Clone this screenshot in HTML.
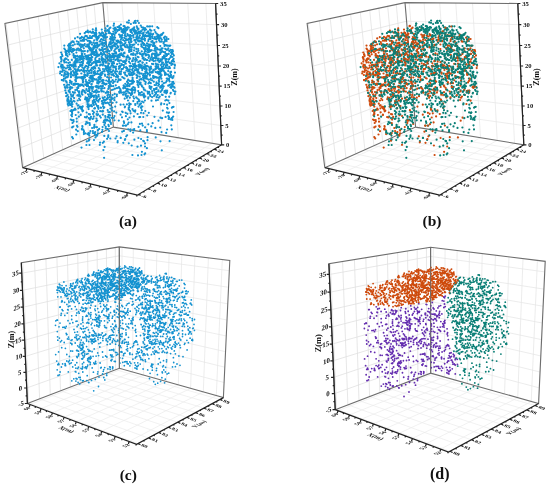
<!DOCTYPE html>
<html><head><meta charset="utf-8"><title>figure</title><style>html,body{margin:0;padding:0;background:#fff}svg{display:block}</style></head><body>
<svg width="550" height="486" viewBox="0 0 550 486" font-family="'Liberation Serif', serif" font-weight="bold">
<rect width="550" height="486" fill="#fff"/>
<g transform="translate(0 0)">
<path d="M23.7 167.2L6.1 23.2M33.9 162.6L17.2 20.8M43.8 158.2L28 18.5M53.4 153.9L38.3 16.3M62.7 149.8L48.4 14.2M71.7 145.7L58.1 12.1M80.5 141.8L67.5 10.1M89 138L76.7 8.2M97.2 134.4L85.5 6.3M105.2 130.8L94.1 4.5M20.2 148L111.9 110.1M17.8 128.1L110.5 92.8M15.3 107.8L109 75.3M12.8 87.3L107.5 57.5M10.2 66.3L105.9 39.5M7.6 45.1L104.4 21.2" stroke="#dedede" stroke-width="0.7" fill="none"/>
<path d="M117.4 127.8L107 2.7M131.8 130.1L121.9 2.8M146.7 132.6L137.5 2.9M162.2 135.1L153.6 3M178.3 137.7L170.3 3.2M195 140.4L187.8 3.3M212.3 143.3L205.9 3.5M111.9 110.1L220.8 125.5M110.5 92.8L219.9 106M109 75.3L219.1 86.1M107.5 57.5L218.3 66M105.9 39.5L217.4 45.5M104.4 21.2L216.5 24.7" stroke="#e5e5e5" stroke-width="0.7" fill="none"/>
<path d="M23.7 167.2L138.3 194.6M33.9 162.6L148 188.8M43.8 158.2L157.3 183.2M53.4 153.9L166.3 177.8M62.7 149.8L175 172.6M71.7 145.7L183.4 167.6M80.5 141.8L191.5 162.8M89 138L199.3 158.1M97.2 134.4L206.8 153.6M105.2 130.8L214.1 149.2M26.8 168.7L117.4 127.8M41.8 172.3L131.8 130.1M57.5 176L146.7 132.6M73.8 180L162.2 135.1M90.8 184.1L178.3 137.7M108.7 188.3L195 140.4M127.3 192.8L212.3 143.3" stroke="#ebebeb" stroke-width="0.7" fill="none"/>
<path d="M22.6 167.7L4.9 23.4L102.8 2.6L215.6 3.5L221.6 144.8L113.4 127.1L22.6 167.7M102.8 2.6L113.4 127.1" stroke="#6e6e6e" stroke-width="1.1" fill="none"/>
<path d="M113.3 67.4h0M139.9 83.4h0M70.9 101.3h0M128.8 27.7h0M68.1 45.6h0M144.3 60h0M146.6 63h0M105.5 28.4h0M168.3 115.9h0M171.3 125.3h0M130.3 30h0M133.4 96.7h0M88.6 109.1h0M166.5 74.3h0M124.4 31.1h0M73.5 53.9h0M91.3 88.7h0M152.9 59.7h0M96 32.4h0M162.1 34.2h0M131.3 31.7h0M159.2 79h0M78.4 105.4h0M134.4 139.7h0M173.9 83.4h0M81.9 77.6h0M91.6 94.8h0M100.5 41.3h0M103.3 49.7h0M146.5 75.9h0M126 40.5h0M92 44.6h0M140 64.5h0M173.1 81.9h0M96.8 87.4h0M104.9 74.6h0M70.8 119.5h0M89 140.2h0M128.8 22.8h0M97.5 71.5h0M128.8 143.3h0M95.1 72.9h0M123.5 26.1h0M82.8 80.9h0M106.5 46.8h0M118.6 80.4h0M138.4 28.9h0M143.7 53.8h0M92.3 75.7h0M60.7 57.5h0M93.7 48.8h0M102.5 62.1h0M60 73.5h0M163.9 37.7h0M138.8 99.7h0M126.1 67.1h0M168.2 71.1h0M96 104.1h0M163.9 71.1h0M88 85.5h0M76.8 41.3h0M70.8 69.6h0M132.1 69.6h0M91.3 32.6h0M95.9 62.2h0M96.2 65.6h0M171.9 107.7h0M114.2 53.7h0M165.3 100.5h0M137.5 102.1h0M154.2 90.6h0M69.9 62.4h0M113.2 86.2h0M162.6 57.2h0M90.3 41.3h0M158.2 67.7h0M120.8 137.9h0M65.9 81h0M98.5 61.9h0M110.2 42.4h0M83.8 48.3h0M88.6 32.3h0M161.5 86.3h0M109.3 28.5h0M165.2 91.3h0M124.9 46.4h0M87 116.6h0M75.8 69.3h0M78.1 77.4h0M98.6 94.9h0M158.6 58.5h0M161.5 71.2h0M89.9 49.5h0M171.6 61.8h0M70.2 65h0M133 82.3h0M110.7 41.3h0M159.2 74.3h0M166.4 55.9h0M137.8 29.7h0M71.2 73.8h0M133.2 53.4h0M68.4 101.7h0M107.3 30.1h0M148.6 73.6h0M124.1 122.9h0M127 81.8h0M136.5 51.5h0M132.3 90.9h0M134 66.2h0M111.3 86.1h0M137.4 98.5h0M64.4 60.6h0M111.2 81.7h0M95.2 68.4h0M139.6 101.1h0M87.4 31.8h0M164.2 104h0M102.6 102.5h0M99.7 41.4h0M138.5 31.7h0M107.8 129.2h0M81.9 109.7h0M89.3 61.9h0M104.2 53.7h0M87.4 85.9h0M108.4 124.9h0M62.4 65h0M77.4 95.4h0M81.8 36.9h0M98.1 114.4h0M124.9 139.9h0M69 69.5h0M118.1 76.4h0M154.5 116.8h0M98.3 87.3h0M144.6 30.7h0M122.9 68.8h0M166.1 49.3h0M96.8 100.5h0M138.5 87h0M96.6 92.4h0M139.8 53.2h0M138.4 138h0M85.7 124.2h0M156 100.4h0M105.5 61.4h0M87.8 75.1h0M104.1 99.5h0M103.2 40.2h0M159.1 68.7h0M100.3 79h0M126.2 68.1h0M79.5 57.5h0M143.7 67.8h0M144.2 97.4h0M105.8 128.5h0M103.2 80.1h0M161.8 150.3h0M129.4 59.2h0M130.7 104.2h0M83.1 110.7h0M161.2 52.3h0M152.6 41.8h0M149.2 56.2h0M170.3 45.6h0M167 90.5h0M148.7 39.3h0M139.4 64.3h0M75.7 77.5h0M104.2 70.8h0M135.3 110.3h0M93.6 52.3h0M167.1 107.8h0M142.4 106.5h0M92 106.3h0M163.1 66.4h0M104.2 36.1h0M86.4 89h0M64.5 62.4h0M139.5 40.7h0M128.6 38.9h0M157.1 49.5h0M148.6 66.7h0M107.2 91.3h0M171.9 54h0M66.6 85.7h0M71.6 83.8h0M126.9 89.8h0M98.1 36.8h0M123.3 88.3h0M102.6 55.1h0M86.6 70.9h0M139.5 80h0M132.8 28.7h0M151.8 36.6h0M105.3 55h0M63.1 67.1h0M85.8 85h0M81 50.3h0M71 76.1h0M137.8 82.7h0M90.6 54.7h0M169.3 51h0M165.2 72.5h0M146.1 29.5h0M75.1 74.4h0M96.5 118.6h0M127.5 46.7h0M106.3 120.6h0M109.3 86.7h0M124.8 35.5h0M167.5 62.1h0M121.6 29.6h0M77.9 83.8h0M164.5 58.3h0M131.7 88.5h0M111.1 39.7h0M140.5 31.4h0M102.4 81.5h0M157.7 73.2h0M142 41.8h0M130.9 74.6h0M87.2 97.9h0M102.2 111.6h0M77.6 84.1h0M110.2 33.2h0M90.2 50.3h0M93.1 35.9h0M155.1 76.8h0M132.4 155h0M104.3 107.3h0M155 77.1h0M105.1 75.8h0M121.2 92.7h0M85.5 66.6h0M91.7 53.2h0M108.9 70.9h0M139.6 79.7h0M125.1 43.5h0M143 43.1h0M155.2 57.2h0M155.8 63.7h0M87.8 58.2h0M158.4 28.2h0M143.5 59h0M96.6 90h0M111.8 63.4h0M110.6 67.1h0M68.5 49.2h0M94 133.2h0M113 40.8h0M82.9 82.4h0M120.5 79.9h0M92.5 76.9h0M111.4 57.4h0M153.8 81.7h0M71 98.3h0M80 56.1h0M145.5 35.7h0M77.6 60.8h0M148.1 31.4h0M171.8 129.4h0M113.2 70.5h0M124.5 78.5h0M82.3 53.8h0M125.4 46.9h0M126 39.1h0M159.4 71.8h0M139.4 73.7h0M128 40h0M125.8 63.6h0M83.3 60.5h0M147.2 115.5h0M169.4 103.1h0M125.3 32.2h0M94.4 126.1h0M127.8 124.2h0M164.4 64.4h0M150.2 69h0M99.3 32.8h0M134 81.7h0M143.3 117h0M125.7 91.3h0M166.8 59.2h0M70.4 81.3h0M84.9 117.1h0M151.8 57.1h0M129.3 36.3h0M97.1 47.7h0M138.9 23h0M120.6 104.7h0M145.1 127.3h0M164.8 56.2h0M116.8 76.2h0M134.9 63.9h0M71.9 114.4h0M149.3 45.1h0M66.3 62.3h0M76.5 61.2h0M79.3 84.6h0M118.8 68.7h0M145.4 35.1h0M143.7 79.9h0M73 75h0M62.1 80.2h0M120.8 74.3h0M96.9 105.7h0M148.6 39.5h0M99.5 54.6h0M141.1 38.6h0M142.8 42.9h0M154 96h0M94.2 40.4h0M102.3 44.9h0M169.5 46h0M150.6 79.7h0M68.2 60h0M106.7 83.8h0M113 83.1h0M120.9 65.6h0M102.7 97.6h0M132.2 91h0M150 74.8h0M79.8 95.7h0M74.2 65.1h0M98.7 82.1h0M109.5 51.2h0M114.3 57.7h0M105.8 55.4h0M130.1 58.5h0M151.4 30.6h0M153.8 70.4h0M172.9 84.1h0M93.2 78.5h0M150.2 30.6h0M150.8 33.4h0M92.1 36.5h0M165.2 52.1h0M69.9 82.5h0M120.8 35.3h0M139 94.7h0M67.4 87.7h0M125.8 61.2h0M71.7 66h0M94.2 127h0M151.8 50.3h0M171.3 84.2h0M66.2 53.1h0M101.8 101.2h0M148.6 79.7h0M165.1 56.7h0M137.5 103.4h0M88.8 100.6h0M123.7 78.1h0M146.9 131.4h0M125.5 42.8h0M107.6 25.9h0M107.3 71h0M156.6 87.9h0M121.3 53.4h0M133.3 58.2h0M73.4 85h0M138.9 92.9h0M81.9 128.9h0M123.8 65.2h0M141.4 46.2h0M79.2 70.8h0M145.1 73.7h0M80.6 108h0M113.4 56.3h0M62 54.7h0M88.8 55.3h0M149.9 69.8h0M144.4 36.8h0M126.4 70.5h0M97.9 130.1h0M128.9 70h0M82.4 40.7h0M92.6 119h0M157.7 34.7h0M102.9 98.1h0M78.3 87.9h0M82.9 90h0M158 72.9h0M173.6 112h0M111.7 56h0M64 78.6h0M103.2 111.1h0M75.8 66.5h0M61.2 59h0M161.7 64h0M96.3 36.9h0M97.2 135.6h0M74.5 72.8h0M112.7 98.6h0M139.8 76.7h0M154.6 85h0M93.3 42.7h0M86.4 98.9h0M118.9 66.6h0M127.7 69.2h0M84.8 44.1h0M77.2 87.9h0M94.4 75h0M70.5 73.5h0M169.1 117.4h0M131.8 80.7h0M166.6 99.9h0M123.8 85.7h0M78.1 48.5h0M98.3 101h0M130.6 113.3h0M65.8 74.7h0M172.9 51.2h0M135.1 33.8h0M96.3 135.7h0M133.9 116.4h0M123 55.3h0M163.6 52h0M91.6 51.9h0M108.1 81.4h0M143.4 87.8h0M123.1 88h0M87.9 46.7h0M155.2 92.5h0M78.6 85.9h0M79.2 62.3h0M95.4 61.3h0M99.2 128.9h0M127.8 119.3h0M99 36h0M103.1 59.4h0M124 87.4h0M152.6 34.5h0M80.7 62.5h0M109.9 54.8h0M72.6 96.5h0M165.9 62.5h0M155.6 69.3h0M172.5 50.1h0M156.9 38.6h0M105.8 126.9h0M105.8 42.1h0M110.3 138.5h0M170.3 57.6h0M150.8 78.5h0M124.1 72.7h0M125.3 63.5h0M151.4 72.1h0M89.2 90h0M158.8 80.6h0M160.3 46h0M150.3 51.1h0M118.4 40.9h0M170.5 49.8h0M113.3 59.5h0M72.8 65.3h0M95.2 36.4h0M141.6 85.3h0M95.9 50.6h0M96.8 52.8h0M168.6 53.9h0M125.3 94.6h0M122.2 131.7h0M92.6 95.9h0M156.1 77.1h0M168.4 100.7h0M164.4 92.5h0M101 52.9h0M137.5 146.7h0M102.4 129.8h0M154.9 37.2h0M154.3 42.9h0M106.2 66.4h0M161.1 35.3h0M112.3 74.8h0M148.9 26.5h0M93.2 95.9h0M156.5 82.3h0M77.4 44.1h0M76.1 129.7h0M129.8 66.6h0M86.4 59.2h0M62.6 69.9h0M74.9 65.8h0M110.1 38.8h0M127.7 35h0M96.2 92.7h0M104.3 83.9h0M108.1 120.6h0M168.7 53.9h0M143.1 33.5h0M136.9 70.4h0M168.6 75.6h0M156.5 52.4h0M77.3 55.8h0M86.3 122.1h0M164.3 58h0M114.5 44.3h0M156.6 58.3h0M134.9 70.1h0M87.8 61h0M143.5 113.2h0M80.8 40.7h0M103.4 64.1h0M150.9 66.6h0M111.7 97.4h0M92.8 88.8h0M165.8 82.4h0M122.6 61.3h0M119 42.1h0M146.5 60.1h0M143.5 74.1h0M131.8 72.8h0M167.2 90.9h0M142.1 101.5h0M130.2 63.3h0M91 97.2h0M85.4 133.3h0M133.2 87.2h0M87 86.2h0M77.6 37.2h0M141.9 38h0M113.6 81.6h0M97.2 115.2h0M104.1 120.7h0M127.7 86.1h0M72 102.2h0M63.9 79h0M155.1 57.1h0M125.5 125.7h0M71.4 110.1h0M123 44.8h0M65.7 77.3h0M136.9 32.7h0M156.7 39h0M125.3 83.8h0M143.7 66.7h0M72.8 92.1h0M90.6 78.6h0M92.2 91h0M82.4 65.2h0M90.1 31.6h0M103.7 35.8h0M145.2 153.3h0M75.4 69.3h0M169.1 45.7h0M153.2 64.2h0M130.1 75.2h0M89.2 59.7h0M118.4 59.3h0M104.9 100.7h0M161.4 48.4h0M107.2 92.5h0M158.2 85.7h0M93.7 46h0M129.8 71.3h0M90.6 77.2h0M150.8 68.9h0M152.1 80.3h0M133.3 129.5h0M133.3 74.4h0M168.7 119h0M161.5 68.6h0M132.1 75.3h0M105.6 92.8h0M105.1 122.9h0M86.2 117.5h0M109.3 56h0M102.8 142.8h0M88.8 45.6h0M161.1 104.5h0M120.2 92.1h0M131.7 92.5h0M162.1 81.5h0M119.5 56.5h0M111.7 34.1h0M93.1 113.9h0M81.6 62.2h0M91.3 72.9h0M97.9 91.7h0M113.3 62.5h0M168.4 68.4h0M96.5 56.8h0M173.5 106.8h0M66.4 93.2h0M141.3 67.9h0M90.8 69.7h0M71.8 59.9h0M171 75.3h0M162.3 51.2h0M97.2 42.8h0M87.9 46.6h0M120.7 90.7h0M99.1 78.9h0M156.6 96.6h0M166.4 49.8h0M137.5 36.4h0M173.2 116.6h0M161.1 75.6h0M96.3 37.8h0M89.7 70.8h0M91 42.4h0M87.8 59h0M115 88.7h0M129.1 52h0M93.8 62.5h0M131.2 42.1h0M109.1 114.9h0M150.2 38.2h0M166.8 54.2h0M69.5 54.3h0M166.7 78.5h0M128.9 42.2h0M109.4 117.9h0M67.4 65.6h0M90.4 131.2h0M81.9 55.1h0M76 59h0M117.1 64.2h0M131.4 122.4h0M137.1 53.6h0M114.4 100.2h0M160.6 92h0M87.5 91h0M102 91.2h0M92.4 80.5h0M107.5 67.2h0M169.1 80.2h0M93.8 104.9h0M172.5 85.4h0M66.2 92.8h0M132.7 83.4h0M68.4 99.3h0M93.9 92h0M90.1 61.3h0M158.4 90.3h0M71.3 105h0M143.2 27.8h0M127 27.8h0M136.5 70.4h0M85.6 97.3h0M118.3 46.9h0M70.4 111h0M120.7 137.9h0M124.9 62.4h0M107.9 116.9h0M87.5 134.1h0M93.4 104.6h0M115.3 46.5h0M91.2 55.1h0M73.7 42.2h0M112.3 107.5h0M152.2 26.3h0M116.6 136.3h0M110.3 60h0M136.3 48.9h0M127.6 85.5h0M149.8 33.4h0M153 106.5h0M119.4 92.8h0M108.3 68h0M169.6 141.1h0M116.5 29.6h0M157.8 77.6h0M64.8 59.2h0M65.3 87.9h0M137.2 34.1h0M88.4 67.3h0M168.5 113h0M70.3 104.8h0M79.3 91.3h0M158.4 54.5h0M155.4 88.9h0M88 37.9h0M172.9 89.8h0M121.5 69.5h0M91.1 95.5h0M133.3 35.2h0M80.6 64.9h0M76.9 50.1h0M90.7 96h0M93.6 72.1h0M93.6 102.7h0M149.6 86h0M119.8 57h0M79.8 38.3h0M80.2 57h0M127.3 47.4h0M109.7 42.4h0M96.1 99.3h0M171 74.9h0M162.2 34.6h0M124.5 37.9h0M144.5 48.6h0M86.6 89.5h0M116.9 75.2h0M94.1 54.9h0M83.6 51.4h0M66.3 77.3h0M78.8 67.2h0M70.9 74.2h0M125.7 112.8h0M132.3 88.8h0M145.3 111h0M85.2 75.4h0M88.2 62.3h0M103 86.1h0M142.8 55.1h0M153.8 89h0M67.4 55.6h0M114.9 72.1h0M145.6 45.7h0M162.5 58.5h0M130.3 51.1h0M172.2 82h0M120.8 54.9h0M160.6 71.2h0M99.5 61.2h0M115.9 66.5h0M87.9 105.9h0M150.3 87.2h0M171.1 71.9h0M101.9 60.3h0M110.7 69.3h0M77.8 105.6h0M118.4 80.1h0M156 85h0M111.9 110.4h0M119.7 71.7h0M147.4 49.2h0M83.8 68.5h0M162.7 95h0M116.8 56.2h0M84.5 72.3h0M109.2 31.9h0M139.9 123.9h0M140.8 25.5h0M160.3 50.1h0M83.1 61.7h0M153.2 33.9h0M135 59.8h0M135.2 30.3h0M142.3 37.1h0M145.1 68.6h0M118.1 30.2h0M129.3 51h0M158.5 120.7h0M70 87.6h0M97.6 106.4h0M123.7 31.6h0M146.7 54.9h0M135.9 66.2h0M102.8 54.7h0M102.3 42.3h0M120.6 114.7h0M103.7 52.1h0M163.3 70.3h0M75.8 56.7h0M67.6 56.5h0M136.6 68.8h0M135.6 42h0M138.9 40.5h0M127.5 27.4h0M145.7 65.8h0M82.7 39.8h0M114.7 67.2h0M115.6 43.4h0M75.7 58.5h0M89 63.5h0M170.4 87.2h0M73.1 75.4h0M172.1 117.9h0M64.3 45.6h0M108.5 60.3h0M102.6 42.8h0M125.2 72.6h0M68.4 74.3h0M94.9 108h0M100.7 35.5h0M136.3 59.2h0M145.6 73.1h0M65.9 92.9h0M106.8 70.5h0M102.9 79.8h0M83.7 70.2h0M156.7 77.7h0M120.8 73.6h0M145.3 59.1h0M74.6 72.5h0M117.6 142.3h0M123.6 29.1h0M88.7 104.4h0M149 52h0M148.3 41.1h0M89.6 133.1h0M99.2 86.7h0M141.8 65.3h0M164 83.1h0M138.9 100.9h0M132.7 61.2h0M71.4 103.7h0M122 117.3h0M126.2 136.3h0M101.1 88.5h0M127.8 91.6h0M166.1 61.8h0M84.8 54h0M142.8 68.1h0M92.7 53.1h0M69.8 104.1h0M131.3 30.5h0M70.2 89.4h0M159.2 61.5h0M105 30.8h0M102.4 110.9h0M100.1 142.6h0M72.1 127.4h0M159 73.3h0M93 52.6h0M98.1 70.9h0M101.3 43.6h0M167 68h0M142.5 29.5h0M66 55h0M93.8 116.3h0M152.5 36.5h0M96 34.9h0M144.9 100.5h0M101.8 29.6h0M81 108.6h0M137.5 75.5h0M155 50.1h0M93.5 102.7h0M65.9 68.5h0M130 51.4h0M105.4 37.7h0M70.4 101h0M131.5 49.5h0M139 32.8h0M149.6 68.4h0M127.9 96.1h0M105.6 34.9h0M73.8 72.8h0M113.1 74.1h0M96.1 50.2h0M150.8 68.3h0M172.3 119.9h0M102.6 48.3h0M160.2 86.9h0M132.8 60.1h0M110.1 57h0M162.6 48.3h0M62 71.8h0M108.2 136.9h0M157.7 64.3h0M117.1 71.5h0M108.2 89h0M82.4 64.5h0M80.4 85.7h0M98.8 88.3h0M79.1 98.6h0M137.2 27.9h0M119.6 54.2h0M89.1 80.4h0M110.5 42.9h0M87.1 55.7h0M128.2 71.4h0M125.2 36h0M114.5 116.1h0M152.3 93.1h0M141.2 78.8h0M132.6 77.8h0M154.7 95.1h0M135.2 54.3h0M67.7 104.1h0M86.8 36.1h0M149.2 34.8h0M98.7 100.1h0M147.5 52.4h0M103.7 108.1h0M73 71.1h0M94.1 127.8h0M94.8 71.2h0M99.9 76.5h0M160.2 52.3h0M69.7 45.6h0M132.8 66.5h0M116.5 40.8h0M88.3 99.5h0M119.4 60.8h0M72.3 111.3h0M100.8 86.2h0M122 45.4h0M122.6 54.8h0M145 146.5h0M165.7 90.5h0M69.2 84.8h0M130.2 44.9h0M109.1 53.7h0M127.2 84.8h0M118.9 68.8h0M66.1 50.8h0M72.4 65.6h0M121.6 69.1h0M136.4 65.9h0M120.9 60.3h0M88.8 114.1h0M98.4 108.8h0M130.1 37.5h0M71 64.8h0M81.9 53.7h0M160.6 59.3h0M108.6 116h0M87.1 63.1h0M64.3 74.9h0M74.9 92.6h0M86.8 83.8h0M125.4 88.2h0M64.8 87.1h0M152.7 72.4h0M127.7 55.6h0M96 63.9h0M113.8 56.7h0M161.5 70.6h0M140.3 66.1h0M122.3 77.1h0M158.3 83.6h0M94.3 45.3h0M153 76.1h0M116.6 44.2h0M77 89.8h0M128.1 83.1h0M107.3 98.9h0M149.9 68.2h0M125.8 86.3h0M131.3 83.8h0M104.4 83.4h0M149.5 86.9h0M87.6 51.6h0M141.8 51.4h0M111.7 117.8h0M69.4 101.4h0M123.3 142.8h0M128 27.3h0M94.2 92h0M96.5 79.4h0M114.8 81.6h0M171.2 86.6h0M91.8 84h0M133.6 37.4h0M130.8 89.8h0M142.7 58.3h0M125.2 74.7h0M120.5 53.6h0M105.4 119.4h0M69.2 50.8h0M109 86.8h0M87.3 73.1h0M67.7 77.1h0M116.1 52.3h0M95.3 90.8h0M127.7 80.6h0M97.3 65.4h0M140.2 117h0M114 63.5h0M80.7 114.5h0M135.2 65.7h0M169.6 63.1h0M111.4 72.2h0M151.8 56.5h0M121.6 64.2h0M104.2 53.3h0M81.9 65.4h0M84.7 67.3h0M156.5 33.5h0M170.3 72.1h0M102.3 83.5h0M141.9 54.6h0M150.2 95.6h0M133 80.6h0M105.6 59.7h0M140.2 67.3h0M105.1 65.8h0M128.2 79.6h0M143.4 102.3h0M171.2 88h0M150.9 44.7h0M129.5 117.5h0M95.2 54.9h0M145.4 84.1h0M92.8 77.5h0M143.3 27.6h0M87.5 82.9h0M104.3 43.1h0M171.9 50h0M101.1 49.8h0M165.7 60.6h0M156 93.7h0M143.8 28.9h0M165.9 65.9h0M127.4 113.8h0M139.4 37.3h0M131.3 38.7h0M140.9 95h0M125.9 116.2h0M103.1 100.5h0M89.3 135.6h0M130.2 35.1h0M130.4 129.4h0M143 57.9h0M146.5 71.8h0M93.3 69.1h0M124.2 61h0M63.6 80.7h0M87.8 84.7h0M102.5 32.8h0M141.3 44.4h0M69.4 65.2h0M149.4 44.9h0M130.2 111h0M78.3 95.8h0M142.2 70h0M110.9 39.2h0M84.7 33.2h0M105 40.3h0M80.2 107h0M103.6 83h0M108.7 59.8h0M147.3 60h0M127.3 29.5h0M117.3 55.8h0M84.9 51h0M80.1 100.1h0M87.7 30.6h0M114 23.7h0M81.9 109h0M110.4 84.4h0M73.9 83.8h0M129.2 92.9h0M156.7 68.2h0M73 48.8h0M96.5 51.7h0M152.6 123.2h0M102.2 103.7h0M70.2 67.9h0M74.1 109.8h0M93 87h0M171.4 52.1h0M155.7 72.1h0M74 57.4h0M87.3 101.9h0M119.2 27.6h0M93.9 112.4h0M69.5 92.5h0M97.2 47.7h0M111.5 46.5h0M156.2 77.4h0M146.9 78.7h0M98 74h0M105.8 43.3h0M121.6 31.7h0M135.2 104.1h0M144.6 89.5h0M151.5 86.9h0M117.4 27h0M81.4 70h0M72.3 49.6h0M84 131.2h0M174.8 94.1h0M164.7 68.1h0M76.6 103.7h0M129.6 49.2h0M147.5 91.7h0M68.9 52.3h0M86.2 57.4h0M117.5 45.8h0M134.7 67.5h0M101.7 72.3h0M144.9 50h0M79.9 106.9h0M124.7 40.9h0M85.6 56h0M108.7 86h0M102.6 127h0M103.2 33.1h0M110.7 47.5h0M156.9 66.7h0M129.5 39.3h0M134.3 47.7h0M122.1 64.7h0M146.9 76.1h0M92.7 103h0M98.7 68h0M79.1 50.4h0M109.9 121.6h0M97.1 61.3h0M84.4 74.8h0M126.9 45h0M139.1 33.1h0M112.4 47.8h0M123.4 29h0M88.8 140.7h0M163.6 43.4h0M106.8 68.2h0M115 27.9h0M131.3 74.1h0M105.9 68.1h0M140.3 32.9h0M75.6 71.2h0M95.7 47.5h0M93.2 47.6h0M159.3 62.1h0M72.5 123h0M105.1 48.9h0M136.9 60h0M119 87h0M86.3 39.5h0M174.8 64.7h0M170.8 92.8h0M109 131h0M76.9 62.5h0M120.9 39.3h0M103.5 122.3h0M163.3 32.8h0M89.1 40.8h0M96.2 79.7h0M149.6 37.2h0M97.2 111.7h0M119.4 28.2h0M73.5 120.1h0M129.6 47h0M64.1 84.8h0M111.1 59.7h0M144.5 154.3h0M157.9 100h0M159.3 77.7h0M168.1 74.5h0M115.2 106.6h0M83.5 86.1h0M73 75h0M87.5 74.8h0M136.9 77.9h0M91 65.2h0M172.2 52.9h0M93.7 75.3h0M136.8 26.3h0M71.3 115.2h0M165.2 56.5h0M150 26.4h0M110.8 44.3h0M80.8 44.4h0M122.8 49.7h0M163.6 57h0M169.6 81.5h0M87.9 70.4h0M88.4 133.2h0M156.5 89.1h0M165.5 67.4h0M98.4 101.7h0M170.6 63.1h0M81.5 51.4h0M127 75.9h0M113.2 70.4h0M90 92.9h0M65 49.5h0M116.5 40.9h0M76.8 78.3h0M102.8 114.7h0M150.4 39.2h0M75 72.3h0M146.4 55.2h0M138.2 49h0M160.1 41.7h0M104.6 146.9h0M172.2 64h0M124.7 98.7h0M80 65.2h0M68.5 97.1h0M96.6 85.8h0M141 103.6h0M105.3 120.6h0M79 92.6h0M109 63.8h0M87.5 82.4h0M123.2 32.9h0M97.8 56.1h0M66.8 53.4h0M96.9 97.3h0M134.1 98.5h0M129.8 97.7h0M76 81.2h0M101.6 56.9h0M109 67.7h0M93 49.5h0M73.6 67.2h0M143.7 32.8h0M129 109.7h0M115.8 28.9h0M103.1 36.7h0M79.6 45.5h0M85 99.1h0M102.6 73.5h0M128.7 122.5h0M116 76.8h0M148.5 36h0M134.1 50.4h0M114.6 34.9h0M129 73.9h0M133.4 29.9h0M87.4 106.5h0M74.1 98.1h0M115.5 52.1h0M173.8 55.4h0M161.6 75h0M75.3 60.9h0M133.5 110.8h0M159.9 76.8h0M145.6 78.3h0M148.9 82.9h0M89.5 77.6h0M143 75.5h0M73.3 94.6h0M130.4 66.6h0M154.3 45.8h0M139.6 104.8h0M158.5 38.2h0M103.2 62.9h0M144.2 38.9h0M162 59.8h0M167.5 45.7h0M84.5 92.1h0M103 69h0M113.7 42.3h0M164.5 46.1h0M66.7 82.5h0M148.2 51.8h0M119.5 30h0M100.5 107.6h0M120.8 41.3h0M76.3 134.5h0M129.2 105.6h0M139.9 35.3h0M152.2 72.4h0M159.6 36.1h0M140.9 107.7h0M160.1 69.2h0M142.8 62.5h0M154.9 45.9h0M98.9 77.1h0M144.6 76.2h0M73 95.8h0M123.4 55.5h0M78 69.2h0M111.6 74.7h0M112.7 45.7h0M164.9 39.4h0M97.2 82h0M129.7 80.9h0M86.4 145h0M77.5 74h0M77 125.9h0M82.1 78.7h0M138.4 82.6h0M80.1 59.8h0M102.6 71.7h0M115.2 27.8h0M135.9 30.9h0M82.9 51h0M110.2 61.4h0M62.4 55.9h0M82.7 106.4h0M103.3 63.9h0M102 131.8h0M91.3 58.8h0M163.7 86.3h0M146.7 69.8h0M80.7 115.1h0M131.7 145.5h0M144.2 28.9h0M140.3 61.2h0M112.1 35.4h0M95.5 33.9h0M76.7 77.3h0M96.2 73.9h0M91.7 93.3h0M94.4 66.7h0M139.8 41.3h0M95 108.3h0M90.8 81.4h0M102.5 86.2h0M155.6 60.6h0M85.9 80h0M70.6 86.8h0M111.9 90.1h0M99.6 69h0M142 86.4h0M169.2 96.8h0M87.7 40.8h0M140.2 40.8h0M110.6 100.1h0M114.6 97.7h0M173.5 76h0M164.8 72.8h0M131.2 54.2h0M99.9 98.7h0M123.1 40.1h0M94.4 124.8h0M108.6 45.5h0M61.1 57.9h0M111.4 49.8h0M83.3 81.5h0M100 70.5h0M102.1 47.6h0M88.4 62.6h0M148.3 124.3h0M115.1 33h0M158.6 36.3h0M111.9 98.9h0M94.8 79.3h0M160.5 61.1h0M120.4 89.4h0M67.3 100.2h0M138.1 40.9h0M114.3 50.9h0M104.1 157.8h0M96.9 127.2h0M97.5 44.4h0M74.9 84.7h0M79.2 94.4h0M127.9 56.9h0M66 53.7h0M92.8 80.8h0M141 145.7h0M70.9 49.7h0M78.5 112.3h0M98.1 80.4h0M92.9 131.1h0M123.8 121.4h0M145.7 75.6h0M113.4 66.2h0M108.5 114.8h0M119.2 51.2h0M70 80.6h0M149.8 75.5h0M144.6 69h0M132.3 93.2h0M106.3 33.7h0M134.8 87.9h0M151.8 55.1h0M154.1 38.7h0M147.6 74.1h0M75.7 83.5h0M87.6 100.2h0M96.3 45.6h0M121.9 43h0M155.4 68.6h0M156.8 55.8h0M147.1 36.1h0M71.8 120.2h0M147.6 32.5h0M113.3 31.6h0M160.1 73.9h0M108.1 72.3h0M173.5 90.8h0M80.1 33.8h0M84 45.4h0M138.2 62.1h0M157.8 95h0M171.7 87.2h0M118 46.8h0M155.3 58.2h0M136.6 36h0M107.2 77.2h0M93.5 48.4h0M135.9 58.9h0M132.4 70.7h0M97.2 83.1h0M158.2 66.5h0M164.7 45h0M79.4 59.7h0M156.4 41.7h0M148.9 44.4h0M172.7 53.7h0M96.2 97.6h0M145.9 35.9h0M119.8 55.2h0M141.6 79.5h0M120.3 35.6h0M165.4 53.8h0M157.4 37.4h0M101.8 72.7h0M73.6 121.6h0M98 54.8h0M110.5 56.1h0M83.1 71.1h0M126.6 39.7h0M91 116.8h0M81 47.2h0M83.3 51.5h0M161.4 78.7h0M152.4 38h0M97.1 62.4h0M100.2 111.2h0M127.1 135.3h0M136.7 39.5h0M124.4 92.6h0M63.8 76.1h0M128.4 35.2h0M116.5 102.3h0M137.5 82.6h0M156.9 36.5h0M71.1 72.2h0M129.2 103.4h0M100.1 50.5h0M113.9 66.4h0M131 35.9h0M71.9 52.1h0M174.9 65.7h0M162.4 84.5h0M132.5 109.1h0M67.7 95h0M109.7 115.1h0M82.7 44.9h0M139.2 61.6h0M137.6 84.8h0M90.8 37.9h0M108.7 33h0M75.8 59.7h0M103.4 82.7h0M165.6 73.3h0M69.7 87.4h0M86.8 83.2h0M141 112.8h0M142 123.6h0M142.4 62.8h0M69.2 67h0M82.4 94.7h0M112.6 95h0M72.2 113.8h0M170.8 52.5h0M133.1 55h0M80.6 57.8h0M119.4 73.9h0M129.5 45h0M150.9 58.1h0M85.7 66.1h0M136.3 39.6h0M166.5 37.3h0M115.6 71h0M140.1 54.1h0M117.9 76.1h0M123.6 85.7h0M149.5 60.9h0M142.7 125.6h0M108.8 126.2h0M138.3 32.8h0M122.1 111.6h0M133.1 132.6h0M107.9 97.9h0M137.7 56.8h0M143.8 93.5h0M68.9 44.4h0M162 86.2h0M148.4 46.5h0M148.2 32.9h0M91.3 84.3h0M116.2 53.7h0M74.6 69h0M95 101.7h0M92.7 52h0M61.3 64.5h0M72.1 137.1h0M92.6 110.9h0M152.7 53.7h0M99.9 116.1h0M169.2 45.8h0M82.5 111.3h0M167.7 79h0M115.1 37.6h0M172.6 107.1h0M88.2 57.3h0M107.3 52h0M155 55.2h0M86.8 141.4h0M155.6 51.2h0M77.9 70.1h0M63 67.9h0M81.3 77h0M152.1 91.1h0M124.6 26.5h0M101.6 59.3h0M94.9 43.3h0M157.5 49.1h0M169.1 78.8h0M95.8 60.5h0M161.2 86.2h0M153.9 43.2h0M73.3 64.4h0M118.9 79.3h0M150.3 95.9h0M146.5 77.4h0M72.1 106.6h0M90.8 94.7h0M132.9 68.5h0M87.4 104.1h0M132.9 64h0M141.1 67.7h0M128.9 20.5h0M144.6 52h0M95 134.2h0M161.8 39.5h0M90 36h0M147.9 93.7h0M127.1 22.4h0M95.7 63.6h0M89 91.2h0M143.9 141.2h0M107.8 56.2h0M149.5 34.1h0M110.8 122.7h0M116.3 112.6h0M80.9 56.2h0M111.5 65.6h0M126.1 125.6h0M141.2 108h0M95.6 30.2h0M105.7 51.6h0M149.7 46.4h0M109.1 83.3h0M85.5 35.8h0M117.7 57.3h0M100.9 39.5h0M67.5 67.6h0M109.8 55.2h0M97.3 54.1h0M126 96h0M165.1 36.5h0M75.1 62.3h0M163.7 64.3h0M107.4 95.4h0M68.8 46.9h0M75.3 90h0M123.8 53.2h0M98.7 96.4h0M140.3 130.3h0M90.3 60.6h0M132.2 44.8h0M74.5 101.4h0M137.6 114h0M96.3 33.8h0M89.3 48.7h0M141.5 155h0M79.2 70.3h0M106.8 57.9h0M99.1 55.4h0M114.5 120.3h0M147.9 48.6h0M153.7 46h0M117.7 141.1h0M120.2 43.1h0M70.9 94.4h0M97 135h0M107.2 47.2h0M148.2 98.6h0M121.2 71.6h0M75.3 80.1h0M161.5 132.1h0M159.1 69.4h0M128.7 85.6h0M149.5 70.6h0M120.1 49.3h0M65.8 51.9h0M64.2 70.5h0M113 62.1h0M89.3 46.9h0M134.2 27.4h0M133.4 89.8h0M100.8 33.9h0M94.5 79.3h0M107.5 129h0M161 34.6h0M137.9 38.6h0M161.3 103.4h0M75.5 65.1h0M133.2 73h0M89.3 106.4h0M88.4 59.2h0M88.2 66.6h0M157.6 71.8h0M147.7 35.6h0M69.8 67.5h0M91.8 51.1h0M115 30.3h0M82.6 46.6h0M61.1 61.6h0M97.6 73.7h0M155.4 53.8h0M138 155.4h0M129.6 66.1h0M123 56.2h0M81.7 92.7h0M94.9 127.1h0M143.2 35.6h0M101 86.4h0M122.9 64.8h0M80.8 84.7h0M126.5 93.5h0M131.7 47.4h0M102.9 58.7h0M171.9 118.1h0M104.6 71.3h0M120.3 91h0M110.2 102.1h0M109 44.5h0M95.7 95.4h0M148 52.2h0M84.2 37.4h0M175 91.8h0M160.5 141.3h0M91.7 56.9h0M71.5 83.5h0M98.4 80.6h0M134.4 44.5h0M148.5 57.5h0M114.7 93.9h0M125.2 139.1h0M123.5 29.4h0M126.4 30.2h0M113.6 25.7h0M83.1 82.5h0M159.2 81.7h0M141.1 139h0M80.8 106.9h0M85 77.5h0M86.4 66h0M101.5 80.7h0M82.3 126h0M107.9 50.7h0M71.7 81.9h0M132.6 45.5h0M152.4 40.8h0M110.2 115.4h0M76.5 73.1h0M149.1 48.1h0M157 48.1h0M145 38.8h0M96.2 30.2h0M141.4 73.7h0M75.5 77.2h0M135.1 111.7h0M108.2 92.1h0M122.9 125.7h0M137.6 20.9h0M159.8 96.6h0M105.2 116h0M145.5 67.8h0M151.3 41.8h0M93.7 62.1h0M161.8 94.7h0M112.6 80h0M72.4 41.3h0M108.8 31.1h0M162.8 88.1h0M145.4 90.5h0M95 35.6h0M172.1 60.8h0M120.5 45.4h0M102.7 50.9h0M144.2 43.9h0M149.2 92.6h0M156.9 54.1h0M80.4 96.6h0M107.4 26.2h0M67.2 77.1h0M142.2 54.2h0M168.4 39h0M104.1 61.4h0M160.3 87.7h0M94.9 51.9h0M67.7 98.6h0M92.9 31.8h0M115.2 49.3h0M167 92.5h0M129.6 43.9h0M149.8 49.9h0M124.4 52.5h0M77 49.2h0M138.6 64.8h0M69.6 51.2h0M173.2 59.6h0M106.9 68.8h0M89.1 48.6h0M166.2 91.3h0M65.3 87.5h0M134.2 129h0M105.6 56.7h0M127.4 88.9h0M71.3 42.4h0M129.8 45.6h0M150.4 69.3h0M148.7 47.1h0M91.5 86.7h0M103.6 59.2h0M154.2 50.5h0M90.4 75.9h0M89 88.7h0M167.7 108.6h0M146.5 70.2h0M170.4 73.1h0M78.2 91.3h0M100.6 64.5h0M112.3 64.6h0M82.4 56.2h0M138.2 44.5h0M60.3 71.7h0M89.6 98.6h0M103.7 91.6h0M101.3 64.7h0M160.8 65h0M152.4 93.4h0M173.8 86.8h0M86 46.4h0M94.1 32.9h0M74.9 55.9h0M131.1 73.9h0M115.6 32.3h0M69.9 92.1h0M102 35.6h0M75.6 109.7h0M69.5 43.8h0M151.5 50.3h0M150.8 88.9h0M73.4 41.5h0M78.9 116.7h0M124.4 43.8h0M92.3 57.2h0M96.8 98.3h0M118.1 61.1h0M133.7 71.8h0M104.8 97.1h0M167.1 129.5h0M147 72.5h0M94.5 47.3h0M75.7 115h0M141.6 67.1h0M102.5 35.5h0M139.3 67.7h0M165.7 45.2h0M150.5 34.6h0M87.5 68.4h0M77.5 95.4h0M142.2 56h0M82.1 59.2h0M153.6 45.6h0M85.2 84.5h0M121.8 64.4h0M84.3 39.3h0M139.4 72.7h0M166.2 49.5h0M138.4 50.8h0M160.7 38.1h0M79.3 84.9h0M90.4 87.1h0M128 100.5h0M144.6 64.5h0M115.3 60.1h0M98 38.6h0M73 138.4h0M129.2 57.5h0M135.7 39.8h0M122.2 35.2h0M94 46.5h0M152.9 45.9h0M104.1 83.9h0M134.7 32.7h0M96.3 42.9h0M129.5 86.1h0M66.2 96.2h0M131 93.7h0M151.5 100.7h0M134.7 92.6h0M142.4 47.2h0M110.2 120h0M61.5 59.7h0M103.6 80.3h0M112.7 39.2h0M61.8 80.1h0M133.8 31h0M77.8 100.5h0M113.1 57.1h0M79.6 77.4h0M97.7 82.2h0M100.8 117.6h0M117.3 40.6h0M95.3 60.1h0M129.6 84.9h0M107 37.1h0M162.3 51.5h0M82.4 67.5h0M172.7 64.1h0M67.4 87.1h0M93.4 118.4h0M77.8 131.2h0M164.3 58.5h0M138.3 69.7h0M87.5 46.7h0M98 46.2h0M154.7 53.7h0M78.7 86.1h0M121.6 48.3h0M130.7 31.9h0M143.8 96.6h0M123.3 92.4h0M124.5 26.2h0M107.5 97.9h0M174.5 68h0M164.8 39.4h0M88.8 65h0M87.2 44.5h0M148 50.4h0M127.4 34.1h0M108.6 63.5h0M139.4 37.8h0M58.4 67.1h0M152.2 71.6h0M88.5 101.6h0M86 31.9h0M96.9 55.3h0M128.6 108.1h0M65.3 90.3h0M108.3 112h0M171.3 65h0M150.6 59.5h0M106.1 51.5h0M115.9 79.6h0M113.8 45.3h0M152 54.2h0M95.3 58.9h0M117.1 47.9h0M98.4 77.7h0M139.5 93.2h0M83.2 90.4h0M110 95.1h0M168.4 61.4h0M139.9 84.2h0M89.1 57.9h0M135.2 90.7h0M153.8 77.9h0M61.1 52.5h0M153.1 58.6h0M133.6 64.9h0M90.7 48.2h0M146.6 49h0M67.5 77h0M84 40.8h0M166.8 80.9h0M169.6 84.9h0M81.9 129.4h0M140.3 103.5h0M109.4 81.4h0M174.5 87.7h0M65.2 78.5h0M122.5 50.1h0M96.6 114h0M83.9 37.9h0M133.8 44.7h0M147.1 45.6h0M115.9 68.4h0M65.7 71.5h0M114.6 44.4h0M173.6 58.8h0M122 50.3h0M94 99.8h0M92.8 29.4h0M86.4 89.7h0M120.6 42h0M78.3 108.3h0M129.2 107.2h0M92.4 78h0M156.7 97.2h0M78.2 56.7h0M123.9 130.9h0M172.8 61.2h0M158.4 64.6h0M166.9 112.4h0M98.4 87.6h0M136.2 97.4h0M73.6 49.1h0M164 55.6h0M116.8 96.2h0M83.6 78.4h0M106.4 37.4h0M166.2 132.9h0M166.7 41h0M92.9 87.5h0M160.6 73.7h0M132.6 79h0M136.5 75.2h0M91.9 37.9h0M149.1 49.5h0M162.8 110.6h0M142.5 94.8h0M104.3 135.9h0M84.2 58.5h0M128.2 129.3h0M138.5 57.2h0M85.9 75.4h0M140.4 83.7h0M90.8 57.9h0M156.5 57.5h0M64.4 67.5h0M117.4 30.9h0M144.3 95.2h0M145.4 45.4h0M144.9 40.4h0M88.8 134.5h0M102.1 32.3h0M108.6 103.4h0M124.4 29.6h0M87.6 122.6h0M141.6 31h0M83.5 37.9h0M110.9 57.6h0M159.9 72.5h0M144.5 81h0M155.4 32.1h0M98.8 78h0M64.9 59.6h0M160.2 53.9h0M100 65.4h0M145.7 55.5h0M157.4 36.1h0M101.5 75.1h0M125 27.3h0M134.3 73.7h0M83.2 79.4h0M61.9 54.4h0M68.3 105.5h0M120.9 24.6h0M99.7 44.5h0M113.3 89.5h0M155.3 127.9h0M130.4 47.3h0M86.8 36.5h0M68.9 49.7h0M73.6 100.8h0M101 107.8h0M125.7 95.7h0M111.6 37.8h0M163 66.6h0M90.7 118h0M112.8 37.2h0M120.8 47h0M64.5 73h0M133.4 28.3h0M128.7 109.5h0M69.6 89.7h0M145.2 67.1h0M114.4 37.2h0M136.8 75.5h0M160.9 71.3h0M137.5 34.5h0M130 71.8h0M134.1 28.8h0M84.3 76.2h0M145 143.4h0M69 103h0M150 94.7h0M99.5 45.4h0M164.7 92.4h0M108.3 135.3h0M76.8 121.7h0M89.7 43.6h0M162 70.5h0M105.6 44.3h0M115.4 73.4h0M129.4 75h0M122.1 38h0M130.4 131.1h0M107.4 102.6h0M117.4 57.3h0M103.9 141.7h0M143.9 48.1h0M123.5 104.5h0M70.3 101.3h0M82.2 55.1h0M121.9 55.1h0M108.7 77.8h0M71.2 87.8h0M145.4 53.9h0M155.7 137.4h0M114.9 29.2h0M74.3 92.7h0M62.3 71.6h0M133.7 22.9h0M75.2 64.4h0M92.9 81.5h0M162.9 62.5h0M108.8 30h0M111.1 77.5h0M171.8 86.5h0M103.4 150.1h0M61.4 67.7h0M131.5 51.1h0M167 55.2h0M91.1 105h0M97.9 130.6h0M119.2 91.9h0M168.3 48.4h0M164.5 91.2h0M145.5 72.9h0M68.4 97h0M109.7 99.6h0M109.3 57.9h0M137.2 81.1h0M153.5 76.1h0M66.5 81.7h0M126.5 36.5h0M89.6 123.2h0M116.7 76.7h0M104.5 88.1h0M67.4 51h0M92.9 133h0M91.8 60h0M131.5 81.4h0M120.6 79.6h0M146.5 68.5h0M89.4 90.3h0M99.5 49.4h0M167.2 64.7h0M105.1 34.6h0M145.7 82.2h0M112.1 43h0M78.2 95.6h0M67.5 101.7h0M103.3 104.2h0M165 73.9h0M137.3 70.6h0M110.8 48.3h0M72 112.5h0M124 67.2h0M92.7 53.8h0M77.5 126.8h0M82.9 63.2h0M149.7 88h0M162.1 118.2h0M128.9 50.4h0M150.1 36.2h0M98.2 106h0M89.2 37.9h0M135.7 22.9h0M123.3 32.2h0M98.8 37.5h0M106.2 80.5h0M132.6 45.4h0M165.7 96.8h0M96.1 121.3h0M148.4 83.5h0M107.6 97.8h0M142.9 36h0M93.9 52.2h0M115.7 33h0M99.4 58.9h0M154.2 44h0M92 49.7h0M103.6 61.6h0M71.4 105.3h0M73.5 109.8h0M101.6 39h0M83.5 76.9h0M159.7 36.7h0M159.8 69.3h0M115.2 55.9h0M83.9 134.1h0M156.4 83.3h0M86.7 100.6h0M112.4 53.8h0M145.1 76.9h0M160.2 127.5h0M74.8 44.3h0M82.1 91.6h0M79.5 49.5h0M158.4 91.3h0M108.5 67h0M129.9 69.3h0M170.9 119.2h0M76.2 75.9h0M92.1 128h0M145.1 66.9h0M76.7 118.6h0M118.5 29.8h0M77.1 73.7h0M111.2 61.1h0M75.6 76.1h0M125.1 34h0M158.3 59.5h0M156.6 92h0M138.5 106.6h0M159.5 61.2h0M119.8 27.6h0M117.7 42.5h0M118.8 120.6h0M154.9 48.7h0M112.5 46.1h0M147.6 137.2h0M126.9 104.3h0M140.1 92.9h0M138.2 91.1h0M125 106.5h0M151.3 126.4h0M133.9 65.8h0M158 36.8h0M158.8 35.1h0M102.5 48.4h0M76.8 71.4h0M170.7 119.4h0M161.8 41.6h0M95.2 54.2h0M102.3 86.3h0M68.1 73.3h0M132.5 29.7h0M71.3 96h0M135.1 89.6h0M70.9 77.2h0M131.5 41.5h0M172.6 78.2h0M72.5 41.6h0M89.4 73.1h0M156.6 58.3h0M106.2 57.5h0M88 94.3h0M156.1 68.6h0M150 29.5h0M104.4 102.6h0M105.1 100.3h0M149.2 91.8h0M160.9 91.3h0M166.7 39.1h0M149.4 82.1h0M165.1 91h0M160.4 117.7h0M82.4 77.2h0M165 74.9h0M91.8 68.2h0M101.2 90.2h0M116.9 94.6h0M96.7 61.3h0M96.6 38.6h0M152.1 97.1h0M84.8 74.7h0M155.9 47.3h0M63.7 60.7h0M88.4 44.5h0M94.2 108.5h0M158.8 97.7h0M150.8 83.2h0M126.4 60.6h0M72 116.3h0M103 106.3h0M97.2 120.5h0M114.1 111.4h0M114 75.8h0M110.4 27.7h0M101.9 58.1h0M147.5 49h0M103.9 37.9h0M114.5 39.4h0M159.6 41.3h0M129.1 47.1h0M107.2 66.5h0M95.4 86.6h0M72.1 110.7h0M119.2 57.1h0M89.8 42.4h0M110.4 108.6h0M60.7 57.2h0M149.5 69.6h0M109.6 46.7h0M71.4 51.5h0M146.9 130.1h0M98.1 86.4h0M96 28.3h0M147.2 26.4h0M98.6 100.5h0M111 124h0M113.5 28.6h0M119.3 26.2h0M134.2 130.2h0M106 62.8h0M68.5 105.5h0M164 42h0M89.4 139.3h0M126.7 75.8h0M168.2 85.7h0M135.6 58h0M165.6 40.1h0M167.3 65.7h0M75.6 79.7h0M85.4 56h0M81.5 84.9h0M83.5 56.9h0M131 46.9h0M122.5 30.8h0M169 59.2h0M91.7 70.8h0M123.2 61.9h0M128.4 39.8h0M175.4 91.6h0M89.9 114.4h0M140.4 104.1h0M169 112.6h0M147 43.4h0M110.3 105.5h0M114 23.5h0M146.9 148.2h0M112.5 71.6h0M169.5 77h0M94.6 95.8h0M81.6 84.7h0M74.3 83.9h0M134.8 21.2h0M88.1 107.3h0M142.2 33.4h0M89.5 145h0M142.2 33.6h0M102.5 88.4h0M109.5 97h0M79 44h0M113.2 55.2h0M82.7 85.2h0M110.7 85.5h0M132.1 61.2h0M144.2 49h0M67.5 72.3h0M143.5 35.2h0M103.2 43.8h0M148.7 58h0M138.4 66.3h0M137.6 76.4h0M91.7 64.1h0M84.8 67.5h0M79.8 95.7h0M146.8 36.3h0M118.8 49.7h0M121 28.2h0M174 61.6h0M71.2 99.7h0M97.5 45.2h0M126.3 59.4h0M148.6 54.9h0M169.3 66.8h0M94.6 54.2h0M140.6 82.7h0M87.6 123h0M161.6 90.6h0M134.7 87.8h0M119.5 63.3h0M157.3 27.2h0M112.6 38.1h0M65.3 90.4h0M107.9 49.3h0M141.8 110.2h0M116.1 74h0M93.8 97.3h0M150 72.2h0M124.8 107.3h0M74.8 92.3h0M122.3 37.7h0M159.3 39h0M110.7 37h0M134.4 40.2h0M84.6 91.1h0M74.2 62.3h0M65.6 74.6h0M87.2 76h0M132.1 94h0M153.7 61.2h0M165.9 59.3h0M127.3 57.5h0M93.1 67.3h0M75 108.7h0M159.2 49.7h0M143.5 45h0M160.7 76.9h0M61 66.2h0M110.7 71.7h0M154.4 30.1h0M102.6 47.3h0M83.9 132.6h0M99.5 35.4h0M72.2 87.7h0M157.3 72.8h0M149.6 82.7h0M96.5 39.4h0M65.4 52h0M170.4 75.5h0M77 60.5h0M142.4 39.4h0M108.2 94.7h0M66.5 58.8h0M105.4 84.1h0M129.7 84.3h0M152.2 60h0M145.3 96.3h0M128.8 47.8h0M155.3 47.4h0M130.9 24h0M127.1 85.7h0M81 37.9h0M98.5 83.6h0M96.7 38.7h0M128.4 27.5h0M99.7 81.9h0M105.6 60.1h0M106.3 61.5h0M73.5 55.4h0M114.7 45h0M109.2 69.3h0M59.4 63.3h0M161.4 49.4h0M145 28.1h0M101.3 91.5h0M123.1 94.7h0M84.7 70.6h0M145.5 83.5h0M150.1 35.9h0M143.6 57.5h0M119.6 66.1h0M154 53.8h0M126.3 57h0M161.7 66.9h0M93.6 72.9h0M96.2 35.9h0M133.3 110.5h0M83 58.8h0M153.1 44h0M99 91.8h0M103.9 34.9h0M108.7 88.2h0M129 71.5h0M171 71.9h0M81 49.9h0M109.4 82.7h0M89 86.8h0M69.5 48.2h0M95.2 102.3h0M116.9 88.2h0M76.4 52.6h0M100.9 77.7h0M103.9 107.3h0M97.2 38.8h0M92.8 50.7h0M126.9 97.8h0M153.4 69.9h0M147.5 140.2h0M125.3 28.5h0M74.5 49.9h0M135.3 104.9h0M166.5 64h0M87.7 74.3h0M121.6 36.7h0M106.8 92.6h0M108.6 92.3h0M97.9 133.4h0M166.9 45.7h0M68.3 75.7h0M82.5 126.8h0M143.2 140.8h0M109.6 73.7h0M108.9 79.9h0M69.7 50.5h0M138.6 81.9h0M95.7 57.5h0M141.6 27.1h0M165.2 48.8h0M124.4 45.5h0M172.2 57h0M102.9 65.5h0M89.8 124.9h0M154.2 57.8h0M92.3 79.8h0M107.1 119.5h0M74.5 65.5h0M68.4 62.9h0M89.8 106.2h0M137.5 72.7h0M110.9 41.1h0M95.2 132.1h0M80.4 49.2h0M105.9 103.2h0M92.8 101.2h0M131.4 29.5h0M88.3 63.3h0M132.1 33h0M100.7 75.1h0M73.3 126.6h0M155.4 38.9h0M85.6 92.8h0M143.7 78.3h0M154.7 54.6h0M72.4 104.2h0M162.1 62.3h0M138.2 85.3h0M105.5 84.6h0M93.1 52.6h0M70.9 47.7h0M77.5 58.8h0M147 65.9h0M145.7 47.5h0M115.8 85.3h0M148.3 97.3h0M148.8 112.8h0M74.8 49.9h0M89.4 82.9h0M145.8 51.1h0M129 61.7h0M89 96.6h0M166.3 93.3h0M99.5 74.4h0M93 52.1h0M141.9 151.8h0M108.1 65.9h0M68.3 74.9h0M70.7 45.5h0M173.2 77h0M112.7 102.8h0M81.5 147.6h0M77.1 74.1h0M81.6 57.9h0M138.2 41.2h0M113.8 117.8h0M81.3 73.5h0M139.3 117.2h0M143.1 77.5h0M140 65.4h0M145.3 71.6h0M167.1 104.7h0M167.7 49.7h0M64.3 48.6h0M159 84.4h0M67.5 84.7h0M95.1 67.8h0M96.5 96.1h0M107.1 138.8h0M127 67.9h0M70.6 43.3h0M94.4 35.3h0M88.7 94.8h0M170.5 93.4h0M170.8 55.8h0M134.7 31.4h0M170 68.1h0M146.4 32.8h0M98 107.5h0M98.2 60.9h0M137.6 53.2h0M113.8 62.1h0M132.5 35.6h0M68.6 90.9h0M90.7 62.1h0M132.5 89.3h0M75.2 63.4h0M73.2 51h0M107.7 110.2h0M94.8 52.1h0M106.2 99.7h0M116.2 32.5h0M65.6 58.3h0M157.9 60.3h0M91 78.6h0M140.9 65.3h0M161.9 87.5h0M124 56.6h0M107.8 74.5h0M175 72.6h0M121.9 50.2h0M104.3 45.9h0M92.5 32.7h0M133.3 101.1h0M116 69.3h0M145.8 54.1h0M165.6 116.9h0M138.6 126.9h0M99.8 144.8h0M136 32.1h0M81.7 93.8h0M107.4 71.1h0M136.1 42.8h0M118.2 55.1h0M113.1 33.9h0M81.6 45h0M105.5 117h0M95.6 45.6h0M82.1 107.8h0M162.9 68.8h0M158.6 55.3h0M80.7 70.5h0M73.6 55.7h0M131.1 54.6h0M78.6 42.2h0M171.4 77.2h0M141.5 106.3h0M142.5 62.6h0M164.6 58.3h0M151.3 72.7h0M135.4 20.8h0M104.8 83.8h0M94 140.1h0M134.5 73.7h0M123.4 125.6h0M97.6 62.2h0M109.5 43.7h0M89.9 119.6h0M75.1 75.1h0M81 77.8h0M164.8 41.3h0M169.2 96.6h0M118.5 87.6h0M106.9 31h0M129.9 36.7h0M72.9 45.4h0M83.3 129.7h0M112.6 38h0M167.3 78.5h0M151.2 68.4h0M162.2 89.7h0M169.1 112.5h0M114.6 50.6h0M75.9 56.5h0M88.8 118.1h0M116.6 48.3h0M153.1 77.8h0M135.5 55.5h0M87.8 50.8h0M89 71.2h0M136.2 37.6h0M155.6 66.3h0M92.1 49.5h0M135.5 67.6h0M75 38.4h0M130.8 42h0M86 81.8h0M104.4 124.9h0M122.7 112.1h0M117.5 81.9h0M117.8 77.4h0M101.9 53.7h0M120.1 37h0M162.5 94.9h0M67.1 74.2h0M89.3 65h0M156.5 64.7h0M95.5 137.4h0M130.8 40.2h0M120.8 91.7h0M61.7 75h0M113.4 45.8h0M80.6 66h0M126.3 30.5h0M141.8 92.2h0M94.9 101.8h0M86.6 112.5h0M81.2 70.1h0M109.6 104.8h0M119.1 34.6h0M97.1 39.9h0M107.6 70.5h0M109.8 112.2h0M137.3 82.3h0M101.1 54.3h0M119.3 73.2h0M78.2 86.8h0M163.1 86h0M106.7 98.9h0M100.5 73.4h0M152 63.8h0M115.5 138.5h0M131 65.9h0M130.9 95.2h0M82.5 90.4h0M92.9 63.1h0M141.7 39.7h0M143.9 89.6h0M130.3 30.8h0M100.1 62h0M119.7 88.3h0M76.2 83.9h0M135.5 61.7h0M124.5 53.2h0M128.9 89.5h0M119.9 67.5h0M138.1 71.4h0M105.1 69h0M159.1 40.2h0M62.6 65.4h0M116.7 59.4h0" stroke="#1492d0" stroke-width="2.2" stroke-linecap="round" fill="none"/>
<path d="M22.6 167.7L137.3 195.2L221.6 144.8M221.6 144.8L215.6 3.5M26.8 168.7L26.2 171.2M41.8 172.3L41.2 174.8M57.5 176L56.8 178.6M73.8 180L73.1 182.5M90.8 184.1L90.2 186.6M108.7 188.3L108 190.9M127.3 192.8L126.7 195.3M34.2 170.5L33.9 171.8M49.6 174.1L49.2 175.5M65.5 178L65.2 179.3M82.2 182L81.9 183.3M99.6 186.2L99.3 187.5M117.9 190.6L117.5 191.9M137 195.2L136.6 196.5M138.3 194.6L140.8 195.2M148 188.8L150.5 189.4M157.3 183.2L159.9 183.8M166.3 177.8L168.9 178.4M175 172.6L177.5 173.3M183.4 167.6L185.9 168.2M191.5 162.8L194 163.4M199.3 158.1L201.8 158.7M206.8 153.6L209.4 154.2M214.1 149.2L216.7 149.8M143.2 191.7L144.6 192M152.7 186L154.1 186.3M161.9 180.5L163.2 180.8M170.7 175.2L172.1 175.5M179.2 170.1L180.6 170.4M187.5 165.2L188.8 165.5M195.4 160.4L196.8 160.8M203.1 155.8L204.4 156.2M210.5 151.4L211.9 151.7M217.7 147.1L219.1 147.4M221.6 144.8L224.2 144.8M220.8 125.5L223.4 125.5M219.9 106L222.5 106M219.1 86.1L221.7 86.1M218.3 66L220.9 66M217.4 45.5L220 45.5M216.5 24.7L219.1 24.7M215.6 3.5L218.2 3.5M221.2 135.2L222.6 135.2M220.3 115.8L221.7 115.8M219.5 96.1L220.9 96.1M218.7 76.1L220.1 76.1M217.8 55.8L219.2 55.8M217 35.1L218.4 35.1M216.1 14.2L217.5 14.2" stroke="#222" stroke-width="1.2" fill="none"/>
<g fill="#111"><text font-size="5.6" text-anchor="middle" transform="matrix(0.858 -0.514 0.972 0.234 25.5 173.4)">-72</text><text font-size="5.6" text-anchor="middle" transform="matrix(0.858 -0.514 0.972 0.234 40.5 177)">-70</text><text font-size="5.6" text-anchor="middle" transform="matrix(0.858 -0.514 0.972 0.234 56.2 180.7)">-68</text><text font-size="5.6" text-anchor="middle" transform="matrix(0.858 -0.514 0.972 0.234 72.5 184.7)">-66</text><text font-size="5.6" text-anchor="middle" transform="matrix(0.858 -0.514 0.972 0.234 89.5 188.8)">-64</text><text font-size="5.6" text-anchor="middle" transform="matrix(0.858 -0.514 0.972 0.234 107.4 193)">-62</text><text font-size="5.6" text-anchor="middle" transform="matrix(0.858 -0.514 0.972 0.234 126 197.5)">-60</text><text font-size="5.6" text-anchor="middle" transform="matrix(1.089 0.262 -0.373 0.616 143.2 197.7)">-6</text><text font-size="5.6" text-anchor="middle" transform="matrix(1.089 0.262 -0.373 0.616 152.9 191.9)">-8</text><text font-size="5.6" text-anchor="middle" transform="matrix(1.089 0.262 -0.373 0.616 162.2 186.3)">-10</text><text font-size="5.6" text-anchor="middle" transform="matrix(1.089 0.262 -0.373 0.616 171.2 180.9)">-12</text><text font-size="5.6" text-anchor="middle" transform="matrix(1.089 0.262 -0.373 0.616 179.9 175.7)">-14</text><text font-size="5.6" text-anchor="middle" transform="matrix(1.089 0.262 -0.373 0.616 188.3 170.7)">-16</text><text font-size="5.6" text-anchor="middle" transform="matrix(1.089 0.262 -0.373 0.616 196.4 165.9)">-18</text><text font-size="5.6" text-anchor="middle" transform="matrix(1.089 0.262 -0.373 0.616 204.2 161.2)">-20</text><text font-size="5.6" text-anchor="middle" transform="matrix(1.089 0.262 -0.373 0.616 211.7 156.7)">-22</text><text font-size="5.6" text-anchor="middle" transform="matrix(1.089 0.262 -0.373 0.616 219 152.3)">-24</text><text x="226.1" y="147" font-size="6.6" text-anchor="start">0</text><text x="225.3" y="127.7" font-size="6.6" text-anchor="start">5</text><text x="224.4" y="108.2" font-size="6.6" text-anchor="start">10</text><text x="223.6" y="88.3" font-size="6.6" text-anchor="start">15</text><text x="222.8" y="68.2" font-size="6.6" text-anchor="start">20</text><text x="221.9" y="47.7" font-size="6.6" text-anchor="start">25</text><text x="221" y="26.9" font-size="6.6" text-anchor="start">30</text><text x="220.1" y="5.7" font-size="6.6" text-anchor="start">35</text><text font-size="6.6" text-anchor="middle" transform="matrix(0.972 0.234 -0.858 0.514 60.5 189.7)">X(m)</text><text font-size="6.072" text-anchor="middle" transform="matrix(0.858 -0.514 0.972 0.234 204.1 172.1)">Y(m)</text><text x="236.5" y="77" font-size="8" text-anchor="middle" transform="rotate(-90 236.5 77)">Z(m)</text></g>
</g>
<g transform="translate(302.2 0)">
<path d="M23.7 167.2L6.1 23.2M33.9 162.6L17.2 20.8M43.8 158.2L28 18.5M53.4 153.9L38.3 16.3M62.7 149.8L48.4 14.2M71.7 145.7L58.1 12.1M80.5 141.8L67.5 10.1M89 138L76.7 8.2M97.2 134.4L85.5 6.3M105.2 130.8L94.1 4.5M20.2 148L111.9 110.1M17.8 128.1L110.5 92.8M15.3 107.8L109 75.3M12.8 87.3L107.5 57.5M10.2 66.3L105.9 39.5M7.6 45.1L104.4 21.2" stroke="#dedede" stroke-width="0.7" fill="none"/>
<path d="M117.4 127.8L107 2.7M131.8 130.1L121.9 2.8M146.7 132.6L137.5 2.9M162.2 135.1L153.6 3M178.3 137.7L170.3 3.2M195 140.4L187.8 3.3M212.3 143.3L205.9 3.5M111.9 110.1L220.8 125.5M110.5 92.8L219.9 106M109 75.3L219.1 86.1M107.5 57.5L218.3 66M105.9 39.5L217.4 45.5M104.4 21.2L216.5 24.7" stroke="#e5e5e5" stroke-width="0.7" fill="none"/>
<path d="M23.7 167.2L138.3 194.6M33.9 162.6L148 188.8M43.8 158.2L157.3 183.2M53.4 153.9L166.3 177.8M62.7 149.8L175 172.6M71.7 145.7L183.4 167.6M80.5 141.8L191.5 162.8M89 138L199.3 158.1M97.2 134.4L206.8 153.6M105.2 130.8L214.1 149.2M26.8 168.7L117.4 127.8M41.8 172.3L131.8 130.1M57.5 176L146.7 132.6M73.8 180L162.2 135.1M90.8 184.1L178.3 137.7M108.7 188.3L195 140.4M127.3 192.8L212.3 143.3" stroke="#ebebeb" stroke-width="0.7" fill="none"/>
<path d="M22.6 167.7L4.9 23.4L102.8 2.6L215.6 3.5L221.6 144.8L113.4 127.1L22.6 167.7M102.8 2.6L113.4 127.1" stroke="#6e6e6e" stroke-width="1.1" fill="none"/>
<path d="M113.3 67.4h0M73.5 53.9h0M81.9 77.6h0M126.1 67.1h0M83.8 48.3h0M71.2 73.8h0M111.3 86.1h0M87.4 85.9h0M138.5 87h0M144.2 97.4h0M104.2 70.8h0M139.5 40.7h0M171.9 54h0M151.8 36.6h0M109.3 86.7h0M132.4 155h0M85.5 66.6h0M77.6 60.8h0M99.3 32.8h0M79.3 84.6h0M62.1 80.2h0M94.2 127h0M113.4 56.3h0M157.7 34.7h0M61.2 59h0M80.7 62.5h0M172.5 50.1h0M89.2 90h0M95.9 50.6h0M92.6 95.9h0M156.6 58.3h0M133.2 87.2h0M97.2 115.2h0M90.6 78.6h0M158.2 85.7h0M152.1 80.3h0M91.3 72.9h0M99.1 78.9h0M115 88.7h0M87.5 91h0M116.6 136.3h0M157.8 77.6h0M88 37.9h0M109.7 42.4h0M66.3 77.3h0M115.9 66.5h0M83.1 61.7h0M97.6 106.4h0M67.6 56.5h0M89 63.5h0M108.5 60.3h0M100.7 35.5h0M102.9 79.8h0M74.6 72.5h0M148.3 41.1h0M101.1 88.5h0M66 55h0M101.8 29.6h0M65.9 68.5h0M135.2 54.3h0M122.6 54.8h0M109.1 53.7h0M121.6 69.1h0M87.1 63.1h0M64.8 87.1h0M149.9 68.2h0M91.8 84h0M67.7 77.1h0M111.4 72.2h0M84.7 67.3h0M128.2 79.6h0M104.3 43.1h0M140.9 95h0M149.4 44.9h0M87.7 30.6h0M155.7 72.1h0M69.5 92.5h0M68.9 52.3h0M144.9 50h0M102.6 127h0M119.4 28.2h0M83.5 86.1h0M87.5 82.4h0M93 49.5h0M116 76.8h0M120.8 41.3h0M98.9 77.1h0M91.3 58.8h0M140.2 40.8h0M61.1 57.9h0M88.4 62.6h0M70.9 49.7h0M145.7 75.6h0M71.8 120.2h0M171.7 87.2h0M93.5 48.4h0M96.2 97.6h0M110.5 56.1h0M83.3 51.5h0M100.1 50.5h0M72.2 113.8h0M142.7 125.6h0M95 101.7h0M118.9 79.3h0M109.1 83.3h0M137.6 114h0M106.8 57.9h0M75.5 65.1h0M102.9 58.7h0M109 44.5h0M71.7 81.9h0M149.1 48.1h0M159.8 96.6h0M67.2 77.1h0M94.9 51.9h0M69.6 51.2h0M65.3 87.5h0M138.2 44.5h0M74.9 55.9h0M75.6 109.7h0M75.7 115h0M153.6 45.6h0M131 93.7h0M61.5 59.7h0M77.8 100.5h0M117.3 40.6h0M128.6 108.1h0M168.4 61.4h0M61.1 52.5h0M67.5 77h0M65.7 71.5h0M84.2 58.5h0M160.2 53.9h0M111.6 37.8h0M64.5 73h0M162 70.5h0M130.4 131.1h0M71.2 87.8h0M62.3 71.6h0M168.3 48.4h0M89.6 123.2h0M99.5 49.4h0M78.2 95.6h0M98.2 106h0M107.6 97.8h0M154.2 44h0M101.6 39h0M83.9 134.1h0M75.6 76.1h0M159.5 61.2h0M102.5 48.4h0M101.9 58.1h0M89.8 42.4h0M71.4 51.5h0M98.6 100.5h0M169 59.2h0M89.9 114.4h0M81.6 84.7h0M67.5 72.3h0M112.6 38.1h0M65.6 74.6h0M96.5 39.4h0M108.2 94.7h0M105.6 60.1h0M59.4 63.3h0M84.7 70.6h0M133.3 110.5h0M89 86.8h0M100.9 77.7h0M97.9 133.4h0M68.4 62.9h0M80.4 49.2h0M81.6 57.9h0M64.3 48.6h0M107.7 110.2h0M107.8 74.5h0M99.8 144.8h0M82.1 107.8h0M131.1 54.6h0M134.5 73.7h0M75.1 75.1h0M167.3 78.5h0M75.9 56.5h0M87.8 50.8h0M162.5 94.9h0" stroke="#ce4a0c" stroke-width="2.2" stroke-linecap="round" fill="none"/>
<path d="M144.3 60h0M130.3 30h0M131.3 31.7h0M126 40.5h0M104.9 74.6h0M128.8 143.3h0M118.6 80.4h0M93.7 48.8h0M76.8 41.3h0M96.2 65.6h0M154.2 90.6h0M158.2 67.7h0M124.9 46.4h0M158.6 58.5h0M133 82.3h0M124.1 122.9h0M139.6 101.1h0M138.5 31.7h0M98.1 114.4h0M98.3 87.3h0M156 100.4h0M159.1 68.7h0M130.7 104.2h0M170.3 45.6h0M92 106.3h0M123.3 88.3h0M71 76.1h0M146.1 29.5h0M164.5 58.3h0M157.7 73.2h0M77.6 84.1h0M143 43.1h0M143.5 59h0M94 133.2h0M111.4 57.4h0M82.3 53.8h0M128 40h0M125.3 32.2h0M70.4 81.3h0M138.9 23h0M134.9 63.9h0M141.1 38.6h0M169.5 46h0M120.9 65.6h0M74.2 65.1h0M130.1 58.5h0M150.2 30.6h0M120.8 35.3h0M148.6 79.7h0M146.9 131.4h0M121.3 53.4h0M123.8 65.2h0M126.4 70.5h0M173.6 112h0M112.7 98.6h0M118.9 66.6h0M70.5 73.5h0M78.1 48.5h0M135.1 33.8h0M91.6 51.9h0M155.2 92.5h0M127.8 119.3h0M170.3 57.6h0M170.5 49.8h0M137.5 146.7h0M161.1 35.3h0M77.4 44.1h0M74.9 65.8h0M108.1 120.6h0M156.5 52.4h0M103.4 64.1h0M122.6 61.3h0M167.2 90.9h0M155.1 57.1h0M136.9 32.7h0M145.2 153.3h0M89.2 59.7h0M132.1 75.3h0M102.8 142.8h0M162.1 81.5h0M173.5 106.8h0M171 75.3h0M161.1 75.6h0M150.2 38.2h0M109.4 117.9h0M117.1 64.2h0M93.8 104.9h0M93.9 92h0M127 27.8h0M120.7 137.9h0M115.3 46.5h0M153 106.5h0M168.5 113h0M80.6 64.9h0M149.6 86h0M144.5 48.6h0M145.3 111h0M153.8 89h0M130.3 51.1h0M110.7 69.3h0M119.7 71.7h0M84.5 72.3h0M145.1 68.6h0M102.3 42.3h0M145.7 65.8h0M138.9 100.9h0M92.7 53.1h0M105 30.8h0M93 52.6h0M139 32.8h0M113.1 74.1h0M160.2 86.9h0M108.2 136.9h0M80.4 85.7h0M89.1 80.4h0M114.5 116.1h0M147.5 52.4h0M99.9 76.5h0M88.3 99.5h0M130.1 37.5h0M161.5 70.6h0M153 76.1h0M87.6 51.6h0M128 27.3h0M120.5 53.6h0M140.2 117h0M150.2 95.6h0M95.2 54.9h0M143.8 28.9h0M130.4 129.4h0M63.6 80.7h0M84.7 33.2h0M147.3 60h0M129.2 92.9h0M102.2 103.7h0M98 74h0M151.5 86.9h0M174.8 94.1h0M134.3 47.7h0M79.1 50.4h0M139.1 33.1h0M106.8 68.2h0M75.6 71.2h0M105.1 48.9h0M170.8 92.8h0M163.3 32.8h0M144.5 154.3h0M172.2 52.9h0M150 26.4h0M169.6 81.5h0M98.4 101.7h0M90 92.9h0M150.4 39.2h0M104.6 146.9h0M96.6 85.8h0M134.1 98.5h0M103.1 36.7h0M133.4 29.9h0M161.6 75h0M148.9 82.9h0M154.3 45.8h0M162 59.8h0M164.5 46.1h0M159.6 36.1h0M111.6 74.7h0M86.4 145h0M80.1 59.8h0M110.2 61.4h0M144.2 28.9h0M96.2 73.9h0M90.8 81.4h0M111.9 90.1h0M131.2 54.2h0M94.8 79.3h0M114.3 50.9h0M79.2 94.4h0M149.8 75.5h0M151.8 55.1h0M96.3 45.6h0M173.5 90.8h0M164.7 45h0M165.4 53.8h0M127.1 135.3h0M116.5 102.3h0M162.4 84.5h0M139.2 61.6h0M103.4 82.7h0M142 123.6h0M129.5 45h0M115.6 71h0M107.9 97.9h0M148.4 46.5h0M152.7 53.7h0M115.1 37.6h0M86.8 141.4h0M152.1 91.1h0M169.1 78.8h0M132.9 68.5h0M144.6 52h0M127.1 22.4h0M149.5 34.1h0M126.1 125.6h0M109.8 55.2h0M163.7 64.3h0M98.7 96.4h0M117.7 141.1h0M148.2 98.6h0M128.7 85.6h0M113 62.1h0M94.5 79.3h0M157.6 71.8h0M82.6 46.6h0M129.6 66.1h0M101 86.4h0M160.5 141.3h0M148.5 57.5h0M113.6 25.7h0M85 77.5h0M75.5 77.2h0M161.8 94.7h0M145.4 90.5h0M144.2 43.9h0M129.6 43.9h0M129.8 45.6h0M154.2 50.5h0M170.4 73.1h0M160.8 65h0M78.9 116.7h0M133.7 71.8h0M150.5 34.6h0M166.2 49.5h0M128 100.5h0M129.2 57.5h0M104.1 83.9h0M82.4 67.5h0M164.3 58.5h0M78.7 86.1h0M124.5 26.2h0M87.2 44.5h0M58.4 67.1h0M106.1 51.5h0M117.1 47.9h0M140.3 103.5h0M96.6 114h0M92.8 29.4h0M92.4 78h0M158.4 64.6h0M164 55.6h0M166.7 41h0M91.9 37.9h0M90.8 57.9h0M145.4 45.4h0M124.4 29.6h0M159.9 72.5h0M125 27.3h0M120.9 24.6h0M86.8 36.5h0M114.4 37.2h0M134.1 28.8h0M99.5 45.4h0M123.5 104.5h0M108.8 30h0M131.5 51.1h0M109.3 57.9h0M91.8 60h0M110.8 48.3h0M82.9 63.2h0M106.2 80.5h0M160.2 127.5h0M108.5 67h0M145.1 66.9h0M112.5 46.1h0M125 106.5h0M102.3 86.3h0M70.9 77.2h0M156.6 58.3h0M104.4 102.6h0M149.4 82.1h0M91.8 68.2h0M152.1 97.1h0M94.2 108.5h0M103 106.3h0M129.1 47.1h0M106 62.8h0M168.2 85.7h0M85.4 56h0M114 23.5h0M89.5 145h0M113.2 55.2h0M137.6 76.4h0M118.8 49.7h0M126.3 59.4h0M87.6 123h0M93.8 97.3h0M159.3 39h0M127.3 57.5h0M160.7 76.9h0M83.9 132.6h0M145.3 96.3h0M81 37.9h0M154 53.8h0M108.7 88.2h0M153.4 69.9h0M166.5 64h0M109.6 73.7h0M141.6 27.1h0M89.8 124.9h0M132.1 33h0M143.7 78.3h0M105.5 84.6h0M145.7 47.5h0M89.4 82.9h0M99.5 74.4h0M70.7 45.5h0M143.1 77.5h0M107.1 138.8h0M170.5 93.4h0M98 107.5h0M68.6 90.9h0M157.9 60.3h0M133.3 101.1h0M118.2 55.1h0M164.6 58.3h0M106.9 31h0M135.5 67.6h0M122.7 112.1h0M130.8 40.2h0M126.3 30.5h0M109.6 104.8h0M137.3 82.3h0M106.7 98.9h0M130.9 95.2h0M130.3 30.8h0M124.5 53.2h0M159.1 40.2h0" stroke="#0a7f76" stroke-width="2.2" stroke-linecap="round" fill="none"/>
<path d="M91.3 88.7h0M70.8 119.5h0M95.1 72.9h0M102.5 62.1h0M161.5 71.2h0M110.7 41.3h0M133.2 53.4h0M96.6 92.4h0M100.3 79h0M83.1 110.7h0M167 90.5h0M135.3 110.3h0M66.6 85.7h0M137.8 82.7h0M75.1 74.4h0M131.7 88.5h0M155.2 57.2h0M113 40.8h0M134 81.7h0M84.9 117.1h0M120.6 104.7h0M71.9 114.4h0M118.8 68.7h0M102.7 97.6h0M139 94.7h0M62 54.7h0M97.9 130.1h0M108.1 81.4h0M78.6 85.9h0M99 36h0M109.9 54.8h0M156.9 38.6h0M158.8 80.6h0M113.3 59.5h0M110.1 38.8h0M125.5 125.7h0M92.2 91h0M93.7 46h0M97.9 91.7h0M66.4 93.2h0M162.3 51.2h0M67.4 65.6h0M131.4 122.4h0M102 91.2h0M90.1 61.3h0M124.9 62.4h0M64.8 59.2h0M70.3 104.8h0M86.6 89.5h0M85.2 75.4h0M67.4 55.6h0M87.9 105.9h0M77.8 105.6h0M109.2 31.9h0M120.6 114.7h0M136.6 68.8h0M82.7 39.8h0M170.4 87.2h0M117.6 142.3h0M89.6 133.1h0M127.8 91.6h0M69.8 104.1h0M81 108.6h0M98.8 88.3h0M67.7 104.1h0M145 146.5h0M71 64.8h0M64.3 74.9h0M133 80.6h0M171.9 50h0M143 57.9h0M105 40.3h0M70.2 67.9h0M86.2 57.4h0M79.9 106.9h0M103.2 33.1h0M112.4 47.8h0M73.5 120.1h0M157.9 100h0M73 75h0M110.8 44.3h0M87.9 70.4h0M65 49.5h0M75 72.3h0M141 103.6h0M73.6 67.2h0M75.3 60.9h0M76.3 134.5h0M144.6 76.2h0M102.6 71.7h0M62.4 55.9h0M99.6 69h0M99.9 98.7h0M78.5 112.3h0M144.6 69h0M121.9 43h0M118 46.8h0M83.1 71.1h0M136.7 39.5h0M113.9 66.4h0M170.8 52.5h0M92.7 52h0M99.9 116.1h0M141.2 108h0M85.5 35.8h0M97.3 54.1h0M99.1 55.4h0M121.2 71.6h0M133.2 73h0M147.7 35.6h0M61.1 61.6h0M122.9 64.8h0M83.1 82.5h0M86.4 66h0M67.7 98.6h0M90.4 75.9h0M60.3 71.7h0M87.5 68.4h0M135.7 39.8h0M113.1 57.1h0M121.6 48.3h0M65.3 90.3h0M153.1 58.6h0M84 40.8h0M109.4 81.4h0M83.9 37.9h0M86.4 89.7h0M116.8 96.2h0M92.9 87.5h0M99.7 44.5h0M68.9 49.7h0M84.3 76.2h0M111.1 77.5h0M116.7 76.7h0M167.2 64.7h0M67.5 101.7h0M72 112.5h0M92 49.7h0M74.8 44.3h0M129.9 69.3h0M76.7 118.6h0M147.6 137.2h0M68.1 73.3h0M165.1 91h0M101.2 90.2h0M158.8 97.7h0M147.5 49h0M107.2 66.5h0M111 124h0M68.5 105.5h0M81.5 84.9h0M91.7 70.8h0M74.3 83.9h0M91.7 64.1h0M148.6 54.9h0M65.3 90.4h0M110.7 37h0M61 66.2h0M65.4 52h0M66.5 58.8h0M145.5 83.5h0M126.3 57h0M69.5 48.2h0M87.7 74.3h0M93.1 52.6h0M93 52.1h0M138.2 41.2h0M140 65.4h0M127 67.9h0M98.2 60.9h0M90.7 62.1h0M91 78.6h0M116 69.3h0M78.6 42.2h0M151.3 72.7h0M81 77.8h0M75 38.4h0M120.8 91.7h0M141.8 92.2h0M119.1 34.6h0M62.6 65.4h0" stroke="#ce4a0c" stroke-width="2.2" stroke-linecap="round" fill="none"/>
<path d="M139.9 83.4h0M146.6 63h0M133.4 96.7h0M159.2 79h0M91.6 94.8h0M92 44.6h0M138.4 28.9h0M168.2 71.1h0M70.8 69.6h0M171.9 107.7h0M69.9 62.4h0M120.8 137.9h0M88.6 32.3h0M87 116.6h0M127 81.8h0M137.4 98.5h0M87.4 31.8h0M107.8 129.2h0M108.4 124.9h0M124.9 139.9h0M144.6 30.7h0M105.5 61.4h0M105.8 128.5h0M163.1 66.4h0M128.6 38.9h0M102.6 55.1h0M105.3 55h0M124.8 35.5h0M142 41.8h0M110.2 33.2h0M104.3 107.3h0M91.7 53.2h0M96.6 90h0M153.8 81.7h0M148.1 31.4h0M125.4 46.9h0M125.8 63.6h0M94.4 126.1h0M120.8 74.3h0M142.8 42.9h0M150.6 79.7h0M98.7 82.1h0M151.4 30.6h0M150.8 33.4h0M151.8 50.3h0M165.1 56.7h0M125.5 42.8h0M133.3 58.2h0M141.4 46.2h0M102.9 98.1h0M111.7 56h0M161.7 64h0M139.8 76.7h0M127.7 69.2h0M169.1 117.4h0M98.3 101h0M96.3 135.7h0M150.8 78.5h0M96.8 52.8h0M156.1 77.1h0M102.4 129.8h0M112.3 74.8h0M76.1 129.7h0M168.7 53.9h0M77.3 55.8h0M134.9 70.1h0M150.9 66.6h0M119 42.1h0M142.1 101.5h0M87 86.2h0M104.1 120.7h0M156.7 39h0M75.4 69.3h0M118.4 59.3h0M133.3 129.5h0M105.6 92.8h0M88.8 45.6h0M119.5 56.5h0M156.6 96.6h0M96.3 37.8h0M129.1 52h0M166.8 54.2h0M172.5 85.4h0M136.5 70.4h0M91.2 55.1h0M110.3 60h0M119.4 92.8h0M172.9 89.8h0M76.9 50.1h0M119.8 57h0M96.1 99.3h0M78.8 67.2h0M172.2 82h0M147.4 49.2h0M153.2 33.9h0M118.1 30.2h0M123.7 31.6h0M102.6 42.8h0M136.3 59.2h0M83.7 70.2h0M132.7 61.2h0M102.4 110.9h0M98.1 70.9h0M93.8 116.3h0M130 51.4h0M149.6 68.4h0M96.1 50.2h0M132.8 60.1h0M157.7 64.3h0M110.5 42.9h0M152.3 93.1h0M103.7 108.1h0M160.2 52.3h0M119.4 60.8h0M127.2 84.8h0M136.4 65.9h0M152.7 72.4h0M140.3 66.1h0M116.6 44.2h0M125.8 86.3h0M141.8 51.4h0M94.2 92h0M133.6 37.4h0M105.4 119.4h0M116.1 52.3h0M114 63.5h0M151.8 56.5h0M156.5 33.5h0M143.4 102.3h0M145.4 84.1h0M165.9 65.9h0M125.9 116.2h0M87.8 84.7h0M130.2 111h0M127.3 29.5h0M114 23.7h0M156.7 68.2h0M74 57.4h0M97.2 47.7h0M105.8 43.3h0M117.4 27h0M164.7 68.1h0M122.1 64.7h0M109.9 121.6h0M115 27.9h0M95.7 47.5h0M136.9 60h0M109 131h0M89.1 40.8h0M93.7 75.3h0M170.6 63.1h0M172.2 64h0M123.2 32.9h0M129.8 97.7h0M79.6 45.5h0M148.5 36h0M87.4 106.5h0M89.5 77.6h0M139.6 104.8h0M167.5 45.7h0M66.7 82.5h0M140.9 107.7h0M112.7 45.7h0M77.5 74h0M163.7 86.3h0M140.3 61.2h0M91.7 93.3h0M102.5 86.2h0M110.6 100.1h0M111.4 49.8h0M148.3 124.3h0M160.5 61.1h0M104.1 157.8h0M127.9 56.9h0M113.4 66.2h0M154.1 38.7h0M147.6 32.5h0M80.1 33.8h0M135.9 58.9h0M79.4 59.7h0M145.9 35.9h0M157.4 37.4h0M161.4 78.7h0M137.5 82.6h0M132.5 109.1h0M137.6 84.8h0M165.6 73.3h0M142.4 62.8h0M150.9 58.1h0M140.1 54.1h0M108.8 126.2h0M137.7 56.8h0M148.2 32.9h0M172.6 107.1h0M155.6 51.2h0M124.6 26.5h0M95.8 60.5h0M150.3 95.9h0M87.4 104.1h0M95 134.2h0M95.7 63.6h0M110.8 122.7h0M107.4 95.4h0M140.3 130.3h0M96.3 33.8h0M120.2 43.1h0M149.5 70.6h0M89.3 46.9h0M107.5 129h0M123 56.2h0M171.9 118.1h0M95.7 95.4h0M91.7 56.9h0M114.7 93.9h0M132.6 45.5h0M157 48.1h0M135.1 111.7h0M105.2 116h0M112.6 80h0M95 35.6h0M149.2 92.6h0M142.2 54.2h0M149.8 49.9h0M173.2 59.6h0M134.2 129h0M150.4 69.3h0M78.2 91.3h0M152.4 93.4h0M131.1 73.9h0M69.5 43.8h0M124.4 43.8h0M104.8 97.1h0M141.6 67.1h0M85.2 84.5h0M138.4 50.8h0M144.6 64.5h0M134.7 32.7h0M151.5 100.7h0M103.6 80.3h0M95.3 60.1h0M172.7 64.1h0M138.3 69.7h0M107.5 97.9h0M148 50.4h0M152.2 71.6h0M115.9 79.6h0M98.4 77.7h0M139.9 84.2h0M114.6 44.4h0M156.7 97.2h0M166.9 112.4h0M149.1 49.5h0M128.2 129.3h0M156.5 57.5h0M144.9 40.4h0M87.6 122.6h0M144.5 81h0M100 65.4h0M134.3 73.7h0M163 66.6h0M133.4 28.3h0M136.8 75.5h0M164.7 92.4h0M105.6 44.3h0M107.4 102.6h0M70.3 101.3h0M145.4 53.9h0M133.7 22.9h0M167 55.2h0M164.5 91.2h0M137.2 81.1h0M131.5 81.4h0M149.7 88h0M89.2 37.9h0M132.6 45.4h0M142.9 36h0M83.5 76.9h0M156.4 83.3h0M125.1 34h0M119.8 27.6h0M151.3 126.4h0M76.8 71.4h0M131.5 41.5h0M106.2 57.5h0M105.1 100.3h0M84.8 74.7h0M97.2 120.5h0M110.4 108.6h0M146.9 130.1h0M135.6 58h0M140.4 104.1h0M146.9 148.2h0M142.2 33.6h0M82.7 85.2h0M143.5 35.2h0M121 28.2h0M161.6 90.6h0M150 72.2h0M87.2 76h0M93.1 67.3h0M99.5 35.4h0M128.8 47.8h0M98.5 83.6h0M106.3 61.5h0M161.4 49.4h0M83 58.8h0M129 71.5h0M103.9 107.3h0M147.5 140.2h0M166.9 45.7h0M108.9 79.9h0M165.2 48.8h0M154.2 57.8h0M89.8 106.2h0M105.9 103.2h0M100.7 75.1h0M154.7 54.6h0M115.8 85.3h0M145.8 51.1h0M173.2 77h0M159 84.4h0M170.8 55.8h0M94.8 52.1h0M175 72.6h0M136 32.1h0M113.1 33.9h0M162.9 68.8h0M123.4 125.6h0M129.9 36.7h0M151.2 68.4h0M88.8 118.1h0M89 71.2h0M117.5 81.9h0M67.1 74.2h0M101.1 54.3h0M100.5 73.4h0M82.5 90.4h0M100.1 62h0M128.9 89.5h0" stroke="#0a7f76" stroke-width="2.2" stroke-linecap="round" fill="none"/>
<path d="M70.9 101.3h0M78.4 105.4h0M100.5 41.3h0M140 64.5h0M60 73.5h0M65.9 81h0M68.4 101.7h0M64.4 60.6h0M164.2 104h0M81.9 109.7h0M62.4 65h0M69 69.5h0M122.9 68.8h0M87.8 75.1h0M86.6 70.9h0M167.5 62.1h0M90.2 50.3h0M155.8 63.7h0M111.8 63.4h0M82.9 82.4h0M71 98.3h0M126 39.1h0M83.3 60.5h0M127.8 124.2h0M145.4 35.1h0M92.1 36.5h0M67.4 87.7h0M107.6 25.9h0M79.2 70.8h0M78.3 87.9h0M64 78.6h0M96.3 36.9h0M84.8 44.1h0M130.6 113.3h0M133.9 116.4h0M143.4 87.8h0M79.2 62.3h0M103.1 59.4h0M72.6 96.5h0M72.8 65.3h0M168.6 53.9h0M168.4 100.7h0M148.9 26.5h0M129.8 66.6h0M143.1 33.5h0M87.8 61h0M111.7 97.4h0M130.2 63.3h0M77.6 37.2h0M71.4 110.1h0M125.3 83.8h0M105.1 122.9h0M111.7 34.1h0M141.3 67.9h0M97.2 42.8h0M69.5 54.3h0M66.2 92.8h0M85.6 97.3h0M107.9 116.9h0M65.3 87.9h0M121.5 69.5h0M90.7 96h0M70.9 74.2h0M150.3 87.2h0M118.4 80.1h0M83.8 68.5h0M135.6 42h0M73.1 75.4h0M156.7 77.7h0M71.4 103.7h0M105.4 37.7h0M127.9 96.1h0M79.1 98.6h0M141.2 78.8h0M86.8 36.1h0M73 71.1h0M69.7 45.6h0M72.3 111.3h0M165.7 90.5h0M81.9 53.7h0M74.9 92.6h0M77 89.8h0M130.8 89.8h0M95.3 90.8h0M80.7 114.5h0M121.6 64.2h0M105.6 59.7h0M171.2 88h0M127.4 113.8h0M102.5 32.8h0M78.3 95.8h0M80.2 107h0M81.9 109h0M74.1 109.8h0M111.5 46.5h0M81.4 70h0M76.6 103.7h0M117.5 45.8h0M110.7 47.5h0M97.1 61.3h0M131.3 74.1h0M76.9 62.5h0M81.5 51.4h0M146.4 55.2h0M105.3 120.6h0M76 81.2h0M85 99.1h0M74.1 98.1h0M84.5 92.1h0M77 125.9h0M146.7 69.8h0M155.6 60.6h0M142 86.4h0M114.6 97.7h0M123.1 40.1h0M83.3 81.5h0M120.4 89.4h0M66 53.7h0M155.3 58.2h0M101.8 72.7h0M85.7 66.1h0M117.9 76.1h0M61.3 64.5h0M169.2 45.8h0M88.2 57.3h0M77.9 70.1h0M101.6 59.3h0M95.6 30.2h0M117.7 57.3h0M126 96h0M68.8 46.9h0M90.3 60.6h0M70.9 94.4h0M75.3 80.1h0M120.1 49.3h0M89.3 106.4h0M69.8 67.5h0M97.6 73.7h0M81.7 92.7h0M80.8 84.7h0M71.5 83.5h0M125.2 139.1h0M72.4 41.3h0M168.4 39h0M148.7 47.1h0M173.8 86.8h0M151.5 50.3h0M102.5 35.5h0M77.5 95.4h0M121.8 64.4h0M115.3 60.1h0M122.2 35.2h0M96.3 42.9h0M134.7 92.6h0M79.6 77.4h0M174.5 68h0M127.4 34.1h0M88.5 101.6h0M113.8 45.3h0M89.1 57.9h0M133.6 64.9h0M166.8 80.9h0M64.4 67.5h0M88.8 134.5h0M73.6 100.8h0M128.7 109.5h0M117.4 57.3h0M82.2 55.1h0M155.7 137.4h0M153.5 76.1h0M104.5 88.1h0M105.1 34.6h0M93.9 52.2h0M103.6 61.6h0M160.4 117.7h0M150.8 83.2h0M103.9 37.9h0M95.4 86.6h0M60.7 57.2h0M165.6 40.1h0M132.1 94h0M75 108.7h0M72.2 87.7h0M170.4 75.5h0M105.4 84.1h0M73.5 55.4h0M121.6 36.7h0M92.8 101.2h0M73.3 126.6h0M72.4 104.2h0M70.9 47.7h0M148.3 97.3h0M141.9 151.8h0M70.6 43.3h0M140.9 65.3h0M121.9 50.2h0M158.6 55.3h0M164.8 41.3h0M72.9 45.4h0M162.2 89.7h0M116.6 48.3h0M136.2 37.6h0M130.8 42h0M117.8 77.4h0M61.7 75h0M94.9 101.8h0M152 63.8h0M119.7 88.3h0" stroke="#ce4a0c" stroke-width="2.2" stroke-linecap="round" fill="none"/>
<path d="M105.5 28.4h0M88.6 109.1h0M152.9 59.7h0M89 140.2h0M123.5 26.1h0M143.7 53.8h0M96 104.1h0M132.1 69.6h0M114.2 53.7h0M113.2 86.2h0M161.5 86.3h0M75.8 69.3h0M89.9 49.5h0M159.2 74.3h0M136.5 51.5h0M139.8 53.2h0M126.2 68.1h0M103.2 80.1h0M161.2 52.3h0M148.7 39.3h0M93.6 52.3h0M104.2 36.1h0M157.1 49.5h0M71.6 83.8h0M63.1 67.1h0M90.6 54.7h0M96.5 118.6h0M111.1 39.7h0M130.9 74.6h0M155 77.1h0M108.9 70.9h0M171.8 129.4h0M143.3 117h0M151.8 57.1h0M145.1 127.3h0M149.3 45.1h0M96.9 105.7h0M154 96h0M68.2 60h0M132.2 91h0M109.5 51.2h0M153.8 70.4h0M171.3 84.2h0M137.5 103.4h0M73.4 85h0M88.8 55.3h0M128.9 70h0M154.6 85h0M131.8 80.7h0M105.8 126.9h0M124.1 72.7h0M160.3 46h0M154.9 37.2h0M127.7 35h0M86.3 122.1h0M146.5 60.1h0M127.7 86.1h0M82.4 65.2h0M169.1 45.7h0M104.9 100.7h0M129.8 71.3h0M133.3 74.4h0M161.1 104.5h0M113.3 62.5h0M166.4 49.8h0M89.7 70.8h0M93.8 62.5h0M90.4 131.2h0M137.1 53.6h0M92.4 80.5h0M158.4 90.3h0M73.7 42.2h0M136.3 48.9h0M108.3 68h0M79.3 91.3h0M79.8 38.3h0M171 74.9h0M116.9 75.2h0M88.2 62.3h0M114.9 72.1h0M120.8 54.9h0M139.9 123.9h0M135 59.8h0M129.3 51h0M146.7 54.9h0M103.7 52.1h0M114.7 67.2h0M125.2 72.6h0M145.6 73.1h0M123.6 29.1h0M99.2 86.7h0M166.1 61.8h0M131.3 30.5h0M100.1 142.6h0M101.3 43.6h0M152.5 36.5h0M137.5 75.5h0M150.8 68.3h0M110.1 57h0M117.1 71.5h0M87.1 55.7h0M118.9 68.8h0M120.9 60.3h0M127.7 55.6h0M122.3 77.1h0M131.3 83.8h0M111.7 117.8h0M96.5 79.4h0M69.2 50.8h0M170.3 72.1h0M92.8 77.5h0M101.1 49.8h0M103.1 100.5h0M146.5 71.8h0M117.3 55.8h0M73 48.8h0M87.3 101.9h0M121.6 31.7h0M124.7 40.9h0M146.9 76.1h0M123.4 29h0M93.2 47.6h0M119 87h0M96.2 79.7h0M129.6 47h0M159.3 77.7h0M87.5 74.8h0M136.8 26.3h0M80.8 44.4h0M88.4 133.2h0M116.5 40.9h0M124.7 98.7h0M97.8 56.1h0M143.7 32.8h0M134.1 50.4h0M133.5 110.8h0M143 75.5h0M158.5 38.2h0M148.2 51.8h0M129.2 105.6h0M160.1 69.2h0M73 95.8h0M164.9 39.4h0M115.2 27.8h0M82.7 106.4h0M112.1 35.4h0M94.4 66.7h0M115.1 33h0M96.9 127.2h0M98.1 80.4h0M108.5 114.8h0M132.3 93.2h0M147.6 74.1h0M155.4 68.6h0M113.3 31.6h0M84 45.4h0M132.4 70.7h0M156.4 41.7h0M119.8 55.2h0M126.6 39.7h0M152.4 38h0M124.4 92.6h0M156.9 36.5h0M131 35.9h0M67.7 95h0M90.8 37.9h0M69.7 87.4h0M69.2 67h0M133.1 55h0M138.3 32.8h0M143.8 93.5h0M91.3 84.3h0M161.2 86.2h0M146.5 77.4h0M132.9 64h0M161.8 39.5h0M89 91.2h0M116.3 112.6h0M89.3 48.7h0M114.5 120.3h0M134.2 27.4h0M161 34.6h0M104.6 71.3h0M148 52.2h0M159.2 81.7h0M101.5 80.7h0M152.4 40.8h0M145 38.8h0M108.2 92.1h0M145.5 67.8h0M172.1 60.8h0M156.9 54.1h0M92.9 31.8h0M124.4 52.5h0M106.9 68.8h0M105.6 56.7h0M89 88.7h0M100.6 64.5h0M89.6 98.6h0M115.6 32.3h0M92.3 57.2h0M167.1 129.5h0M160.7 38.1h0M112.7 39.2h0M129.6 84.9h0M67.4 87.1h0M87.5 46.7h0M130.7 31.9h0M108.3 112h0M139.5 93.2h0M174.5 87.7h0M133.8 44.7h0M173.6 58.8h0M120.6 42h0M78.2 56.7h0M98.4 87.6h0M83.6 78.4h0M160.6 73.7h0M162.8 110.6h0M138.5 57.2h0M141.6 31h0M155.4 32.1h0M145.7 55.5h0M83.2 79.4h0M113.3 89.5h0M90.7 118h0M160.9 71.3h0M145 143.4h0M108.3 135.3h0M115.4 73.4h0M75.2 64.4h0M171.8 86.5h0M91.1 105h0M145.5 72.9h0M120.6 79.6h0M103.3 104.2h0M124 67.2h0M162.1 118.2h0M135.7 22.9h0M165.7 96.8h0M159.7 36.7h0M86.7 100.6h0M82.1 91.6h0M170.9 119.2h0M118.5 29.8h0M158.3 59.5h0M117.7 42.5h0M126.9 104.3h0M133.9 65.8h0M170.7 119.4h0M132.5 29.7h0M172.6 78.2h0M88 94.3h0M149.2 91.8h0M116.9 94.6h0M155.9 47.3h0M114.1 111.4h0M98.1 86.4h0M113.5 28.6h0M164 42h0M83.5 56.9h0M123.2 61.9h0M169 112.6h0M112.5 71.6h0M134.8 21.2h0M102.5 88.4h0M110.7 85.5h0M103.2 43.8h0M84.8 67.5h0M174 61.6h0M169.3 66.8h0M134.7 87.8h0M107.9 49.3h0M124.8 107.3h0M134.4 40.2h0M110.7 71.7h0M155.3 47.4h0M96.7 38.7h0M145 28.1h0M150.1 35.9h0M161.7 66.9h0M153.1 44h0M171 71.9h0M95.2 102.3h0M97.2 38.8h0M125.3 28.5h0M68.3 75.7h0M69.7 50.5h0M124.4 45.5h0M92.3 79.8h0M137.5 72.7h0M129 61.7h0M112.7 102.8h0M113.8 117.8h0M145.3 71.6h0M67.5 84.7h0M134.7 31.4h0M137.6 53.2h0M132.5 89.3h0M106.2 99.7h0M145.8 54.1h0M81.7 93.8h0M81.6 45h0M171.4 77.2h0M135.4 20.8h0M97.6 62.2h0M89.3 65h0M97.1 39.9h0M119.3 73.2h0M92.9 63.1h0M119.9 67.5h0M116.7 59.4h0" stroke="#0a7f76" stroke-width="2.2" stroke-linecap="round" fill="none"/>
<path d="M96 32.4h0M103.3 49.7h0M163.9 37.7h0M91.3 32.6h0M162.6 57.2h0M109.3 28.5h0M132.3 90.9h0M118.1 76.4h0M166.1 49.3h0M138.4 138h0M104.1 99.5h0M79.5 57.5h0M152.6 41.8h0M86.4 89h0M126.9 89.8h0M85.8 85h0M169.3 51h0M140.5 31.4h0M87.2 97.9h0M164.4 64.4h0M66.3 62.3h0M148.6 39.5h0M94.2 40.4h0M125.8 61.2h0M66.2 53.1h0M145.1 73.7h0M82.4 40.7h0M82.9 90h0M97.2 135.6h0M77.2 87.9h0M65.8 74.7h0M105.8 42.1h0M125.3 63.5h0M95.2 36.4h0M125.3 94.6h0M96.2 92.7h0M92.8 88.8h0M143.5 74.1h0M141.9 38h0M143.7 66.7h0M86.2 117.5h0M87.9 46.6h0M127.6 85.5h0M80.2 57h0M94.1 54.9h0M125.7 112.8h0M103 86.1h0M145.6 45.7h0M158.5 120.7h0M163.3 70.3h0M115.6 43.4h0M141.8 65.3h0M84.8 54h0M70.2 89.4h0M72.1 127.4h0M167 68h0M96 34.9h0M105.6 34.9h0M162.6 48.3h0M108.2 89h0M66.1 50.8h0M88.8 114.1h0M160.6 59.3h0M86.8 83.8h0M128.1 83.1h0M104.4 83.4h0M69.4 101.4h0M109 86.8h0M135.2 65.7h0M104.2 53.3h0M140.2 67.3h0M93.3 69.1h0M142.2 70h0M110.4 84.4h0M96.5 51.7h0M85.6 56h0M84.4 74.8h0M88.8 140.7h0M120.9 39.3h0M149.6 37.2h0M64.1 84.8h0M71.3 115.2h0M156.5 89.1h0M138.2 49h0M80 65.2h0M79 92.6h0M129 109.7h0M115.5 52.1h0M73.3 94.6h0M103.2 62.9h0M142.8 62.5h0M103.3 63.9h0M80.7 115.1h0M139.8 41.3h0M67.3 100.2h0M97.5 44.4h0M92.9 131.1h0M106.3 33.7h0M75.7 83.5h0M138.2 62.1h0M136.6 36h0M97.2 83.1h0M73.6 121.6h0M91 116.8h0M71.1 72.2h0M71.9 52.1h0M86.8 83.2h0M136.3 39.6h0M116.2 53.7h0M72.1 137.1h0M82.5 111.3h0M63 67.9h0M94.9 43.3h0M72.1 106.6h0M80.9 56.2h0M105.7 51.6h0M75.3 90h0M132.2 44.8h0M97 135h0M65.8 51.9h0M88.4 59.2h0M155.4 53.8h0M126.5 93.5h0M84.2 37.4h0M82.3 126h0M122.9 125.7h0M120.5 45.4h0M115.2 49.3h0M77 49.2h0M103.7 91.6h0M69.9 92.1h0M147 72.5h0M79.3 84.9h0M94 46.5h0M61.8 80.1h0M107 37.1h0M98 46.2h0M171.3 65h0M135.2 90.7h0M90.7 48.2h0M65.2 78.5h0M147.1 45.6h0M78.3 108.3h0M85.9 75.4h0M102.1 32.3h0M83.5 37.9h0M157.4 36.1h0M61.9 54.4h0M69.6 89.7h0M137.5 34.5h0M69 103h0M76.8 121.7h0M97.9 130.6h0M67.4 51h0M145.7 82.2h0M165 73.9h0M71.4 105.3h0M79.5 49.5h0M77.1 73.7h0M82.4 77.2h0M63.7 60.7h0M96 28.3h0M131 46.9h0M88.1 107.3h0M109.5 97h0M132.1 61.2h0M71.2 99.7h0M94.6 54.2h0M119.5 63.3h0M74.8 92.3h0M93.6 72.9h0M81 49.9h0M74.5 49.9h0M106.8 92.6h0M82.5 126.8h0M172.2 57h0M110.9 41.1h0M89 96.6h0M81.5 147.6h0M81.3 73.5h0M75.2 63.4h0M104.8 83.8h0M83.3 129.7h0M155.6 66.3h0M86.6 112.5h0M107.6 70.5h0M78.2 86.8h0" stroke="#ce4a0c" stroke-width="2.2" stroke-linecap="round" fill="none"/>
<path d="M128.8 27.7h0M168.3 115.9h0M166.5 74.3h0M134.4 139.7h0M173.1 81.9h0M128.8 22.8h0M82.8 80.9h0M92.3 75.7h0M163.9 71.1h0M165.3 100.5h0M98.5 61.9h0M78.1 77.4h0M171.6 61.8h0M166.4 55.9h0M107.3 30.1h0M111.2 81.7h0M102.6 102.5h0M89.3 61.9h0M77.4 95.4h0M161.8 150.3h0M139.4 64.3h0M167.1 107.8h0M148.6 66.7h0M139.5 80h0M127.5 46.7h0M121.6 29.6h0M93.1 35.9h0M105.1 75.8h0M139.6 79.7h0M87.8 58.2h0M110.6 67.1h0M120.5 79.9h0M80 56.1h0M113.2 70.5h0M159.4 71.8h0M147.2 115.5h0M125.7 91.3h0M129.3 36.3h0M164.8 56.2h0M143.7 79.9h0M106.7 83.8h0M150 74.8h0M114.3 57.7h0M172.9 84.1h0M165.2 52.1h0M88.8 100.6h0M107.3 71h0M138.9 92.9h0M149.9 69.8h0M103.2 111.1h0M93.3 42.7h0M166.6 99.9h0M123 55.3h0M123.1 88h0M95.4 61.3h0M124 87.4h0M165.9 62.5h0M150.3 51.1h0M164.4 92.5h0M154.3 42.9h0M93.2 95.9h0M86.4 59.2h0M136.9 70.4h0M164.3 58h0M143.5 113.2h0M91 97.2h0M72 102.2h0M123 44.8h0M90.1 31.6h0M153.2 64.2h0M161.4 48.4h0M90.6 77.2h0M168.7 119h0M120.2 92.1h0M93.1 113.9h0M168.4 68.4h0M90.8 69.7h0M137.5 36.4h0M91 42.4h0M131.2 42.1h0M166.7 78.5h0M81.9 55.1h0M114.4 100.2h0M107.5 67.2h0M132.7 83.4h0M71.3 105h0M118.3 46.9h0M87.5 134.1h0M112.3 107.5h0M169.6 141.1h0M137.2 34.1h0M158.4 54.5h0M91.1 95.5h0M93.6 72.1h0M162.2 34.6h0M160.6 71.2h0M171.1 71.9h0M156 85h0M162.7 95h0M140.8 25.5h0M135.2 30.3h0M135.9 66.2h0M138.9 40.5h0M172.1 117.9h0M68.4 74.3h0M65.9 92.9h0M120.8 73.6h0M88.7 104.4h0M122 117.3h0M155 50.1h0M70.4 101h0M172.3 119.9h0M137.2 27.9h0M128.2 71.4h0M132.6 77.8h0M149.2 34.8h0M94.1 127.8h0M132.8 66.5h0M100.8 86.2h0M69.2 84.8h0M96 63.9h0M158.3 83.6h0M114.8 81.6h0M142.7 58.3h0M127.7 80.6h0M102.3 83.5h0M150.9 44.7h0M143.3 27.6h0M165.7 60.6h0M139.4 37.3h0M89.3 135.6h0M141.3 44.4h0M103.6 83h0M84.9 51h0M93 87h0M119.2 27.6h0M156.2 77.4h0M135.2 104.1h0M72.3 49.6h0M129.6 49.2h0M134.7 67.5h0M156.9 66.7h0M92.7 103h0M105.9 68.1h0M159.3 62.1h0M86.3 39.5h0M168.1 74.5h0M136.9 77.9h0M122.8 49.7h0M127 75.9h0M76.8 78.3h0M66.8 53.4h0M101.6 56.9h0M102.6 73.5h0M114.6 34.9h0M159.9 76.8h0M103 69h0M119.5 30h0M139.9 35.3h0M123.4 55.5h0M97.2 82h0M82.1 78.7h0M135.9 30.9h0M95.5 33.9h0M85.9 80h0M169.2 96.8h0M173.5 76h0M94.4 124.8h0M100 70.5h0M158.6 36.3h0M92.8 80.8h0M119.2 51.2h0M156.8 55.8h0M160.1 73.9h0M148.9 44.4h0M141.6 79.5h0M97.1 62.4h0M63.8 76.1h0M109.7 115.1h0M108.7 33h0M82.4 94.7h0M80.6 57.8h0M123.6 85.7h0M122.1 111.6h0M68.9 44.4h0M107.3 52h0M153.9 43.2h0M141.1 67.7h0M90 36h0M143.9 141.2h0M100.9 39.5h0M165.1 36.5h0M141.5 155h0M147.9 48.6h0M161.5 132.1h0M133.4 89.8h0M137.9 38.6h0M91.8 51.1h0M94.9 127.1h0M120.3 91h0M98.4 80.6h0M123.5 29.4h0M141.1 139h0M110.2 115.4h0M96.2 30.2h0M151.3 41.8h0M108.8 31.1h0M80.4 96.6h0M104.1 61.4h0M89.1 48.6h0M127.4 88.9h0M91.5 86.7h0M167.7 108.6h0M112.3 64.6h0M86 46.4h0M150.8 88.9h0M96.8 98.3h0M139.3 67.7h0M142.2 56h0M84.3 39.3h0M98 38.6h0M129.5 86.1h0M142.4 47.2h0M97.7 82.2h0M93.4 118.4h0M143.8 96.6h0M164.8 39.4h0M108.6 63.5h0M86 31.9h0M152 54.2h0M83.2 90.4h0M169.6 84.9h0M122 50.3h0M123.9 130.9h0M136.2 97.4h0M106.4 37.4h0M132.6 79h0M142.5 94.8h0M117.4 30.9h0M98.8 78h0M155.3 127.9h0M101 107.8h0M112.8 37.2h0M129.4 75h0M103.9 141.7h0M121.9 55.1h0M114.9 29.2h0M92.9 81.5h0M103.4 150.1h0M68.4 97h0M66.5 81.7h0M146.5 68.5h0M92.7 53.8h0M128.9 50.4h0M123.3 32.2h0M96.1 121.3h0M115.7 33h0M159.8 69.3h0M112.4 53.8h0M76.2 75.9h0M156.6 92h0M118.8 120.6h0M140.1 92.9h0M158 36.8h0M161.8 41.6h0M71.3 96h0M72.5 41.6h0M156.1 68.6h0M160.9 91.3h0M96.7 61.3h0M126.4 60.6h0M114 75.8h0M114.5 39.4h0M72.1 110.7h0M149.5 69.6h0M119.3 26.2h0M89.4 139.3h0M167.3 65.7h0M128.4 39.8h0M147 43.4h0M169.5 77h0M148.7 58h0M79.8 95.7h0M141.8 110.2h0M84.6 91.1h0M153.7 61.2h0M159.2 49.7h0M154.4 30.1h0M157.3 72.8h0M77 60.5h0M129.7 84.3h0M130.9 24h0M128.4 27.5h0M114.7 45h0M101.3 91.5h0M143.6 57.5h0M99 91.8h0M116.9 88.2h0M92.8 50.7h0M138.6 81.9h0M107.1 119.5h0M131.4 29.5h0M155.4 38.9h0M162.1 62.3h0M77.5 58.8h0M148.8 112.8h0M108.1 65.9h0M167.1 104.7h0M95.1 67.8h0M94.4 35.3h0M170 68.1h0M113.8 62.1h0M116.2 32.5h0M161.9 87.5h0M104.3 45.9h0M165.6 116.9h0M107.4 71.1h0M105.5 117h0M80.7 70.5h0M141.5 106.3h0M109.5 43.7h0M169.2 96.6h0M169.1 112.5h0M153.1 77.8h0M86 81.8h0M101.9 53.7h0M156.5 64.7h0M113.4 45.8h0M115.5 138.5h0M141.7 39.7h0M76.2 83.9h0M138.1 71.4h0" stroke="#0a7f76" stroke-width="2.2" stroke-linecap="round" fill="none"/>
<path d="M68.1 45.6h0M96.8 87.4h0M106.5 46.8h0M60.7 57.5h0M138.8 99.7h0M90.3 41.3h0M110.2 42.4h0M165.2 91.3h0M70.2 65h0M148.6 73.6h0M104.2 53.7h0M81.8 36.9h0M96.8 100.5h0M103.2 40.2h0M75.7 77.5h0M64.5 62.4h0M98.1 36.8h0M106.3 120.6h0M102.4 81.5h0M121.2 92.7h0M68.5 49.2h0M124.5 78.5h0M139.4 73.7h0M150.2 69h0M73 75h0M99.5 54.6h0M102.3 44.9h0M113 83.1h0M105.8 55.4h0M93.2 78.5h0M69.9 82.5h0M123.7 78.1h0M81.9 128.9h0M80.6 108h0M75.8 66.5h0M74.5 72.8h0M172.9 51.2h0M118.4 40.9h0M141.6 85.3h0M122.2 131.7h0M62.6 69.9h0M104.3 83.9h0M114.5 44.3h0M80.8 40.7h0M165.8 82.4h0M131.8 72.8h0M63.9 79h0M65.7 77.3h0M72.8 92.1h0M103.7 35.8h0M107.2 92.5h0M71.8 59.9h0M87.8 59h0M68.4 99.3h0M143.2 27.8h0M70.4 111h0M93.4 104.6h0M127.3 47.4h0M99.5 61.2h0M70 87.6h0M102.8 54.7h0M75.8 56.7h0M75.7 58.5h0M64.3 45.6h0M126.2 136.3h0M102.6 48.3h0M62 71.8h0M82.4 64.5h0M119.6 54.2h0M125.2 36h0M154.7 95.1h0M72.4 65.6h0M94.3 45.3h0M149.5 86.9h0M123.3 142.8h0M171.2 86.6h0M129.5 117.5h0M131.3 38.7h0M69.4 65.2h0M80.1 100.1h0M73.9 83.8h0M147.5 91.7h0M129.5 39.3h0M72.5 123h0M115.2 106.6h0M163.6 57h0M160.1 41.7h0M68.5 97.1h0M129 73.9h0M173.8 55.4h0M145.6 78.3h0M113.7 42.3h0M82.9 51h0M131.7 145.5h0M76.7 77.3h0M95 108.3h0M70.6 86.8h0M87.7 40.8h0M164.8 72.8h0M74.9 84.7h0M70 80.6h0M120.3 35.6h0M128.4 35.2h0M174.9 65.7h0M74.6 69h0M167.7 79h0M81.3 77h0M73.3 64.4h0M90.8 94.7h0M67.5 67.6h0M75.1 62.3h0M153.7 46h0M64.2 70.5h0M88.2 66.6h0M80.8 106.9h0M76.5 73.1h0M93.7 62.1h0M107.4 26.2h0M167 92.5h0M103.6 59.2h0M82.4 56.2h0M73.4 41.5h0M82.1 59.2h0M139.4 72.7h0M73 138.4h0M66.2 96.2h0M77.8 131.2h0M88.8 65h0M96.9 55.3h0M95.3 58.9h0M110 95.1h0M81.9 129.4h0M64.9 59.6h0M68.3 105.5h0M89.7 43.6h0M122.1 38h0M143.9 48.1h0M108.7 77.8h0M61.4 67.7h0M126.5 36.5h0M89.4 90.3h0M112.1 43h0M77.5 126.8h0M148.4 83.5h0M115.2 55.9h0M145.1 76.9h0M158.4 91.3h0M92.1 128h0M166.7 39.1h0M165 74.9h0M88.4 44.5h0M110.4 27.7h0M159.6 41.3h0M119.2 57.1h0M79 44h0M146.8 36.3h0M99.7 81.9h0M109.2 69.3h0M103.9 34.9h0M109.4 82.7h0M76.4 52.6h0M126.9 97.8h0M102.9 65.5h0M95.2 132.1h0M147 65.9h0M74.8 49.9h0M68.3 74.9h0M77.1 74.1h0M73.2 51h0M65.6 58.3h0M124 56.6h0M95.6 45.6h0M73.6 55.7h0M89.9 119.6h0M118.5 87.6h0M112.6 38h0M114.6 50.6h0M120.1 37h0M80.6 66h0M131 65.9h0M143.9 89.6h0M135.5 61.7h0" stroke="#ce4a0c" stroke-width="2.2" stroke-linecap="round" fill="none"/>
<path d="M171.3 125.3h0M124.4 31.1h0M162.1 34.2h0M173.9 83.4h0M146.5 75.9h0M97.5 71.5h0M88 85.5h0M95.9 62.2h0M137.5 102.1h0M98.6 94.9h0M137.8 29.7h0M134 66.2h0M95.2 68.4h0M99.7 41.4h0M154.5 116.8h0M85.7 124.2h0M143.7 67.8h0M129.4 59.2h0M149.2 56.2h0M142.4 106.5h0M107.2 91.3h0M132.8 28.7h0M81 50.3h0M165.2 72.5h0M77.9 83.8h0M102.2 111.6h0M155.1 76.8h0M125.1 43.5h0M158.4 28.2h0M92.5 76.9h0M145.5 35.7h0M169.4 103.1h0M166.8 59.2h0M97.1 47.7h0M116.8 76.2h0M76.5 61.2h0M79.8 95.7h0M71.7 66h0M101.8 101.2h0M156.6 87.9h0M144.4 36.8h0M92.6 119h0M158 72.9h0M86.4 98.9h0M94.4 75h0M123.8 85.7h0M163.6 52h0M87.9 46.7h0M99.2 128.9h0M152.6 34.5h0M155.6 69.3h0M110.3 138.5h0M151.4 72.1h0M101 52.9h0M106.2 66.4h0M156.5 82.3h0M168.6 75.6h0M85.4 133.3h0M113.6 81.6h0M130.1 75.2h0M150.8 68.9h0M161.5 68.6h0M109.3 56h0M131.7 92.5h0M81.6 62.2h0M96.5 56.8h0M120.7 90.7h0M173.2 116.6h0M109.1 114.9h0M128.9 42.2h0M76 59h0M160.6 92h0M169.1 80.2h0M152.2 26.3h0M149.8 33.4h0M116.5 29.6h0M88.4 67.3h0M155.4 88.9h0M133.3 35.2h0M93.6 102.7h0M124.5 37.9h0M83.6 51.4h0M132.3 88.8h0M142.8 55.1h0M162.5 58.5h0M101.9 60.3h0M111.9 110.4h0M116.8 56.2h0M160.3 50.1h0M142.3 37.1h0M127.5 27.4h0M94.9 108h0M106.8 70.5h0M145.3 59.1h0M149 52h0M164 83.1h0M142.8 68.1h0M159.2 61.5h0M159 73.3h0M142.5 29.5h0M144.9 100.5h0M93.5 102.7h0M131.5 49.5h0M73.8 72.8h0M98.7 100.1h0M94.8 71.2h0M116.5 40.8h0M122 45.4h0M130.2 44.9h0M98.4 108.8h0M108.6 116h0M125.4 88.2h0M113.8 56.7h0M107.3 98.9h0M125.2 74.7h0M87.3 73.1h0M97.3 65.4h0M169.6 63.1h0M81.9 65.4h0M141.9 54.6h0M105.1 65.8h0M87.5 82.9h0M156 93.7h0M130.2 35.1h0M124.2 61h0M110.9 39.2h0M108.7 59.8h0M152.6 123.2h0M171.4 52.1h0M93.9 112.4h0M146.9 78.7h0M144.6 89.5h0M84 131.2h0M101.7 72.3h0M108.7 86h0M98.7 68h0M126.9 45h0M163.6 43.4h0M140.3 32.9h0M174.8 64.7h0M103.5 122.3h0M97.2 111.7h0M111.1 59.7h0M91 65.2h0M165.2 56.5h0M165.5 67.4h0M113.2 70.4h0M102.8 114.7h0M109 63.8h0M96.9 97.3h0M109 67.7h0M115.8 28.9h0M128.7 122.5h0M130.4 66.6h0M144.2 38.9h0M100.5 107.6h0M152.2 72.4h0M154.9 45.9h0M78 69.2h0M129.7 80.9h0M138.4 82.6h0M102 131.8h0M108.6 45.5h0M102.1 47.6h0M111.9 98.9h0M138.1 40.9h0M141 145.7h0M123.8 121.4h0M134.8 87.9h0M87.6 100.2h0M147.1 36.1h0M108.1 72.3h0M157.8 95h0M107.2 77.2h0M158.2 66.5h0M172.7 53.7h0M98 54.8h0M81 47.2h0M100.2 111.2h0M129.2 103.4h0M82.7 44.9h0M75.8 59.7h0M141 112.8h0M112.6 95h0M119.4 73.9h0M166.5 37.3h0M149.5 60.9h0M133.1 132.6h0M162 86.2h0M92.6 110.9h0M155 55.2h0M157.5 49.1h0M128.9 20.5h0M147.9 93.7h0M107.8 56.2h0M111.5 65.6h0M149.7 46.4h0M123.8 53.2h0M74.5 101.4h0M79.2 70.3h0M107.2 47.2h0M159.1 69.4h0M100.8 33.9h0M161.3 103.4h0M115 30.3h0M138 155.4h0M143.2 35.6h0M131.7 47.4h0M110.2 102.1h0M175 91.8h0M134.4 44.5h0M126.4 30.2h0M107.9 50.7h0M141.4 73.7h0M137.6 20.9h0M162.8 88.1h0M102.7 50.9h0M160.3 87.7h0M138.6 64.8h0M166.2 91.3h0M71.3 42.4h0M146.5 70.2h0M101.3 64.7h0M94.1 32.9h0M102 35.6h0M118.1 61.1h0M94.5 47.3h0M165.7 45.2h0M90.4 87.1h0M152.9 45.9h0M110.2 120h0M133.8 31h0M100.8 117.6h0M162.3 51.5h0M154.7 53.7h0M123.3 92.4h0M139.4 37.8h0M150.6 59.5h0M153.8 77.9h0M146.6 49h0M122.5 50.1h0M115.9 68.4h0M94 99.8h0M129.2 107.2h0M172.8 61.2h0M73.6 49.1h0M166.2 132.9h0M136.5 75.2h0M104.3 135.9h0M140.4 83.7h0M144.3 95.2h0M108.6 103.4h0M110.9 57.6h0M101.5 75.1h0M130.4 47.3h0M125.7 95.7h0M120.8 47h0M145.2 67.1h0M130 71.8h0M150 94.7h0M74.3 92.7h0M162.9 62.5h0M119.2 91.9h0M109.7 99.6h0M92.9 133h0M137.3 70.6h0M150.1 36.2h0M98.8 37.5h0M99.4 58.9h0M73.5 109.8h0M111.2 61.1h0M138.5 106.6h0M154.9 48.7h0M138.2 91.1h0M158.8 35.1h0M95.2 54.2h0M135.1 89.6h0M89.4 73.1h0M150 29.5h0M96.6 38.6h0M72 116.3h0M109.6 46.7h0M147.2 26.4h0M134.2 130.2h0M126.7 75.8h0M75.6 79.7h0M122.5 30.8h0M175.4 91.6h0M110.3 105.5h0M94.6 95.8h0M142.2 33.4h0M144.2 49h0M138.4 66.3h0M97.5 45.2h0M140.6 82.7h0M157.3 27.2h0M116.1 74h0M122.3 37.7h0M74.2 62.3h0M165.9 59.3h0M143.5 45h0M102.6 47.3h0M149.6 82.7h0M142.4 39.4h0M152.2 60h0M127.1 85.7h0M123.1 94.7h0M119.6 66.1h0M96.2 35.9h0M135.3 104.9h0M108.6 92.3h0M143.2 140.8h0M95.7 57.5h0M74.5 65.5h0M88.3 63.3h0M85.6 92.8h0M138.2 85.3h0M166.3 93.3h0M139.3 117.2h0M167.7 49.7h0M96.5 96.1h0M88.7 94.8h0M146.4 32.8h0M132.5 35.6h0M92.5 32.7h0M138.6 126.9h0M136.1 42.8h0M142.5 62.6h0M94 140.1h0M135.5 55.5h0M92.1 49.5h0M104.4 124.9h0M95.5 137.4h0M81.2 70.1h0M109.8 112.2h0M163.1 86h0M105.1 69h0" stroke="#0a7f76" stroke-width="2.2" stroke-linecap="round" fill="none"/>
<path d="M22.6 167.7L137.3 195.2L221.6 144.8M221.6 144.8L215.6 3.5M26.8 168.7L26.2 171.2M41.8 172.3L41.2 174.8M57.5 176L56.8 178.6M73.8 180L73.1 182.5M90.8 184.1L90.2 186.6M108.7 188.3L108 190.9M127.3 192.8L126.7 195.3M34.2 170.5L33.9 171.8M49.6 174.1L49.2 175.5M65.5 178L65.2 179.3M82.2 182L81.9 183.3M99.6 186.2L99.3 187.5M117.9 190.6L117.5 191.9M137 195.2L136.6 196.5M138.3 194.6L140.8 195.2M148 188.8L150.5 189.4M157.3 183.2L159.9 183.8M166.3 177.8L168.9 178.4M175 172.6L177.5 173.3M183.4 167.6L185.9 168.2M191.5 162.8L194 163.4M199.3 158.1L201.8 158.7M206.8 153.6L209.4 154.2M214.1 149.2L216.7 149.8M143.2 191.7L144.6 192M152.7 186L154.1 186.3M161.9 180.5L163.2 180.8M170.7 175.2L172.1 175.5M179.2 170.1L180.6 170.4M187.5 165.2L188.8 165.5M195.4 160.4L196.8 160.8M203.1 155.8L204.4 156.2M210.5 151.4L211.9 151.7M217.7 147.1L219.1 147.4M221.6 144.8L224.2 144.8M220.8 125.5L223.4 125.5M219.9 106L222.5 106M219.1 86.1L221.7 86.1M218.3 66L220.9 66M217.4 45.5L220 45.5M216.5 24.7L219.1 24.7M215.6 3.5L218.2 3.5M221.2 135.2L222.6 135.2M220.3 115.8L221.7 115.8M219.5 96.1L220.9 96.1M218.7 76.1L220.1 76.1M217.8 55.8L219.2 55.8M217 35.1L218.4 35.1M216.1 14.2L217.5 14.2" stroke="#222" stroke-width="1.2" fill="none"/>
<g fill="#111"><text font-size="5.6" text-anchor="middle" transform="matrix(0.858 -0.514 0.972 0.234 25.5 173.4)">-72</text><text font-size="5.6" text-anchor="middle" transform="matrix(0.858 -0.514 0.972 0.234 40.5 177)">-70</text><text font-size="5.6" text-anchor="middle" transform="matrix(0.858 -0.514 0.972 0.234 56.2 180.7)">-68</text><text font-size="5.6" text-anchor="middle" transform="matrix(0.858 -0.514 0.972 0.234 72.5 184.7)">-66</text><text font-size="5.6" text-anchor="middle" transform="matrix(0.858 -0.514 0.972 0.234 89.5 188.8)">-64</text><text font-size="5.6" text-anchor="middle" transform="matrix(0.858 -0.514 0.972 0.234 107.4 193)">-62</text><text font-size="5.6" text-anchor="middle" transform="matrix(0.858 -0.514 0.972 0.234 126 197.5)">-60</text><text font-size="5.6" text-anchor="middle" transform="matrix(1.089 0.262 -0.373 0.616 143.2 197.7)">-6</text><text font-size="5.6" text-anchor="middle" transform="matrix(1.089 0.262 -0.373 0.616 152.9 191.9)">-8</text><text font-size="5.6" text-anchor="middle" transform="matrix(1.089 0.262 -0.373 0.616 162.2 186.3)">-10</text><text font-size="5.6" text-anchor="middle" transform="matrix(1.089 0.262 -0.373 0.616 171.2 180.9)">-12</text><text font-size="5.6" text-anchor="middle" transform="matrix(1.089 0.262 -0.373 0.616 179.9 175.7)">-14</text><text font-size="5.6" text-anchor="middle" transform="matrix(1.089 0.262 -0.373 0.616 188.3 170.7)">-16</text><text font-size="5.6" text-anchor="middle" transform="matrix(1.089 0.262 -0.373 0.616 196.4 165.9)">-18</text><text font-size="5.6" text-anchor="middle" transform="matrix(1.089 0.262 -0.373 0.616 204.2 161.2)">-20</text><text font-size="5.6" text-anchor="middle" transform="matrix(1.089 0.262 -0.373 0.616 211.7 156.7)">-22</text><text font-size="5.6" text-anchor="middle" transform="matrix(1.089 0.262 -0.373 0.616 219 152.3)">-24</text><text x="226.1" y="147" font-size="6.6" text-anchor="start">0</text><text x="225.3" y="127.7" font-size="6.6" text-anchor="start">5</text><text x="224.4" y="108.2" font-size="6.6" text-anchor="start">10</text><text x="223.6" y="88.3" font-size="6.6" text-anchor="start">15</text><text x="222.8" y="68.2" font-size="6.6" text-anchor="start">20</text><text x="221.9" y="47.7" font-size="6.6" text-anchor="start">25</text><text x="221" y="26.9" font-size="6.6" text-anchor="start">30</text><text x="220.1" y="5.7" font-size="6.6" text-anchor="start">35</text><text font-size="6.6" text-anchor="middle" transform="matrix(0.972 0.234 -0.858 0.514 60.5 189.7)">X(m)</text><text font-size="6.072" text-anchor="middle" transform="matrix(0.858 -0.514 0.972 0.234 204.1 172.1)">Y(m)</text><text x="236.5" y="77" font-size="8" text-anchor="middle" transform="rotate(-90 236.5 77)">Z(m)</text></g>
</g>
<g>
<path d="M28.7 403L22.7 262.6M39.6 398.8L34.5 260.6M50.3 394.7L45.9 258.8M60.5 390.8L56.9 257M70.4 387L67.4 255.3M80.1 383.3L77.7 253.6M89.4 379.8L87.6 252M98.4 376.3L97.1 250.5M107.1 373L106.4 249M115.6 369.7L115.3 247.5M26.7 388L119.4 354.8M26 372.3L119.4 341.2M25.3 356.4L119.4 327.4M24.7 340.2L119.4 313.4M24 323.8L119.4 299.3M23.2 307.2L119.3 285M22.5 290.3L119.3 270.5M21.8 273.2L119.3 255.8" stroke="#dedede" stroke-width="0.7" fill="none"/>
<path d="M122 369L122 247.2M132.6 372L133.3 248.6M143.6 375.1L144.9 250M154.8 378.3L156.8 251.5M166.4 381.6L169.1 253M178.3 384.9L181.8 254.6M190.6 388.4L194.9 256.2M203.3 392L208.4 257.9M216.3 395.7L222.3 259.6M119.4 354.8L224.1 382.5M119.4 341.2L224.8 367.2M119.4 327.4L225.5 351.7M119.4 313.4L226.3 336M119.4 299.3L227 320M119.3 285L227.8 303.8M119.3 270.5L228.6 287.3M119.3 255.8L229.4 270.7" stroke="#e5e5e5" stroke-width="0.7" fill="none"/>
<path d="M28.7 403L137.8 443.6M39.6 398.8L148.4 438M50.3 394.7L158.5 432.5M60.5 390.8L168.3 427.2M70.4 387L177.7 422.2M80.1 383.3L186.8 417.3M89.4 379.8L195.5 412.6M98.4 376.3L203.9 408.1M107.1 373L212 403.7M115.6 369.7L219.9 399.5M30 404.5L122 369M41 408.6L132.6 372M52.3 412.8L143.6 375.1M64 417.2L154.8 378.3M76.1 421.7L166.4 381.6M88.7 426.4L178.3 384.9M101.7 431.2L190.6 388.4M115.1 436.3L203.3 392M129 441.5L216.3 395.7" stroke="#ebebeb" stroke-width="0.7" fill="none"/>
<path d="M27.4 403.5L21.3 262.8L119.3 246.9L229.8 260.5L223.4 397.6L119.4 368.3L27.4 403.5M119.3 246.9L119.4 368.3" stroke="#6e6e6e" stroke-width="1.1" fill="none"/>
<path d="M104.6 306.6h0M92.8 319.6h0M96.2 335.2h0M99.1 315.5h0M122.8 362.3h0M68 320.7h0M114.7 321.1h0M82.7 316.9h0M115.6 344.2h0M130.8 323.5h0M106.2 316.1h0M115.3 361.5h0M86.6 341h0M90.5 316h0M81.7 358.8h0M102.5 352h0M108.6 308.8h0M96.1 356.1h0M86.5 368.5h0M115.6 302.2h0M114 311.2h0M105 327.3h0M75.2 343h0M81.6 307.7h0M64.2 342.5h0M128 308.8h0M100.6 342.8h0M110.9 326.6h0M121.7 316.9h0M125 339.5h0M82.5 347.9h0M83.6 328.7h0M120.6 311.4h0M76.6 350.5h0M76.9 313h0M65.6 365.7h0M109.6 336h0M83.2 347.4h0M71.1 340.4h0M117.2 316.8h0M69.4 356.4h0M124.3 316.1h0M99.4 324.8h0M120.9 351.9h0M130.6 298.4h0M77.7 345.8h0M115.9 325.1h0M60.1 372h0M126.4 305.4h0M123.3 312.1h0M112.2 318.2h0M88.5 313h0M111.6 329.6h0M78.6 354h0M132.7 318.9h0M84.3 337.4h0M65.1 365.6h0M118.8 314.4h0M87.3 366.7h0M137.7 344.4h0M95.8 341h0M105.8 334.2h0M99.7 323.5h0M124.6 342.3h0M120.1 322.8h0M127.7 310.5h0M114.2 310.4h0M89.6 332.6h0M88.8 351.1h0M102.9 357.1h0M84 350.9h0M101.7 312.2h0M103.7 314.9h0M69.4 360.5h0M80.9 350.2h0M130.9 363.4h0M82.4 363.9h0M112.7 316.4h0M83.6 352.1h0M129.9 354.4h0M68.5 361.9h0M107.7 341.5h0M92.6 341.2h0M107.9 301.3h0M107.5 318.5h0M76.8 362.7h0M145 355h0M62.1 309.7h0M85 367.7h0M122.6 306.5h0M135.4 365.2h0M99 317h0M94.8 338.5h0M90.9 314.6h0M86.9 323h0M122.9 340.8h0M120.5 336.4h0M90.9 318.1h0M78.4 367.2h0M109.3 320.6h0M82.7 367.8h0M96.8 324.9h0M99.5 320.4h0M82.9 337.3h0M109.6 339.7h0M86.1 338.1h0M88.6 382.4h0M72.8 322.7h0M84.6 337.1h0M74 329.4h0M125.9 329.9h0M108.1 338.3h0M89.1 314h0M135.9 356.8h0M81.7 345.3h0M126 332.8h0M79.7 383.9h0M111.3 349.9h0M66.9 304.4h0M71.7 315.8h0M135 367.9h0M106.9 357h0M106.2 340.5h0M121 347.6h0M127.6 348.7h0M132.8 320.1h0M141.8 352.6h0M97.1 322h0M110.9 360.3h0M78.6 311.7h0M120.1 320.9h0M135.3 330.6h0M107.7 341.8h0M97.6 373.9h0M91.5 380.4h0M103.2 371.3h0M91.1 358h0M94.9 309.1h0M89.4 336.6h0M129.8 361.9h0M77.4 331.9h0M99.8 322.4h0M133.1 317.4h0M92.1 343.5h0M129.2 318.6h0M84 343.8h0M135.3 357.9h0M142.1 359.4h0M119.1 328.4h0M125 317.9h0M104.7 367.6h0M77.3 340h0M117.9 309.4h0M98.9 322.7h0M127.4 303.8h0M76.2 334.9h0M127.6 314.8h0M77.3 357.5h0M120.1 316h0M99.8 347h0M77.1 326.7h0M138 352.7h0M55.8 320.8h0M81.9 348.7h0M84.6 355.6h0M98.6 355.6h0M82.8 347.9h0M78.5 338.9h0M96.8 318.6h0M93.4 336h0M92.1 351.7h0M85.3 307.9h0M77.7 350.6h0M98.9 343.6h0M60.2 307h0M64.2 327.1h0M95.9 363.7h0M130.2 311.2h0M140.2 364.1h0M95.7 314.1h0M69.8 363.6h0M132.8 295.6h0M105.6 356h0M101.2 334.9h0M119.6 340.5h0M89.3 350.4h0M88.6 361.7h0M102.8 338.4h0M80.2 377.4h0M135.2 325.6h0M86.9 327.3h0M107.7 322.5h0M57.2 369.8h0M68.1 309.9h0M78.4 351.2h0M82.6 319h0M142.1 351.2h0M81 323.8h0M107.2 344.6h0M82.2 344.5h0M127.2 363.5h0M136.4 336h0M70.6 343.1h0M110.9 335.3h0M81.6 329h0M87.2 316h0M105.1 335.1h0M71.9 344.5h0M126.2 334.4h0M82.3 311.3h0M88.8 341.5h0M123.3 315.9h0M112.6 368.7h0M117.5 306.1h0M139.4 352.2h0M67.5 338.9h0M90.2 351.1h0M75.3 371.6h0M102.2 333h0M112.9 356.8h0M93.8 362.9h0M74.8 332.3h0M58 375.5h0M77 321.2h0M64.8 315.4h0M110.7 306.8h0M76 321.3h0M143.3 354h0M76.1 378.4h0M128.6 344.1h0M108.3 309.6h0M107.9 368.9h0M129.9 352.9h0M109 316h0M119.9 357.8h0M90.2 364.4h0M121.9 352.2h0M109 337h0M89.2 336.8h0M76.7 356.7h0M99.7 325.4h0M113.6 339.1h0M123.5 355.6h0M110.3 367.2h0M88.6 357.8h0M76.5 309.4h0M95.2 340.5h0M62.9 310.7h0M135.8 332.3h0M121.8 305.5h0M89 361.3h0M121.9 317h0M97.9 317.7h0M69.9 323.4h0M116.8 335.5h0M111.4 356.7h0M82.5 380.8h0M75.9 368.2h0M67.3 313.1h0M75.9 381.1h0M116.4 355.1h0M96.5 321.2h0M122.7 323.4h0M80 345.8h0M127.2 346.3h0M139.2 355.8h0M109 314.5h0M75.2 365h0M123.3 328.9h0M57.8 364.7h0M110.5 312.7h0M81.2 340.1h0M92.2 367.9h0M90.2 359.1h0M58.9 364.5h0M136.6 341.5h0M104.8 315.6h0M65.4 348.3h0M122.6 358.3h0M91.2 324.7h0M84.8 331.3h0M107.6 317h0M119.8 328h0M132.3 318.6h0M132.9 359.2h0M143.1 369h0M92.4 335.8h0M61 315.3h0M80.6 342.5h0M87.3 336.6h0M102.5 310.7h0M121.9 328.1h0M96.4 315.1h0M76.5 336.8h0M103.7 308.9h0M120.1 336.1h0M121.7 351.6h0M117.9 354.2h0M143 355.3h0M115 302h0M71.3 362.8h0M59.4 338.1h0M83 331.8h0M69.9 305.9h0M86.6 339.8h0M84.9 311.3h0M118.5 330.5h0M103 336.5h0M85.9 309.8h0M106.1 339h0M121.9 311.4h0M94.2 331.7h0M83.4 332.6h0M97.9 371.8h0M67 334.3h0M97 319.1h0M136.3 353.8h0M82.5 359.1h0M94.6 319.6h0M84 357h0M99 327.1h0M65.3 328.2h0M135.8 340.8h0M127.9 326.9h0M137.8 362.8h0M133.1 319.9h0M123.5 311.3h0M133.4 304.1h0M82.1 369.1h0M77.8 368.4h0M132.3 323.9h0M110 369.1h0M116.8 352.6h0M117.6 340.1h0M59 326.8h0M118.6 317.4h0M85.6 334.6h0M94.6 325.6h0M122 343.2h0M136.7 366.5h0M96.9 322h0M143 360.4h0M107 309.5h0M114.3 329.3h0M100.7 367.9h0M82.9 346h0M103.7 305h0M120.3 346h0M94.6 364.1h0M100.1 316.7h0M60 323.1h0M110.6 355h0M93.1 356.3h0M83.7 362.4h0M134.6 362.8h0M75.2 306.6h0M66.8 354.5h0M122.5 320.1h0M121.9 336.4h0M127.1 311.9h0M137 369h0M140.9 359.6h0M132.7 327.9h0M62.8 327.3h0M100.3 337.7h0M127 361.7h0M125.7 361.7h0M71.7 319.5h0M97.7 352.9h0M78.1 382.4h0M124.8 308.3h0M137.3 366.7h0M82.4 349.5h0M125.3 313.9h0M110.6 337.6h0M129.9 365.8h0M77 379h0M78.7 354.5h0M104.5 325.7h0M106.5 327.8h0M99 377.1h0M95.3 310.6h0M124.9 312.6h0M72.7 366.9h0M128.5 337.3h0M132.7 301.6h0M114.7 314.9h0M136.8 356.5h0M68.9 339.1h0M77.3 350.4h0M112.7 366.8h0M119.7 342.8h0M89.5 335.7h0M98.9 318.6h0M136.9 342.2h0M83.3 310.6h0M128.2 312.6h0M119.5 303.3h0M125 317.5h0M95.7 317.4h0M66.2 326.5h0M133.5 294h0M114.7 320.7h0M100.7 306.5h0M108.5 316.9h0M140.7 357.8h0M91.9 339.2h0M101.2 367.4h0M95.4 306.2h0M122.2 342.7h0M112.3 335h0M68.5 337.1h0M120.9 300.2h0M61.6 340.6h0M88 353.6h0M125 353.2h0M104 335.6h0M97.4 321.4h0M137.1 351.4h0M95.7 319.9h0M86.8 380.6h0M88.4 319.7h0M125.9 324.1h0M80.1 336.7h0M106.7 375.4h0M75.9 371.9h0M93.4 372.2h0M66.6 334.7h0M90.5 356.8h0M120.4 338.8h0M81.6 353.7h0M86.7 354.2h0M95.8 333.5h0M82.8 358.5h0M110.2 369.4h0M101.2 320.9h0M90.7 356.4h0M114.6 340.7h0M112.6 324.1h0M126.3 342.2h0M90.3 362.5h0M94.9 333.1h0M119 332.7h0M103.8 377.5h0M85.4 328.4h0M139.8 355.8h0M78.9 377.3h0M79.1 338.6h0M116.3 312.7h0M113.7 349.3h0M136.4 368.6h0M90.4 339.2h0M113.3 339h0M97 326h0M83.3 380.7h0M93.6 342.1h0M79.2 313.2h0M110.2 339.5h0M72.1 339.8h0M124.3 343.3h0M80.5 379.7h0M57.4 320.2h0M88.4 329.9h0M71.9 343.8h0M102.6 374h0M120.5 334.4h0M132.3 354.4h0M87.7 365.1h0M92 328.1h0M116.7 308.8h0M90.9 312.6h0M135.1 342h0M129.7 353.5h0M55.5 325.3h0M87.2 375.7h0M68.3 306.5h0M62.6 363.9h0M121.9 336.7h0M116 341.6h0M132.5 346.9h0M97.7 308.6h0M127.2 344.3h0M56.7 361.1h0M132 294.9h0M127 326.4h0M92 323.1h0M95.6 361.5h0M103.7 369.6h0M78 335.1h0M91.1 341.8h0M98.7 319.6h0M91 305.2h0M119.6 307.4h0M109.6 366.8h0M128.9 327.9h0M72.6 360.2h0M113.9 350.8h0M132.1 298.8h0M123.7 353.9h0M100.2 303.3h0M78.2 324.9h0M140.3 357.4h0M132.1 305h0M118.9 314h0M106.8 304.9h0M58.5 363.5h0M106.7 373.6h0M141.2 350.1h0M98.1 339.6h0M106.6 310.9h0M99.8 334.8h0M88.7 358.8h0M127.6 350.9h0M84.5 351.6h0M107.8 309.1h0M78.7 373.3h0M76.2 315.3h0M76.5 338.6h0M98.3 335.4h0M114.3 312.1h0M67.7 309.6h0M83.2 308.3h0M86.7 308.4h0M66.8 361h0M128.6 323.9h0M91.9 334.9h0M70.8 351h0M80.6 328.2h0M117.7 340.9h0M96.2 336h0M90.3 307.9h0M61.4 367h0M113.9 335.1h0M95.2 363.4h0M57.1 319.8h0M133.6 345.6h0M98.4 326.2h0M81.9 307.2h0M124.3 365.7h0M57.3 331.6h0M57.6 336.8h0M88.9 337h0M124.6 361.8h0M82.8 352.4h0M76 337.1h0M73.8 378.8h0M86.3 335.9h0M58.6 351.9h0M97.9 337.5h0M74.8 337.4h0M80 344.3h0M98.6 334.2h0M118.9 345.4h0M129 303.2h0M78.4 355.9h0M68.3 371.9h0M130.4 347.8h0M87.7 358.8h0M104.5 320.8h0M94.4 335.4h0M112.3 349.8h0M65.3 364.7h0M134.6 341.9h0M86 308.9h0M71.8 380.8h0M113.5 332.3h0M72.6 351.1h0M95.3 379.4h0M82.9 322.3h0M82.6 366.3h0M112.2 342.4h0M112.8 367.4h0M83.1 342.3h0M110.1 344h0M119 310.8h0M135.7 329.3h0M122.2 333.7h0M112.6 330.9h0M86 316.3h0M128.3 363.9h0M59.7 307.1h0M99.1 335.2h0M123.5 311.5h0M69.4 363.8h0M82.5 320.3h0M81 368.3h0M84.8 354h0M98.7 312.2h0M80.4 348.1h0M112.5 340.9h0M145.2 359.9h0M109.6 350.2h0M104.8 379.9h0M128.2 342.2h0M59.4 374.8h0M82.8 372h0M120 363.1h0M55.7 354.6h0M84.2 311.7h0M80.6 310h0M111.3 360.8h0M86.6 346.6h0M92.6 339.6h0M131.1 320.7h0M85.6 367h0M86.6 315.3h0M105.9 327.7h0M83.2 326.1h0M61.7 347.7h0M82.2 352.8h0M88.8 319.5h0M88.8 323.2h0M114.4 310.9h0M114.3 361.3h0M93.6 339.4h0M105.5 306.4h0M115.5 352.4h0M112 359.5h0M60.5 341.8h0M114.9 321.4h0M120.3 325.7h0M66.2 333.3h0M113.5 327.9h0M126.4 349.6h0M122.2 341.8h0M138.1 353.6h0M115 326.4h0M126.2 313.2h0M123.6 311.8h0M132 322.1h0M91.5 340.4h0M61.3 313.5h0M138.3 365.5h0M137.7 349.1h0M112.1 355.1h0M82.7 355.5h0M94.4 341.8h0M108.8 318.5h0M126 334.9h0M106.4 308.2h0M93.2 330.5h0M116.3 326.7h0M124.5 339.5h0M87.9 349.3h0M65.1 363.7h0M94.2 348.9h0M87.6 360.4h0M71.6 308.9h0M79 347.1h0M133.7 343.5h0M87.6 322.4h0M139.1 348.6h0M102.9 340.6h0M89.1 357.7h0M57.8 340.2h0M100.1 363h0M93.2 335h0M93.7 390.8h0M98.5 386.5h0M88.9 382.6h0" stroke="#1492d0" stroke-width="1.78" stroke-linecap="round" fill="none"/>
<path d="M183.2 324.7h0M175.4 366.7h0M165.6 284.9h0M163.8 369.9h0M172 332.2h0M147.5 345.4h0M169.7 297.8h0M155.6 291.6h0M162.9 322.7h0M159.6 285.9h0M191.2 304.3h0M144.2 282h0M155.4 314.9h0M136.5 310.5h0M150.5 318.7h0M156.6 308h0M177 344.4h0M182.1 312.3h0M150.4 303.2h0M157.9 310.6h0M144.5 296.3h0M176.8 295.8h0M186.9 340.3h0M145 347h0M172.5 366.9h0M157.3 282.5h0M174 339.2h0M159.1 343h0M174.1 337.8h0M148.1 332.6h0M167.8 285.3h0M155.2 300.9h0M174 344.4h0M158.6 309.7h0M169.9 345h0M158.3 346.8h0M164.5 346.5h0M137.7 288.9h0M151.4 354.7h0M157.5 297.9h0M174.1 300.2h0M178.8 333.4h0M140.9 284.8h0M186.8 322.5h0M177.3 281.3h0M142.5 312.2h0M148.9 280.7h0M154.4 342.7h0M157 339.3h0M164.4 325.2h0M165.6 367.3h0M158.1 287.6h0M145.5 313.8h0M154.1 353.3h0M192.8 328.4h0M151.6 307h0M145 299.5h0M174.5 290h0M179.4 280.2h0M173.6 326.1h0M147.9 355.1h0M158.4 304.2h0M175.5 346.2h0M151.6 341.6h0M144.7 308.8h0M171.1 284.9h0M176.6 307.7h0M136.6 312.5h0M155.3 343.9h0M166.5 298.6h0M185.5 300.2h0M159.9 318.8h0M158.4 318.2h0M155.2 344h0M184.5 303.8h0M169.5 277.5h0M176.9 319.9h0M165.5 341.8h0M164.1 315.7h0M144.9 330.9h0M165.4 371.9h0M183 356.7h0M175.5 296.8h0M145.7 278h0M155.1 302h0M164.9 317.5h0M146.1 349h0M147.9 276h0M163.5 334.1h0M167 277h0M182.2 326.3h0M188.1 291.7h0M163.8 326.9h0M187.2 315h0M159.8 330.6h0M172.1 319.4h0M148 295.2h0M145.4 294.1h0M180.5 311.6h0M164.2 317.3h0M147.1 349.8h0M168.7 287.1h0M163.2 345.2h0M177 364h0M177.1 330.6h0M146.4 307.8h0M147.1 288.9h0M166.7 294.3h0M172.6 321.6h0M142.5 281.3h0M173 280.8h0M178.1 293.9h0M141.6 288.9h0M160 332.2h0M177.3 328.2h0M151 366.1h0M156.4 297.9h0M160.6 381.3h0M160 322.9h0M177.4 299.3h0M156.4 305.6h0M146.3 295.5h0M150 339.3h0M160 316.4h0M141.2 324.7h0M190.7 303.2h0M153.2 310.7h0M154.9 300.8h0M164.9 306.1h0M149 347.9h0M155.1 285.1h0M175.2 345.6h0M176 289.3h0M157.7 319.8h0M142.6 318.5h0M185.6 291.3h0M162.6 327.4h0M170.7 285h0M151.6 301.1h0M146.2 298.8h0M138.6 305.2h0M188.4 342.7h0M172.6 346.4h0M171.9 349h0M182.5 336.5h0M181.3 318.8h0M160.3 321.5h0M184.1 299.7h0M159.9 302.5h0M145.5 284.2h0M178.1 310h0M175.6 290.3h0M188.2 329.1h0M164.3 327.8h0M165.7 294.1h0M169.9 314.3h0M149.7 295.6h0M157.7 383.2h0M149.1 326.8h0M153.1 336.4h0M143.6 294.1h0M164 276.3h0M155.3 384.3h0M165.9 282h0M194 324.4h0M148.4 323.6h0M159.5 314.9h0M178.3 323.3h0M147.8 330.9h0M170.7 339.7h0M152.6 295.8h0M146.7 320.9h0M144.9 334.3h0M162.4 372.8h0M166.9 299.8h0M153.7 381.7h0M150 316.5h0M171.6 311.1h0M144.2 313.8h0M175 297.7h0M152.5 295.6h0M154.4 291h0M144.6 344.3h0M162.7 315.1h0M152.4 312.1h0M160.4 329.9h0M170.1 337.4h0M173.7 329.3h0M161.5 331.1h0M152.3 301.2h0M147.6 311.6h0M187.8 326.2h0M158.8 328.6h0M174.4 330.9h0M155.3 328.5h0M157.1 279.7h0M145.1 288.4h0M152.2 319.8h0M158.9 352.8h0M160.8 332h0M150.1 307.2h0M157.1 320.1h0M170.7 291.2h0M169.5 340.1h0M159.6 275.5h0M146.2 346.2h0M140.2 304.6h0M149.3 327.8h0M173.9 278.6h0M153.2 325.5h0M138.9 308.7h0M164.1 292.1h0M168.5 279.2h0M169.9 304.4h0M175.8 326.9h0M183.9 319.1h0M181.8 280.1h0M174.9 307.2h0M143.1 341.8h0M166 338.7h0M143.7 308.3h0M169.7 286h0M144.6 280.7h0M168.4 347.6h0M174.3 313.2h0M152.3 367.4h0M154.9 350.8h0M171.1 284h0M157.2 307.1h0M149.8 330.3h0M139.7 300.4h0M149.3 319.1h0M173.4 300.6h0M157.3 329h0M168.7 309.7h0M149.6 317.7h0M139.2 286.7h0M170.8 323.1h0M174.1 336.7h0M139.6 296.7h0M163.6 323.7h0M166.8 278.5h0M173.3 337.1h0M155.5 302.9h0M185.8 303.4h0M162.7 317.4h0M156.9 310.2h0M175.9 312.8h0M184.9 343.3h0M162.8 336.3h0M149.3 315.6h0M144.4 320.1h0M160.2 318.6h0M184.4 344.3h0M168.4 298.4h0M167.5 299.7h0M166.1 273.5h0M154.3 297.1h0M148.2 301.3h0M155.7 327.1h0M182.4 310.6h0M144.5 340h0M138 299.1h0M156.9 343.6h0M158.3 316.6h0M169.3 312.9h0M152.9 364.4h0M149.4 316.7h0M152.9 348.4h0M174.3 285.7h0M152.4 326h0M179.2 314.6h0M160.7 293.9h0M148.4 305.1h0M147.4 292.1h0M154.7 300.5h0M171.5 292.5h0M142.4 302.5h0M165.4 291h0M151.7 364.2h0M161.4 323h0M161.3 280.2h0M184.7 310.3h0M175.9 343.6h0M151.9 365.6h0M170.4 311.7h0M185 284.6h0M160.7 336.4h0M167.3 283.1h0M153.8 288.9h0M157.6 280.5h0M173.5 314.3h0M148.8 331.4h0M161.7 305.6h0M155.7 310.3h0M147.3 311.7h0M163.8 278h0M148.9 282h0M150.6 335.6h0M153 307.7h0M165.9 341.1h0M188.1 307.8h0M148.6 312.3h0M171.5 288.4h0M151.1 317.5h0M167.7 342.8h0M142.9 326.6h0M161.7 342.7h0M170.6 319.7h0M191.3 299.9h0M156.6 297.6h0M189.6 331.4h0M165.8 312h0M167.5 342.2h0M172.3 323.8h0M171.3 321h0M142.9 329.2h0M182.5 330.7h0M155.7 298.1h0M158.6 290.7h0M144.3 296h0M137.9 291.5h0M190.1 338.2h0M148.8 340.8h0M173.3 326.1h0M150.4 319.9h0M172.9 283.1h0M147.4 349h0M145.5 361.5h0M163.1 309.8h0M145.2 307.5h0M147.2 320.9h0M158 303.1h0M188.4 315h0M148.1 332.6h0M165.9 322.6h0M186.3 291h0M151.2 343.7h0M147.8 338.2h0M184.4 326.5h0M189.6 311.7h0M153.5 313.6h0M180.5 315.7h0M192.5 339.5h0M182.6 292.2h0M138.4 311h0M160.1 323.6h0M144.5 340h0M162.9 317.1h0M173.3 289.9h0M157.2 322.6h0M184.8 320.6h0M144.5 291.2h0M188.3 330h0M147.8 334.3h0M191.3 333.9h0M166.3 273.9h0M172.9 337.4h0M162.1 352.3h0M161.3 318.3h0M191.8 340.2h0M160 342.5h0M157.3 352.5h0M167.3 331.3h0M141.6 304.5h0M145.1 322.8h0M160.3 278.6h0M181.4 315.4h0M169.8 332.7h0M167.6 346.8h0M184.6 297.3h0M141.8 347.2h0M173.3 293.4h0M161.6 294.4h0M178.9 356h0M154.9 335.8h0M151.5 279.4h0M157.9 333.4h0M153.4 317.6h0M177.1 301.2h0M177.4 310.4h0M156.8 277h0M192.6 340.5h0M153.5 311.1h0M155.6 277.7h0M158.9 316.1h0M149.2 327.7h0M150 300.4h0M139.7 299.3h0M166.5 315.8h0M151.9 344.6h0M172.1 306.5h0M165.3 379.2h0M161.4 302.7h0M147.7 337.3h0M160.2 280.6h0M162.3 344.5h0M172.9 332h0M147.4 280.4h0M166.4 291.9h0M147.7 369.9h0M152.6 336.3h0M144.3 286.7h0M177 290.2h0M170.6 353.6h0M191.8 339.8h0M153.8 316.9h0M171.2 347.9h0M146.5 279.2h0M173 317h0M168.7 298.1h0M164.6 382.8h0M176.5 291.2h0M171.7 277.4h0M167.3 336.5h0M182.7 291.5h0M142.3 304.7h0M169.7 325.5h0M172.1 333.6h0M143.8 325.7h0M186.7 304.6h0M159.5 311.2h0M147.6 336.8h0M157.3 279.3h0M170.6 329.5h0M172.6 326.7h0M171.4 291.1h0M167.7 286.3h0M146.9 282.1h0M157.7 315.7h0M156.5 302.8h0M178.3 298.5h0M184.6 296.5h0M164 279.2h0M149.9 292.2h0M172.9 296.4h0M180 365.3h0M172.1 320.5h0M179.4 319.1h0M146.6 310.3h0M150.1 303.6h0M155 339.5h0M172.8 280.5h0M150.1 301.8h0M180.8 340h0M156.4 328.1h0M150.1 373.3h0M163 344.4h0M146.1 312h0M146.9 303h0M158 341.1h0M158 285.7h0M163.7 333.8h0M169.5 293.8h0M163.1 351h0M155 325.7h0M167.3 301.3h0M163.4 287.7h0M169.8 295.5h0M170 310.2h0M148.1 338.3h0M143.3 289.1h0M160 287.5h0M153.1 293.4h0M159.6 299.9h0M163.4 365.7h0M147 276.6h0M165.7 305.3h0M157.4 374.7h0M145.5 319.3h0M174.3 350.9h0M148.5 308.7h0M171.4 285.3h0M171.4 320h0M164 281.1h0M192.2 318.6h0M156.4 336.5h0M154.4 289.5h0M168.9 293.3h0M144.9 308.8h0M159.5 348.8h0M172 304.7h0M175.4 353.8h0M158.2 364h0M135.8 314.5h0M157.4 336.1h0M173.1 319.6h0M155.4 343.5h0M179.6 323.2h0M158.1 320.9h0M151.5 354.6h0M185.9 293.7h0M163.4 307.5h0M158.7 302.7h0M173.4 357.7h0M165.2 273.6h0M152.8 305.8h0M184.1 314.1h0M163.9 298.5h0M137.4 307.1h0M148.7 327.7h0M159.5 312.7h0M150 312.2h0M177.6 288.3h0M142 296.7h0M165.8 291.4h0M159.1 326.8h0M147.6 326.6h0M160.4 340.9h0M145.9 288.9h0M174.7 330.7h0M170.1 289.6h0M194.5 319.5h0M155.5 352h0M144.6 319.3h0M168.7 373.2h0M173.2 292.3h0M176.4 323.1h0M157.1 285.4h0M190 317.6h0M174.8 305h0M149.7 290.2h0M147.6 300.3h0M143.4 333.7h0M136.3 295.6h0M149.6 343h0M160.8 277.3h0M162 307.9h0M166.1 298.9h0M174.9 347.1h0M157.2 291.9h0M152.2 326.5h0M154.4 309.6h0M168.3 281h0M183.4 302.6h0M140.9 303.4h0M144.3 353.8h0M145.3 302.1h0M156.4 370.6h0M175.6 284.3h0M154 282.2h0M168.7 331.4h0M178.6 329.4h0M142.4 327h0M181.3 315.3h0M186.1 313.4h0M141 318h0M190.7 331.9h0M152.3 370.2h0M191.7 304.9h0M152 319.7h0M148.4 281.8h0M173 333.3h0M153.5 344.1h0M159.2 358.7h0M168 332.5h0M173.1 326.6h0M140.6 312.3h0M140 319.4h0M165.3 330.5h0M163 279.4h0M166.2 349h0M165.5 324h0M171.6 304.8h0M150.2 305.7h0M189.8 327.7h0M167.2 309.7h0M175.3 347h0M163.1 343.8h0M146.1 323.9h0M161.1 326.6h0M157.4 287.7h0M192.3 320.5h0M173.9 316.9h0M165.5 315.9h0M153 340.1h0M158.5 280.9h0M179.2 285.9h0M150.6 336.7h0M147.4 319.2h0M157.5 307h0M149.1 334.7h0M147.1 309.5h0M136.9 306.7h0M178.8 309.5h0M147.2 337h0M145.5 313.1h0M168.2 327.3h0M135.6 300.1h0M182.4 302.9h0M167 302.9h0M157.8 315.5h0M138.4 291.1h0M160.5 292.2h0M147.8 289.9h0M144.4 318.8h0M153.2 289.5h0M179.9 345.2h0M168.9 341.3h0M173.3 327.1h0M140 313.6h0M148.1 330.5h0M151.2 276.3h0M165.8 309.5h0M159.2 296.2h0M183.1 297.7h0M167.1 373.9h0M155.2 317.4h0M145.7 320.1h0M156.3 351.2h0M170 299.6h0M141 324.3h0M175.3 320.9h0M163 330h0M150.1 318.2h0M153.4 281.9h0M187.1 349.9h0M157.8 308.9h0M185.4 314.1h0M186.9 293.5h0M173.7 362.5h0M143.4 342.9h0M142.5 298.2h0M166.3 328.9h0M182.6 334h0M150.3 347.5h0M161.3 317.7h0M141.7 288.1h0M148.9 358.7h0M170.7 340.2h0M161.9 377.7h0M154.9 301.1h0M162.7 303.5h0M169.9 324.7h0M155 309.4h0M166.5 361.8h0M161.9 329.9h0M181.7 307.1h0M167.6 293.2h0M155.5 281.9h0M178.5 343.1h0M183.3 323.1h0M144.7 329.2h0M141.3 290.6h0M149.2 289.8h0M148.9 314.2h0M163.5 360.7h0M168.1 307.1h0M144.1 347.5h0M172.1 281.6h0M190.2 303.4h0M170.6 300.3h0M163.1 296.6h0M168.6 317.8h0M162 319.6h0M141.1 315.2h0M153.3 317.7h0M149.6 296.1h0M161.9 348.6h0M149.7 308h0M165.8 282.4h0M149.5 378.5h0M145.4 326.7h0M174.8 278.8h0M180.4 312.2h0M142 313.7h0M146.6 337.6h0M136.2 310.1h0M152.7 323.8h0M153.3 332.7h0M162.5 343.8h0M179.5 297.2h0M147.8 316.9h0M149.6 291.5h0M149 309.3h0M163.8 315.3h0M174 296.6h0M163.5 277.5h0M160.4 362.4h0M142.4 296.2h0M175.8 326.6h0M167.8 302.1h0M194.4 330.4h0M164.8 313.8h0M166.6 359.9h0M166.4 334h0M169.5 289.4h0M158.2 328.6h0M145.1 308.1h0M151.1 315.5h0M136.1 299.8h0M145.8 298.9h0M149.8 301.5h0M163.8 342.7h0M163.6 315.7h0M188.6 334.1h0M157.5 315.5h0M157.7 287.9h0M171.7 321.9h0M146.3 290.8h0M172.1 326.1h0M183.7 306h0M157.9 294.6h0M158 330.7h0M155.7 341.2h0M181.4 292.7h0M138.2 297.9h0M182.1 296.7h0M140.5 335.5h0M170 285h0M147.2 304.6h0M160.8 318h0M146.7 283.6h0M143.7 317.8h0M145.8 306h0M175 342.3h0M152.3 342.9h0M150.3 341.6h0M159.7 293.9h0M154.3 346.9h0M170.9 281.1h0M157.9 316.1h0M166.6 352.9h0M159.3 297.1h0M150.2 325.2h0M165.5 286.4h0M156.3 313.6h0M158.1 334.2h0M180.4 347.7h0M165.1 323.5h0M165.3 282.6h0M193.3 328.1h0M167.3 352.4h0M159.8 325.3h0M156.6 368.4h0M145.8 291.7h0M142.9 283h0M159.7 344.4h0M166 301.3h0M148.6 307.8h0M160.9 342.3h0M142.2 287h0M175.3 341.9h0M162.8 305.7h0M169 284.7h0M185.1 307.6h0M149.7 280.9h0M144.2 338.2h0M184.5 288.1h0M152.2 278.5h0M158.9 328.4h0M149 328.2h0M155.5 323.8h0M169 338.9h0M155.9 284h0M148.9 336.8h0M135 308.4h0M149.5 325.1h0M142.2 307.2h0M142.1 308.1h0M165.2 287.1h0M164.3 323.6h0M154.4 289.4h0M161.7 300.8h0M162.7 366.8h0M178.8 320.1h0M169.5 301.9h0M156.2 332.5h0M151.4 282.9h0M154.2 318.2h0M162.2 372h0M156.9 312.2h0M176.9 330.5h0M162.3 327.1h0M146.6 349.2h0M153 351.8h0M150.5 304.9h0M143 312h0M154.3 354.2h0M154.3 333.3h0M170.6 284.8h0M144.4 321.2h0M162.1 306h0M184.1 283.5h0M185.5 334.5h0M179.2 293.3h0M147.2 354.1h0M189.5 332.7h0M181.4 320.5h0M161.3 291.6h0M165.7 330.6h0M181 315.3h0M177.9 335.1h0M143.7 308.7h0M159.7 305.6h0M174.1 316.7h0M144.1 335.3h0M167.1 281.8h0M151.4 281.2h0M159.6 321.2h0M176.4 281.3h0M155.4 317.2h0M184.2 323.8h0M159.2 302.6h0M164.6 352.4h0M179.6 338.5h0M170.2 291.6h0" stroke="#1492d0" stroke-width="1.78" stroke-linecap="round" fill="none"/>
<path d="M102.3 277.8h0M114.9 275.9h0M92.1 286.5h0M113.8 270.5h0M105.9 277.8h0M135.5 268.3h0M101 283.2h0M128.2 278.7h0M94.4 297.2h0M125.6 286.6h0M101.7 277.8h0M88.9 302.8h0M91.1 302.7h0M106.7 275.5h0M121.5 290.7h0M118.3 283.7h0M63.6 291.5h0M112.8 281.4h0M126.8 273.3h0M89.9 298.7h0M87.9 294.4h0M129.5 272h0M92.1 289h0M137.6 279.6h0M130.1 274.3h0M104.4 269.8h0M133.3 278.1h0M86.7 303.8h0M136.6 286.5h0M95.9 293.9h0M133.8 279.8h0M126.2 281h0M108.3 295.2h0M100.2 294.1h0M86.8 280.3h0M94.1 291.3h0M90.2 294.1h0M76.3 299.6h0M100.9 296.5h0M102.8 279.7h0M59.3 284.2h0M97.6 299.2h0M98.7 289.8h0M119.7 288.9h0M106.3 285.8h0M109.9 277.8h0M105.2 293.6h0M82.3 282.7h0M133.4 271.1h0M114.5 276.5h0M118.1 286.9h0M105.2 283.5h0M79.7 286.3h0M136 274.1h0M120.7 277.8h0M75.8 282.5h0M137 276.6h0M90.8 298.2h0M83.4 290.2h0M97.3 281.1h0M138.2 284.1h0M135.1 285.1h0M102.3 282.1h0M139.5 272.1h0M88.4 302.7h0M63.9 282h0M129.6 266.9h0M118.4 277.6h0M99.3 277.9h0M60.5 288h0M122.4 297.1h0M93.9 283h0M116.9 297.5h0M105.7 290.2h0M107.4 298h0M135.6 287.2h0M141 272.3h0M126.1 285.7h0M99.8 298.3h0M66.1 285.7h0M77.7 280h0M127 281.3h0M124.8 266h0M115.2 274.1h0M115.4 274.6h0M71 298.1h0M76.9 299.7h0M140.4 274.9h0M106.3 278.1h0M109.1 269.4h0M128.6 293.3h0M100.2 294h0M109.2 274h0M106.6 276.5h0M84.4 290.5h0M107.8 269.3h0M117 288.6h0M101.5 295.3h0M145.3 279h0M81.8 287h0M136.8 284.4h0M102.7 280.9h0M121 295.6h0M134.2 283.7h0M134.9 273.3h0M74 292.4h0M94.8 287.2h0M125.3 288h0M103.8 275.8h0M112.8 290.3h0M143.5 275.5h0M85.9 285.8h0M137.8 270.6h0M84.7 286.3h0M92.2 275h0M102 272.1h0M130.4 282.5h0M125.7 280.6h0M107.7 287.9h0M134.4 279.3h0M96.2 272.9h0M82.4 294.4h0M87.8 279.3h0M75.5 287.7h0M109.9 289h0M120.4 285.5h0M94 299.6h0M129.9 286.2h0M113.7 270.2h0M134.7 272.3h0M131.5 277.5h0M102.2 296.3h0M132.3 281.6h0M126.4 282.1h0M138.9 282.1h0M128.9 271.8h0M92 281.5h0M77.6 283h0M118.8 288.8h0M118.3 283.5h0M98.4 273.4h0M132 280.9h0M110.7 283.7h0M139.8 285.4h0M97.6 283.7h0M77.4 298.8h0M135.5 272.8h0M122.1 281h0M99.5 294.2h0M96.8 284.8h0M99.6 283.2h0M86.6 292.9h0M97.8 299.7h0M105.1 295.6h0M116.9 270.6h0M109.4 276.9h0M85.5 283.8h0M61 296.9h0M112 276.6h0M128.1 288.1h0M130.4 269.4h0M126.6 275.6h0M107.6 290.2h0M98.7 290.6h0M114.8 274.7h0M129.3 283.8h0M100.2 272.4h0M118.4 283.2h0M107.9 294.2h0M115.1 286.2h0M64 289.4h0M86.3 300.4h0M101.5 297h0M68.8 301.1h0M67.1 295.3h0M82.1 288.9h0M72.9 283.8h0M137.4 290.8h0M98.7 295.2h0M142.2 279.2h0M122.1 293.7h0M87.7 298.7h0M99 287h0M111.1 279.9h0M110.6 296.7h0M85.7 282.2h0M62.3 301.4h0M121.5 288.8h0M129.4 273.8h0M88.4 287.4h0M132.7 287.5h0M136.9 275.5h0M127.4 268.3h0M130.3 293.5h0M97.8 285.4h0M74.3 302.4h0M124.4 290.5h0M101.1 289.7h0M111.2 288.6h0M97.1 276.8h0M141.6 277.7h0M96 284.9h0M95.7 283.8h0M133.3 281.1h0M88.9 281.9h0M93.6 283.5h0M124.5 283.8h0M120.8 269.4h0M120.9 297.6h0M112.7 272.6h0M126.6 291.6h0M143 279.5h0M115.4 271h0M82.2 289.3h0M73.3 283.1h0M101.6 298.2h0M113.8 294.1h0M137.8 273.2h0M62.2 289h0M82.2 283h0M97.3 297.7h0M97 286.6h0M137.1 283.1h0M71.8 288.8h0M93.6 295.2h0M136.6 287.4h0M69.1 290.5h0M70.8 291.7h0M102.6 288.5h0M140.3 272.7h0M103.2 282.9h0M119.8 277.2h0M114.8 273.3h0M134 282.1h0M97.6 273.2h0M96.9 277.9h0M125.5 273.8h0M103.2 284h0M107.4 273h0M63.6 290.6h0M139.5 268h0M92.8 283.9h0M56.9 290.1h0M96 284.8h0M129.4 289.4h0M66.3 291.2h0M92.8 286.1h0M127.4 287.8h0M113.2 284.7h0M121 275h0M126.9 280h0M144.1 275.2h0M132.3 275.9h0M106.3 290.5h0M109.5 297.1h0M125.9 276.9h0M130.8 287h0M82.4 282.4h0M107.5 296.9h0M116.5 292.7h0M121.3 289.5h0M137.4 269.9h0M131.5 283.3h0M74.6 287.2h0M104 288.9h0M103.8 292.8h0M95.4 300h0M60.3 288.3h0M126.1 275.4h0M127.4 278.6h0M128.3 285h0M71.9 292.9h0M104.8 294.7h0M115.5 298.8h0M134.5 269.9h0M62.4 292.2h0M105.9 292.2h0M143.6 278.2h0M130.4 291.2h0M122.6 276.3h0M136.9 278.5h0M122.9 295h0M88.6 292.1h0M136.7 275.2h0M80.6 282.5h0M115.7 288.1h0M136.8 273.7h0M116.2 282.6h0M139.1 276.1h0M96 291.7h0M126.8 278.7h0M109.2 292.2h0M102.5 299.3h0M124.5 270.7h0M131.8 284.1h0M92.6 298.5h0M125.7 286.6h0M124.6 292.7h0M124.9 277.6h0M96.6 298.2h0M112.8 285h0M132.2 283.6h0M87.9 303.1h0M102.4 278.2h0M104.5 273.6h0M114.4 290.8h0M79.4 281.4h0M134.7 278.4h0M141.7 270.9h0M129.2 271.8h0M98.4 296.1h0M84.5 287.7h0M122 280.6h0M99.6 287.9h0M87.2 279.2h0M136.9 274.2h0M97.1 285.6h0M120.4 268.8h0M100.3 275.5h0M136.2 281h0M124.8 274.7h0M136.8 288h0M137 284.7h0M86.5 297.9h0M130.4 280.5h0M113.3 273.8h0M90.8 289.9h0M87.7 286.8h0M91.3 285.2h0M132.2 282.3h0M63.6 292.4h0M124.9 290.7h0M80.5 293.9h0M75.2 297h0M138.3 278.5h0M108.1 282.8h0M123.5 271h0M128.4 282h0M92 281.6h0M123.8 277.7h0M96.5 287.9h0M108.2 292.5h0M87.1 292h0M130.3 278.8h0M136.4 283.9h0M110.8 285.5h0M130.2 274h0M96.9 292.1h0M93.6 288.3h0M105.8 270.6h0M59.9 287.1h0M110.8 288.4h0M135.1 281.8h0M105.7 292h0M105.8 284.2h0M93.7 295.9h0M80.1 290.7h0M93.2 275.1h0M67.4 295.5h0M95.1 282h0M86.4 288.9h0M112 296.1h0M133 290.4h0M100.8 289.1h0M101.4 282.1h0M101.3 298h0M88.8 295.8h0M123.1 293.5h0M93.4 298.7h0M118.9 281.1h0M119.8 275.4h0M87.9 296.6h0M92.4 286h0M69.6 294.3h0M119.4 283.7h0M93.6 287.8h0M101 270.8h0M113.6 276.2h0M138.6 287.2h0M100.9 285.4h0M87.9 292.6h0M96.8 289.2h0M120.6 291.9h0M71.1 301.6h0M86.5 289h0M113.2 275.8h0M126.9 287.6h0M105.1 291.1h0M92.9 302h0M141.3 277.5h0M74.9 294.9h0M101.1 284.2h0M101.9 278.3h0M122 277.6h0M90.2 284h0M100.7 297.6h0M125.2 284h0M120.8 281.7h0M115 290.8h0M105.1 278.1h0M136.7 287.7h0M123 273h0M140.2 271.9h0M65 295.5h0M108.2 289h0M129.1 279.8h0M140.4 284h0M114.9 298.3h0M57.6 286.9h0M117.3 280.6h0M109.5 296.1h0M123.9 295.3h0M126.5 282.8h0M122.6 285.1h0M111.9 288.1h0M114.3 283.9h0M119.1 270.6h0M127.4 293.3h0M114.2 285.6h0M136.1 271.9h0M71.3 285.7h0M135.7 268.3h0M123.4 290.3h0M63.8 287.8h0M64.1 288.4h0M77 281.1h0M143.9 280.6h0M96.9 294.2h0M124.1 293.8h0M72.5 286.1h0M82.5 284.6h0M73.5 290.6h0M115.9 297.8h0M101.9 286.5h0M135.1 274.4h0M106.9 274.6h0M92 284.1h0M62 300.7h0M111 281.1h0M91.4 299.1h0M108.5 279.6h0M104.2 293.9h0M93 280.3h0M75 286h0M131.7 269.4h0M103.9 288.3h0M103.3 282.9h0M121.2 289.7h0M89.5 290.4h0M109.4 277.7h0M103.2 279h0M132.7 280.3h0M79.5 295.5h0M79 303.3h0M131.1 278.8h0M116.1 269.9h0M145.5 279.2h0M125.4 277.2h0M104.9 279.7h0M59.3 290.7h0M59.1 287.3h0M126.1 273h0M118.3 289h0M89 287.3h0M101 285.1h0M119.6 285.2h0M110.5 289.5h0M72.5 289.8h0M130.6 285.4h0M135.9 279.2h0M97.8 287.1h0M117 280.5h0M74.4 291.4h0M121.3 283.6h0M113.1 295.8h0M57.8 296.8h0M99.5 292.6h0M120.9 279.4h0M111.8 279.6h0M67.4 298.7h0M127.5 289.4h0M126 291h0M97.4 278.1h0M97.3 284.1h0M75.1 298.6h0M134.9 277.6h0M88 287h0M109.3 279.7h0M125.2 295.2h0M97.6 297.3h0M82.8 300.2h0M117.3 286.2h0M133.5 271.7h0M138.5 282.6h0M102 292.7h0M120.9 292.9h0M95.5 287.5h0M131.1 272.6h0M74 295.1h0M108.8 286.1h0M120.2 292.9h0M105.9 276.1h0M116.8 268.7h0M111.8 281.7h0M122.8 288.2h0M102 286.3h0M125 274.7h0M115 282.9h0M138.3 269.2h0M80.8 296.9h0M77.7 297.2h0M99 293.4h0M120.3 278.5h0M116.5 286.9h0M101.6 281.7h0M95 282h0M113.8 286.2h0M107.3 274.9h0M116.5 285.6h0M75.3 293.5h0M94.8 289.1h0M72.7 300.2h0M107.9 271.4h0M105.9 289.3h0M90.7 301h0M87.7 280.9h0M94 294.8h0M126 277.5h0M98.5 270.3h0M102.9 286.2h0M122.2 271.4h0M107.2 279.8h0M105.2 279.1h0M79.3 292.9h0M94.5 289.3h0M125.9 271.3h0M129.4 274.1h0M97.6 283.9h0M102.3 272.3h0M83.7 293.8h0M118.8 276.1h0M104.7 290.6h0M121.7 277.3h0M117.1 291.8h0M108 275.4h0M122.2 276.6h0M97.1 294.9h0M104.6 298.2h0M61.8 289.9h0M129.6 277.2h0M80.2 288.8h0M113 294.4h0M89.4 281.4h0M138.9 284.3h0M82.1 278.7h0M127.7 292.9h0M132.9 270.1h0M92 287.8h0M100.7 271.7h0M86.8 295.5h0M121.4 296.3h0M95.1 276.8h0M119.7 285h0M70.5 285.6h0M126.8 289.1h0M98.9 278.9h0M124.5 290h0M121.1 285.9h0M103.1 296.7h0M122 274h0M114.5 290.2h0M71.3 293.5h0M135.6 282.9h0M133.6 279.5h0M123.6 293.5h0M85.4 278.1h0M119.9 288.9h0M103.3 293.7h0M84.5 287.3h0M103.4 276.9h0M138.3 283.1h0M111.2 280.6h0M105.3 277.7h0M107.6 270h0M109.9 284.4h0M111.1 288h0M110.3 283.9h0M133.6 290.4h0M88.4 276.1h0M131.4 276h0M117.7 272.4h0M125.9 267.1h0M136.3 274.6h0M73.3 301.4h0M140.2 272.2h0M95.4 285.1h0M108 300h0M96.3 284.4h0M110.7 269.8h0M70.8 283.8h0M66.4 296.3h0M123.4 293.9h0M107.9 272h0M119.4 273.1h0M85.9 288.1h0M101.2 292.9h0M107.6 276.9h0M101.1 289.6h0M100.6 295.3h0M75.9 299.1h0M143.9 280.6h0M130.7 276.5h0M119.7 278.8h0M141.7 272.3h0M76.1 295.8h0M120.7 274.9h0M108.3 286.7h0M121.3 276.7h0M57.4 292.6h0M98 275.4h0M89 303.2h0M116 299.1h0M69.8 287.8h0M125.6 285.2h0M120.4 293.5h0M78.9 287.2h0M109.9 269h0M109 276.5h0M112.5 283.6h0M104.5 297.2h0M122.2 288.5h0M77.7 301.4h0M121.5 283.7h0M118.4 268.1h0M60 284.9h0M97 284.4h0M139.5 272.8h0M121.2 291.3h0M110.7 275.6h0M131 290.7h0M97.5 290.7h0M136.9 281.1h0M121.5 285.1h0M129 273.3h0M115.9 296.1h0M103.2 271.7h0M72.9 288.8h0M96.3 293.9h0M70.6 284h0M103.3 288.8h0M113.4 294.1h0M102.4 279.4h0M114.6 278.9h0M80.4 290.2h0M105.7 282.8h0M89.4 297.9h0M110.5 282.4h0M98 282.1h0M113.6 290.4h0M98.3 301.4h0M89.5 295.2h0M68 298.3h0M111.9 270h0M107.6 292.9h0M105.3 289.5h0M88.5 283.2h0M110.9 290.4h0M85.1 293.4h0M68.2 294.2h0M70.6 299.5h0M97.1 281.5h0M129.2 292.6h0M110.8 269.9h0M111.4 275.1h0M76 299.8h0M133 289.8h0M66.9 293.2h0M115.6 277h0M122.7 280.3h0M113 278.5h0M125.2 290.3h0M105.9 274.2h0M121.8 286.8h0M128.2 289.9h0M91.3 289.4h0M97.1 278.2h0M120.5 291h0M108.1 295.3h0M114.9 289.1h0M137.4 276.4h0M143.5 281.4h0M61.6 288.4h0M118.3 298.9h0M75.4 299.8h0M88.8 279.8h0M76.6 280.9h0M95.1 291.5h0M65.5 295h0M107.7 291.6h0M128.9 281.2h0M107.4 276.4h0M132.8 267.7h0M137.9 273.1h0M114.7 275.2h0M97.9 291.3h0M134.6 287.1h0M69 302.4h0M138 283h0M97.7 280h0M136.5 286.6h0M129 279.1h0M103.9 289.5h0M126.1 279.6h0M95.7 284.6h0M113.3 271h0M101.5 283.2h0M141.6 282.1h0M105 285h0M139.7 273h0M95 287.2h0M81.8 281.7h0M79.3 303.2h0M93.8 272.6h0M103 299.1h0M127 278.1h0M108.8 282.8h0M101.3 301.3h0M64.6 293.4h0M132.2 286.9h0M132.9 286.1h0M119.6 266.3h0M106 282.7h0M103.9 293.4h0M93.6 284.2h0M98.9 273.3h0M92 302.4h0M138.7 275.8h0M113.6 275.2h0M100.9 295h0M135.7 286.1h0M141.9 273.5h0M101.4 290.4h0M89.4 288.3h0M119.1 295.9h0M85.4 282.7h0M96.9 290.2h0M99.9 274.4h0M108.2 290.5h0M100.1 301.3h0M86.6 283.8h0M109.5 289h0M77.1 280h0M122.1 268.4h0M117.3 296.7h0M95.5 274.4h0M105.7 282.2h0M128.3 270.9h0M131.3 266.9h0M89.1 275.7h0M128.7 268.7h0M124 295.3h0M117.4 286.8h0M138.2 287.3h0M124.3 284.2h0M64.6 302.3h0M110.1 288.8h0M125.4 280.2h0M123.5 293.8h0M123.9 284.2h0M103.7 296.3h0M77.6 279.5h0M99.9 283.7h0M93.8 274.6h0M67 289h0M141.2 277.9h0M110.2 296.9h0M111.7 270.9h0M60.3 291.9h0M83.4 286.7h0M101.6 291.7h0M101.9 278.9h0M102.2 297.3h0M59.1 287.6h0M103.4 271.6h0M112.8 286.8h0M110 288h0M83.9 285.4h0M115.7 293.2h0M137.8 287.6h0M130.7 282h0M113.9 277.5h0M114 280h0M139 279.7h0M100.6 277.5h0M123.7 271.6h0M133.3 284.8h0M103.3 301.3h0M77 285.2h0M83.4 295.3h0M107.2 295.4h0M61.6 301.9h0M61.8 288.4h0M107.3 271h0M119.1 275.7h0M102.1 293h0M130.7 279.3h0M87.9 278.9h0M104.9 278.7h0M112 284.3h0M124 286.2h0M124.3 267.8h0M86.6 295.9h0M101.6 278.1h0M102.5 277.3h0M102.5 276.6h0M136.3 276.1h0M110.3 281.4h0M74.6 288.3h0M83.1 304.2h0M107.6 275h0M104 283h0M111.7 274.6h0M124.6 282.3h0M98.8 273.5h0M97.2 275.2h0M117.6 282.3h0M132.8 272.3h0M117.4 269.2h0M109.8 278.5h0M61.4 289.2h0M111.6 282.8h0M64.3 287.8h0M90 283.6h0M137.2 275.9h0M70.8 286.7h0M119.3 282.9h0M100.5 287.8h0M130.8 281.4h0M104.8 287.6h0M138.7 280.1h0M97.5 286h0M97.6 281.1h0M92.1 291.9h0M57.7 290.1h0M106.1 293.3h0M87.7 275.6h0M118.2 269.9h0M83.9 299.8h0M125.2 271.4h0M119.4 269.6h0M101.9 272.6h0M106.1 268.8h0M84.6 288.8h0M124.4 289.5h0M116.9 289.8h0M99.9 275.6h0M122.7 281.7h0M119 270.9h0M98.9 300.7h0M85.2 303.2h0M130.7 285.9h0M104.5 283.7h0M93.3 273.3h0M105.9 299.8h0M117.3 277.4h0M105.3 298.5h0M126.4 288.1h0M95.3 276h0M134.4 282.6h0M128.6 276.8h0M121.7 295.2h0M133.6 281.4h0M124 272.8h0M102.6 300.1h0M102.7 293.5h0M104.5 291.9h0M81.2 280.3h0M140.4 274.6h0M106.6 269h0M107.9 284.8h0M125.4 277.5h0M58.1 288.3h0M132 271.5h0M125.7 279.7h0M71.9 296.2h0M62 285.6h0M115.3 299.4h0M98.8 299.6h0M119.6 266.6h0M104.6 276.5h0M138.3 285.9h0M75.9 286.7h0M97.6 280.7h0M93.9 272h0M120.1 295.3h0M135.1 282.5h0M118.6 294.7h0M89 300.6h0M113.1 283.5h0M86.6 292.7h0M135.8 283h0M97 295h0M130.5 294h0M63.2 290.3h0M122.6 277.4h0M104.5 277.4h0M101.6 280h0M139.2 271.1h0M130.9 271.2h0M136.1 274h0M101.8 299.6h0M91.1 291.7h0M114 286.1h0M84.8 279.7h0M114.7 295h0M115.7 283.4h0M76.7 291.9h0M107.3 297.2h0M99.7 275.2h0M112.5 276.9h0M125.5 270.4h0M127.7 271.3h0M139.4 284.4h0M131.5 288.1h0M100.5 294.3h0M112.1 285.9h0M113.5 293.9h0M88.5 274.3h0M120 272.4h0M83.4 293.3h0M99.5 286.3h0M107.7 268.1h0M135 269.7h0" stroke="#1492d0" stroke-width="1.78" stroke-linecap="round" fill="none"/>
<path d="M119.3 246.9L119.4 368.3" stroke="#6e6e6e" stroke-width="1" opacity="0.75" fill="none"/>
<path d="M27.4 403.5L136.6 444.3L223.4 397.6M27.4 403.5L21.3 262.8M30 404.5L29.3 407M41 408.6L40.3 411.1M52.3 412.8L51.6 415.3M64 417.2L63.4 419.7M76.1 421.7L75.5 424.2M88.7 426.4L88 428.9M101.7 431.2L101 433.8M115.1 436.3L114.4 438.8M129 441.5L128.4 444M35.4 406.5L35.1 407.9M46.6 410.7L46.2 412M58.1 415L57.8 416.3M70 419.4L69.7 420.8M82.4 424L82 425.4M95.1 428.8L94.7 430.2M108.3 433.7L108 435.1M122 438.9L121.6 440.2M136.2 444.2L135.8 445.5M137.8 443.6L140.3 444.5M148.4 438L150.8 438.9M158.5 432.5L161 433.4M168.3 427.2L170.7 428.2M177.7 422.2L180.1 423.1M186.8 417.3L189.2 418.2M195.5 412.6L197.9 413.5M203.9 408.1L206.3 409M212 403.7L214.5 404.6M219.9 399.5L222.3 400.4M143.2 440.8L144.5 441.3M153.5 435.2L154.8 435.7M163.5 429.8L164.8 430.3M173 424.7L174.4 425.2M182.3 419.7L183.6 420.2M191.2 415L192.5 415.4M199.7 410.3L201 410.8M208 405.9L209.3 406.4M216 401.6L217.3 402.1M27.4 403.5L24.8 403.5M26.7 388L24.1 388M26 372.3L23.4 372.3M25.3 356.4L22.7 356.4M24.7 340.2L22.1 340.2M24 323.8L21.4 323.8M23.2 307.2L20.6 307.2M22.5 290.3L19.9 290.3M21.8 273.2L19.2 273.2M27 395.8L25.6 395.8M26.4 380.2L25 380.2M25.7 364.4L24.3 364.4M25 348.3L23.6 348.3M24.3 332.1L22.9 332.1M23.6 315.6L22.2 315.6M22.9 298.8L21.5 298.8M22.2 281.8L20.8 281.8" stroke="#222" stroke-width="1.2" fill="none"/>
<g fill="#111"><text font-size="5.6" text-anchor="middle" transform="matrix(0.881 -0.474 0.937 0.350 28.7 409.2)">60</text><text font-size="5.6" text-anchor="middle" transform="matrix(0.881 -0.474 0.937 0.350 39.7 413.3)">59</text><text font-size="5.6" text-anchor="middle" transform="matrix(0.881 -0.474 0.937 0.350 51 417.5)">58</text><text font-size="5.6" text-anchor="middle" transform="matrix(0.881 -0.474 0.937 0.350 62.7 421.9)">57</text><text font-size="5.6" text-anchor="middle" transform="matrix(0.881 -0.474 0.937 0.350 74.8 426.4)">56</text><text font-size="5.6" text-anchor="middle" transform="matrix(0.881 -0.474 0.937 0.350 87.4 431.1)">55</text><text font-size="5.6" text-anchor="middle" transform="matrix(0.881 -0.474 0.937 0.350 100.4 435.9)">54</text><text font-size="5.6" text-anchor="middle" transform="matrix(0.881 -0.474 0.937 0.350 113.8 441)">53</text><text font-size="5.6" text-anchor="middle" transform="matrix(0.881 -0.474 0.937 0.350 127.7 446.2)">52</text><text font-size="5.6" text-anchor="middle" transform="matrix(1.049 0.392 -0.389 0.606 142.7 446.7)">-80</text><text font-size="5.6" text-anchor="middle" transform="matrix(1.049 0.392 -0.389 0.606 153.3 441.1)">-81</text><text font-size="5.6" text-anchor="middle" transform="matrix(1.049 0.392 -0.389 0.606 163.4 435.6)">-82</text><text font-size="5.6" text-anchor="middle" transform="matrix(1.049 0.392 -0.389 0.606 173.2 430.3)">-83</text><text font-size="5.6" text-anchor="middle" transform="matrix(1.049 0.392 -0.389 0.606 182.6 425.3)">-84</text><text font-size="5.6" text-anchor="middle" transform="matrix(1.049 0.392 -0.389 0.606 191.7 420.4)">-85</text><text font-size="5.6" text-anchor="middle" transform="matrix(1.049 0.392 -0.389 0.606 200.4 415.7)">-86</text><text font-size="5.6" text-anchor="middle" transform="matrix(1.049 0.392 -0.389 0.606 208.8 411.2)">-87</text><text font-size="5.6" text-anchor="middle" transform="matrix(1.049 0.392 -0.389 0.606 216.9 406.8)">-88</text><text font-size="5.6" text-anchor="middle" transform="matrix(1.049 0.392 -0.389 0.606 224.8 402.6)">-89</text><text font-size="7" text-anchor="middle" transform="matrix(0.951 -0.309 -0.000 1.000 21 406.1)">-5</text><text font-size="7" text-anchor="middle" transform="matrix(0.951 -0.309 -0.000 1.000 20.3 390.6)">0</text><text font-size="7" text-anchor="middle" transform="matrix(0.951 -0.309 -0.000 1.000 19.6 374.9)">5</text><text font-size="7" text-anchor="middle" transform="matrix(0.951 -0.309 -0.000 1.000 18.9 359)">10</text><text font-size="7" text-anchor="middle" transform="matrix(0.951 -0.309 -0.000 1.000 18.3 342.8)">15</text><text font-size="7" text-anchor="middle" transform="matrix(0.951 -0.309 -0.000 1.000 17.6 326.4)">20</text><text font-size="7" text-anchor="middle" transform="matrix(0.951 -0.309 -0.000 1.000 16.8 309.8)">25</text><text font-size="7" text-anchor="middle" transform="matrix(0.951 -0.309 -0.000 1.000 16.1 292.9)">30</text><text font-size="7" text-anchor="middle" transform="matrix(0.951 -0.309 -0.000 1.000 15.4 275.8)">35</text><text font-size="6.6" text-anchor="middle" transform="matrix(0.937 0.350 -0.881 0.474 64.5 430.5)">X(m)</text><text font-size="6.072" text-anchor="middle" transform="matrix(0.881 -0.474 0.937 0.350 201 424.8)">Y(m)</text><text x="13.5" y="339.5" font-size="8" text-anchor="middle" transform="rotate(-90 13.5 339.5)">Z(m)</text></g>
</g>
<g transform="translate(328.9 247.1) scale(1.0375) translate(-21.3 -246.8)">
<path d="M28.7 403L22.7 262.6M39.6 398.8L34.5 260.6M50.3 394.7L45.9 258.8M60.5 390.8L56.9 257M70.4 387L67.4 255.3M80.1 383.3L77.7 253.6M89.4 379.8L87.6 252M98.4 376.3L97.1 250.5M107.1 373L106.4 249M115.6 369.7L115.3 247.5M26.7 388L119.4 354.8M26 372.3L119.4 341.2M25.3 356.4L119.4 327.4M24.7 340.2L119.4 313.4M24 323.8L119.4 299.3M23.2 307.2L119.3 285M22.5 290.3L119.3 270.5M21.8 273.2L119.3 255.8" stroke="#dedede" stroke-width="0.7" fill="none"/>
<path d="M122 369L122 247.2M132.6 372L133.3 248.6M143.6 375.1L144.9 250M154.8 378.3L156.8 251.5M166.4 381.6L169.1 253M178.3 384.9L181.8 254.6M190.6 388.4L194.9 256.2M203.3 392L208.4 257.9M216.3 395.7L222.3 259.6M119.4 354.8L224.1 382.5M119.4 341.2L224.8 367.2M119.4 327.4L225.5 351.7M119.4 313.4L226.3 336M119.4 299.3L227 320M119.3 285L227.8 303.8M119.3 270.5L228.6 287.3M119.3 255.8L229.4 270.7" stroke="#e5e5e5" stroke-width="0.7" fill="none"/>
<path d="M28.7 403L137.8 443.6M39.6 398.8L148.4 438M50.3 394.7L158.5 432.5M60.5 390.8L168.3 427.2M70.4 387L177.7 422.2M80.1 383.3L186.8 417.3M89.4 379.8L195.5 412.6M98.4 376.3L203.9 408.1M107.1 373L212 403.7M115.6 369.7L219.9 399.5M30 404.5L122 369M41 408.6L132.6 372M52.3 412.8L143.6 375.1M64 417.2L154.8 378.3M76.1 421.7L166.4 381.6M88.7 426.4L178.3 384.9M101.7 431.2L190.6 388.4M115.1 436.3L203.3 392M129 441.5L216.3 395.7" stroke="#ebebeb" stroke-width="0.7" fill="none"/>
<path d="M27.4 403.5L21.3 262.8L119.3 246.9L229.8 260.5L223.4 397.6L119.4 368.3L27.4 403.5M119.3 246.9L119.4 368.3" stroke="#6e6e6e" stroke-width="1.1" fill="none"/>
<path d="M104.6 306.6h0M92.8 319.6h0M96.2 335.2h0M99.1 315.5h0M122.8 362.3h0M68 320.7h0M114.7 321.1h0M82.7 316.9h0M115.6 344.2h0M130.8 323.5h0M106.2 316.1h0M115.3 361.5h0M86.6 341h0M90.5 316h0M81.7 358.8h0M102.5 352h0M108.6 308.8h0M96.1 356.1h0M86.5 368.5h0M115.6 302.2h0M114 311.2h0M105 327.3h0M75.2 343h0M81.6 307.7h0M64.2 342.5h0M128 308.8h0M100.6 342.8h0M110.9 326.6h0M121.7 316.9h0M125 339.5h0M82.5 347.9h0M83.6 328.7h0M120.6 311.4h0M76.6 350.5h0M76.9 313h0M65.6 365.7h0M109.6 336h0M83.2 347.4h0M71.1 340.4h0M117.2 316.8h0M69.4 356.4h0M124.3 316.1h0M99.4 324.8h0M120.9 351.9h0M130.6 298.4h0M77.7 345.8h0M115.9 325.1h0M60.1 372h0M126.4 305.4h0M123.3 312.1h0M112.2 318.2h0M88.5 313h0M111.6 329.6h0M78.6 354h0M132.7 318.9h0M84.3 337.4h0M65.1 365.6h0M118.8 314.4h0M87.3 366.7h0M137.7 344.4h0M95.8 341h0M105.8 334.2h0M99.7 323.5h0M124.6 342.3h0M120.1 322.8h0M127.7 310.5h0M114.2 310.4h0M89.6 332.6h0M88.8 351.1h0M102.9 357.1h0M84 350.9h0M101.7 312.2h0M103.7 314.9h0M69.4 360.5h0M80.9 350.2h0M130.9 363.4h0M82.4 363.9h0M112.7 316.4h0M83.6 352.1h0M129.9 354.4h0M68.5 361.9h0M107.7 341.5h0M92.6 341.2h0M107.9 301.3h0M107.5 318.5h0M76.8 362.7h0M145 355h0M62.1 309.7h0M85 367.7h0M122.6 306.5h0M135.4 365.2h0M99 317h0M94.8 338.5h0M90.9 314.6h0M86.9 323h0M122.9 340.8h0M120.5 336.4h0M90.9 318.1h0M78.4 367.2h0M109.3 320.6h0M82.7 367.8h0M96.8 324.9h0M99.5 320.4h0M82.9 337.3h0M109.6 339.7h0M86.1 338.1h0M88.6 382.4h0M72.8 322.7h0M84.6 337.1h0M74 329.4h0M125.9 329.9h0M108.1 338.3h0M89.1 314h0M135.9 356.8h0M81.7 345.3h0M126 332.8h0M79.7 383.9h0M111.3 349.9h0M66.9 304.4h0M71.7 315.8h0M135 367.9h0M106.9 357h0M106.2 340.5h0M121 347.6h0M127.6 348.7h0M132.8 320.1h0M141.8 352.6h0M97.1 322h0M110.9 360.3h0M78.6 311.7h0M120.1 320.9h0M135.3 330.6h0M107.7 341.8h0M97.6 373.9h0M91.5 380.4h0M103.2 371.3h0M91.1 358h0M94.9 309.1h0M89.4 336.6h0M129.8 361.9h0M77.4 331.9h0M99.8 322.4h0M133.1 317.4h0M92.1 343.5h0M129.2 318.6h0M84 343.8h0M135.3 357.9h0M142.1 359.4h0M119.1 328.4h0M125 317.9h0M104.7 367.6h0M77.3 340h0M117.9 309.4h0M98.9 322.7h0M127.4 303.8h0M76.2 334.9h0M127.6 314.8h0M77.3 357.5h0M120.1 316h0M99.8 347h0M77.1 326.7h0M138 352.7h0M55.8 320.8h0M81.9 348.7h0M84.6 355.6h0M98.6 355.6h0M82.8 347.9h0M78.5 338.9h0M96.8 318.6h0M93.4 336h0M92.1 351.7h0M85.3 307.9h0M77.7 350.6h0M98.9 343.6h0M60.2 307h0M64.2 327.1h0M95.9 363.7h0M130.2 311.2h0M140.2 364.1h0M95.7 314.1h0M69.8 363.6h0M132.8 295.6h0M105.6 356h0M101.2 334.9h0M119.6 340.5h0M89.3 350.4h0M88.6 361.7h0M102.8 338.4h0M80.2 377.4h0M135.2 325.6h0M86.9 327.3h0M107.7 322.5h0M57.2 369.8h0M68.1 309.9h0M78.4 351.2h0M82.6 319h0M142.1 351.2h0M81 323.8h0M107.2 344.6h0M82.2 344.5h0M127.2 363.5h0M136.4 336h0M70.6 343.1h0M110.9 335.3h0M81.6 329h0M87.2 316h0M105.1 335.1h0M71.9 344.5h0M126.2 334.4h0M82.3 311.3h0M88.8 341.5h0M123.3 315.9h0M112.6 368.7h0M117.5 306.1h0M139.4 352.2h0M67.5 338.9h0M90.2 351.1h0M75.3 371.6h0M102.2 333h0M112.9 356.8h0M93.8 362.9h0M74.8 332.3h0M58 375.5h0M77 321.2h0M64.8 315.4h0M110.7 306.8h0M76 321.3h0M143.3 354h0M76.1 378.4h0M128.6 344.1h0M108.3 309.6h0M107.9 368.9h0M129.9 352.9h0M109 316h0M119.9 357.8h0M90.2 364.4h0M121.9 352.2h0M109 337h0M89.2 336.8h0M76.7 356.7h0M99.7 325.4h0M113.6 339.1h0M123.5 355.6h0M110.3 367.2h0M88.6 357.8h0M76.5 309.4h0M95.2 340.5h0M62.9 310.7h0M135.8 332.3h0M121.8 305.5h0M89 361.3h0M121.9 317h0M97.9 317.7h0M69.9 323.4h0M116.8 335.5h0M111.4 356.7h0M82.5 380.8h0M75.9 368.2h0M67.3 313.1h0M75.9 381.1h0M116.4 355.1h0M96.5 321.2h0M122.7 323.4h0M80 345.8h0M127.2 346.3h0M139.2 355.8h0M109 314.5h0M75.2 365h0M123.3 328.9h0M57.8 364.7h0M110.5 312.7h0M81.2 340.1h0M92.2 367.9h0M90.2 359.1h0M58.9 364.5h0M136.6 341.5h0M104.8 315.6h0M65.4 348.3h0M122.6 358.3h0M91.2 324.7h0M84.8 331.3h0M107.6 317h0M119.8 328h0M132.3 318.6h0M132.9 359.2h0M143.1 369h0M92.4 335.8h0M61 315.3h0M80.6 342.5h0M87.3 336.6h0M102.5 310.7h0M121.9 328.1h0M96.4 315.1h0M76.5 336.8h0M103.7 308.9h0M120.1 336.1h0M121.7 351.6h0M117.9 354.2h0M143 355.3h0M115 302h0M71.3 362.8h0M59.4 338.1h0M83 331.8h0M69.9 305.9h0M86.6 339.8h0M84.9 311.3h0M118.5 330.5h0M103 336.5h0M85.9 309.8h0M106.1 339h0M121.9 311.4h0M94.2 331.7h0M83.4 332.6h0M97.9 371.8h0M67 334.3h0M97 319.1h0M136.3 353.8h0M82.5 359.1h0M94.6 319.6h0M84 357h0M99 327.1h0M65.3 328.2h0M135.8 340.8h0M127.9 326.9h0M137.8 362.8h0M133.1 319.9h0M123.5 311.3h0M133.4 304.1h0M82.1 369.1h0M77.8 368.4h0M132.3 323.9h0M110 369.1h0M116.8 352.6h0M117.6 340.1h0M59 326.8h0M118.6 317.4h0M85.6 334.6h0M94.6 325.6h0M122 343.2h0M136.7 366.5h0M96.9 322h0M143 360.4h0M107 309.5h0M114.3 329.3h0M100.7 367.9h0M82.9 346h0M103.7 305h0M120.3 346h0M94.6 364.1h0M100.1 316.7h0M60 323.1h0M110.6 355h0M93.1 356.3h0M83.7 362.4h0M134.6 362.8h0M75.2 306.6h0M66.8 354.5h0M122.5 320.1h0M121.9 336.4h0M127.1 311.9h0M137 369h0M140.9 359.6h0M132.7 327.9h0M62.8 327.3h0M100.3 337.7h0M127 361.7h0M125.7 361.7h0M71.7 319.5h0M97.7 352.9h0M78.1 382.4h0M124.8 308.3h0M137.3 366.7h0M82.4 349.5h0M125.3 313.9h0M110.6 337.6h0M129.9 365.8h0M77 379h0M78.7 354.5h0M104.5 325.7h0M106.5 327.8h0M99 377.1h0M95.3 310.6h0M124.9 312.6h0M72.7 366.9h0M128.5 337.3h0M132.7 301.6h0M114.7 314.9h0M136.8 356.5h0M68.9 339.1h0M77.3 350.4h0M112.7 366.8h0M119.7 342.8h0M89.5 335.7h0M98.9 318.6h0M136.9 342.2h0M83.3 310.6h0M128.2 312.6h0M119.5 303.3h0M125 317.5h0M95.7 317.4h0M66.2 326.5h0M133.5 294h0M114.7 320.7h0M100.7 306.5h0M108.5 316.9h0M140.7 357.8h0M91.9 339.2h0M101.2 367.4h0M95.4 306.2h0M122.2 342.7h0M112.3 335h0M68.5 337.1h0M120.9 300.2h0M61.6 340.6h0M88 353.6h0M125 353.2h0M104 335.6h0M97.4 321.4h0M137.1 351.4h0M95.7 319.9h0M86.8 380.6h0M88.4 319.7h0M125.9 324.1h0M80.1 336.7h0M106.7 375.4h0M75.9 371.9h0M93.4 372.2h0M66.6 334.7h0M90.5 356.8h0M120.4 338.8h0M81.6 353.7h0M86.7 354.2h0M95.8 333.5h0M82.8 358.5h0M110.2 369.4h0M101.2 320.9h0M90.7 356.4h0M114.6 340.7h0M112.6 324.1h0M126.3 342.2h0M90.3 362.5h0M94.9 333.1h0M119 332.7h0M103.8 377.5h0M85.4 328.4h0M139.8 355.8h0M78.9 377.3h0M79.1 338.6h0M116.3 312.7h0M113.7 349.3h0M136.4 368.6h0M90.4 339.2h0M113.3 339h0M97 326h0M83.3 380.7h0M93.6 342.1h0M79.2 313.2h0M110.2 339.5h0M72.1 339.8h0M124.3 343.3h0M80.5 379.7h0M57.4 320.2h0M88.4 329.9h0M71.9 343.8h0M102.6 374h0M120.5 334.4h0M132.3 354.4h0M87.7 365.1h0M92 328.1h0M116.7 308.8h0M90.9 312.6h0M135.1 342h0M129.7 353.5h0M55.5 325.3h0M87.2 375.7h0M68.3 306.5h0M62.6 363.9h0M121.9 336.7h0M116 341.6h0M132.5 346.9h0M97.7 308.6h0M127.2 344.3h0M56.7 361.1h0M132 294.9h0M127 326.4h0M92 323.1h0M95.6 361.5h0M103.7 369.6h0M78 335.1h0M91.1 341.8h0M98.7 319.6h0M91 305.2h0M119.6 307.4h0M109.6 366.8h0M128.9 327.9h0M72.6 360.2h0M113.9 350.8h0M132.1 298.8h0M123.7 353.9h0M100.2 303.3h0M78.2 324.9h0M140.3 357.4h0M132.1 305h0M118.9 314h0M106.8 304.9h0M58.5 363.5h0M106.7 373.6h0M141.2 350.1h0M98.1 339.6h0M106.6 310.9h0M99.8 334.8h0M88.7 358.8h0M127.6 350.9h0M84.5 351.6h0M107.8 309.1h0M78.7 373.3h0M76.2 315.3h0M76.5 338.6h0M98.3 335.4h0M114.3 312.1h0M67.7 309.6h0M83.2 308.3h0M86.7 308.4h0M66.8 361h0M128.6 323.9h0M91.9 334.9h0M70.8 351h0M80.6 328.2h0M117.7 340.9h0M96.2 336h0M90.3 307.9h0M61.4 367h0M113.9 335.1h0M95.2 363.4h0M57.1 319.8h0M133.6 345.6h0M98.4 326.2h0M81.9 307.2h0M124.3 365.7h0M57.3 331.6h0M57.6 336.8h0M88.9 337h0M124.6 361.8h0M82.8 352.4h0M76 337.1h0M73.8 378.8h0M86.3 335.9h0M58.6 351.9h0M97.9 337.5h0M74.8 337.4h0M80 344.3h0M98.6 334.2h0M118.9 345.4h0M129 303.2h0M78.4 355.9h0M68.3 371.9h0M130.4 347.8h0M87.7 358.8h0M104.5 320.8h0M94.4 335.4h0M112.3 349.8h0M65.3 364.7h0M134.6 341.9h0M86 308.9h0M71.8 380.8h0M113.5 332.3h0M72.6 351.1h0M95.3 379.4h0M82.9 322.3h0M82.6 366.3h0M112.2 342.4h0M112.8 367.4h0M83.1 342.3h0M110.1 344h0M119 310.8h0M135.7 329.3h0M122.2 333.7h0M112.6 330.9h0M86 316.3h0M128.3 363.9h0M59.7 307.1h0M99.1 335.2h0M123.5 311.5h0M69.4 363.8h0M82.5 320.3h0M81 368.3h0M84.8 354h0M98.7 312.2h0M80.4 348.1h0M112.5 340.9h0M145.2 359.9h0M109.6 350.2h0M104.8 379.9h0M128.2 342.2h0M59.4 374.8h0M82.8 372h0M120 363.1h0M55.7 354.6h0M84.2 311.7h0M80.6 310h0M111.3 360.8h0M86.6 346.6h0M92.6 339.6h0M131.1 320.7h0M85.6 367h0M86.6 315.3h0M105.9 327.7h0M83.2 326.1h0M61.7 347.7h0M82.2 352.8h0M88.8 319.5h0M88.8 323.2h0M114.4 310.9h0M114.3 361.3h0M93.6 339.4h0M105.5 306.4h0M115.5 352.4h0M112 359.5h0M60.5 341.8h0M114.9 321.4h0M120.3 325.7h0M66.2 333.3h0M113.5 327.9h0M126.4 349.6h0M122.2 341.8h0M138.1 353.6h0M115 326.4h0M126.2 313.2h0M123.6 311.8h0M132 322.1h0M91.5 340.4h0M61.3 313.5h0M138.3 365.5h0M137.7 349.1h0M112.1 355.1h0M82.7 355.5h0M94.4 341.8h0M108.8 318.5h0M126 334.9h0M106.4 308.2h0M93.2 330.5h0M116.3 326.7h0M124.5 339.5h0M87.9 349.3h0M65.1 363.7h0M94.2 348.9h0M87.6 360.4h0M71.6 308.9h0M79 347.1h0M133.7 343.5h0M87.6 322.4h0M139.1 348.6h0M102.9 340.6h0M89.1 357.7h0M57.8 340.2h0M100.1 363h0M93.2 335h0M93.7 390.8h0M98.5 386.5h0M88.9 382.6h0" stroke="#642daf" stroke-width="1.78" stroke-linecap="round" fill="none"/>
<path d="M183.2 324.7h0M175.4 366.7h0M165.6 284.9h0M163.8 369.9h0M172 332.2h0M147.5 345.4h0M169.7 297.8h0M155.6 291.6h0M162.9 322.7h0M159.6 285.9h0M191.2 304.3h0M144.2 282h0M155.4 314.9h0M136.5 310.5h0M150.5 318.7h0M156.6 308h0M177 344.4h0M182.1 312.3h0M150.4 303.2h0M157.9 310.6h0M144.5 296.3h0M176.8 295.8h0M186.9 340.3h0M145 347h0M172.5 366.9h0M157.3 282.5h0M174 339.2h0M159.1 343h0M174.1 337.8h0M148.1 332.6h0M167.8 285.3h0M155.2 300.9h0M174 344.4h0M158.6 309.7h0M169.9 345h0M158.3 346.8h0M164.5 346.5h0M137.7 288.9h0M151.4 354.7h0M157.5 297.9h0M174.1 300.2h0M178.8 333.4h0M140.9 284.8h0M186.8 322.5h0M177.3 281.3h0M142.5 312.2h0M148.9 280.7h0M154.4 342.7h0M157 339.3h0M164.4 325.2h0M165.6 367.3h0M158.1 287.6h0M145.5 313.8h0M154.1 353.3h0M192.8 328.4h0M151.6 307h0M145 299.5h0M174.5 290h0M179.4 280.2h0M173.6 326.1h0M147.9 355.1h0M158.4 304.2h0M175.5 346.2h0M151.6 341.6h0M144.7 308.8h0M171.1 284.9h0M176.6 307.7h0M136.6 312.5h0M155.3 343.9h0M166.5 298.6h0M185.5 300.2h0M159.9 318.8h0M158.4 318.2h0M155.2 344h0M184.5 303.8h0M169.5 277.5h0M176.9 319.9h0M165.5 341.8h0M164.1 315.7h0M144.9 330.9h0M165.4 371.9h0M183 356.7h0M175.5 296.8h0M145.7 278h0M155.1 302h0M164.9 317.5h0M146.1 349h0M147.9 276h0M163.5 334.1h0M167 277h0M182.2 326.3h0M188.1 291.7h0M163.8 326.9h0M187.2 315h0M159.8 330.6h0M172.1 319.4h0M148 295.2h0M145.4 294.1h0M180.5 311.6h0M164.2 317.3h0M147.1 349.8h0M168.7 287.1h0M163.2 345.2h0M177 364h0M177.1 330.6h0M146.4 307.8h0M147.1 288.9h0M166.7 294.3h0M172.6 321.6h0M142.5 281.3h0M173 280.8h0M178.1 293.9h0M141.6 288.9h0M160 332.2h0M177.3 328.2h0M151 366.1h0M156.4 297.9h0M160.6 381.3h0M160 322.9h0M177.4 299.3h0M156.4 305.6h0M146.3 295.5h0M150 339.3h0M160 316.4h0M141.2 324.7h0M190.7 303.2h0M153.2 310.7h0M154.9 300.8h0M164.9 306.1h0M149 347.9h0M155.1 285.1h0M175.2 345.6h0M176 289.3h0M157.7 319.8h0M142.6 318.5h0M185.6 291.3h0M162.6 327.4h0M170.7 285h0M151.6 301.1h0M146.2 298.8h0M138.6 305.2h0M188.4 342.7h0M172.6 346.4h0M171.9 349h0M182.5 336.5h0M181.3 318.8h0M160.3 321.5h0M184.1 299.7h0M159.9 302.5h0M145.5 284.2h0M178.1 310h0M175.6 290.3h0M188.2 329.1h0M164.3 327.8h0M165.7 294.1h0M169.9 314.3h0M149.7 295.6h0M157.7 383.2h0M149.1 326.8h0M153.1 336.4h0M143.6 294.1h0M164 276.3h0M155.3 384.3h0M165.9 282h0M194 324.4h0M148.4 323.6h0M159.5 314.9h0M178.3 323.3h0M147.8 330.9h0M170.7 339.7h0M152.6 295.8h0M146.7 320.9h0M144.9 334.3h0M162.4 372.8h0M166.9 299.8h0M153.7 381.7h0M150 316.5h0M171.6 311.1h0M144.2 313.8h0M175 297.7h0M152.5 295.6h0M154.4 291h0M144.6 344.3h0M162.7 315.1h0M152.4 312.1h0M160.4 329.9h0M170.1 337.4h0M173.7 329.3h0M161.5 331.1h0M152.3 301.2h0M147.6 311.6h0M187.8 326.2h0M158.8 328.6h0M174.4 330.9h0M155.3 328.5h0M157.1 279.7h0M145.1 288.4h0M152.2 319.8h0M158.9 352.8h0M160.8 332h0M150.1 307.2h0M157.1 320.1h0M170.7 291.2h0M169.5 340.1h0M159.6 275.5h0M146.2 346.2h0M140.2 304.6h0M149.3 327.8h0M173.9 278.6h0M153.2 325.5h0M138.9 308.7h0M164.1 292.1h0M168.5 279.2h0M169.9 304.4h0M175.8 326.9h0M183.9 319.1h0M181.8 280.1h0M174.9 307.2h0M143.1 341.8h0M166 338.7h0M143.7 308.3h0M169.7 286h0M144.6 280.7h0M168.4 347.6h0M174.3 313.2h0M152.3 367.4h0M154.9 350.8h0M171.1 284h0M157.2 307.1h0M149.8 330.3h0M139.7 300.4h0M149.3 319.1h0M173.4 300.6h0M157.3 329h0M168.7 309.7h0M149.6 317.7h0M139.2 286.7h0M170.8 323.1h0M174.1 336.7h0M139.6 296.7h0M163.6 323.7h0M166.8 278.5h0M173.3 337.1h0M155.5 302.9h0M185.8 303.4h0M162.7 317.4h0M156.9 310.2h0M175.9 312.8h0M184.9 343.3h0M162.8 336.3h0M149.3 315.6h0M144.4 320.1h0M160.2 318.6h0M184.4 344.3h0M168.4 298.4h0M167.5 299.7h0M166.1 273.5h0M154.3 297.1h0M148.2 301.3h0M155.7 327.1h0M182.4 310.6h0M144.5 340h0M138 299.1h0M156.9 343.6h0M158.3 316.6h0M169.3 312.9h0M152.9 364.4h0M149.4 316.7h0M152.9 348.4h0M174.3 285.7h0M152.4 326h0M179.2 314.6h0M160.7 293.9h0M148.4 305.1h0M147.4 292.1h0M154.7 300.5h0M171.5 292.5h0M142.4 302.5h0M165.4 291h0M151.7 364.2h0M161.4 323h0M161.3 280.2h0M184.7 310.3h0M175.9 343.6h0M151.9 365.6h0M170.4 311.7h0M185 284.6h0M160.7 336.4h0M167.3 283.1h0M153.8 288.9h0M157.6 280.5h0M173.5 314.3h0M148.8 331.4h0M161.7 305.6h0M155.7 310.3h0M147.3 311.7h0M163.8 278h0M148.9 282h0M150.6 335.6h0M153 307.7h0M165.9 341.1h0M188.1 307.8h0M148.6 312.3h0M171.5 288.4h0M151.1 317.5h0M167.7 342.8h0M142.9 326.6h0M161.7 342.7h0M170.6 319.7h0M191.3 299.9h0M156.6 297.6h0M189.6 331.4h0M165.8 312h0M167.5 342.2h0M172.3 323.8h0M171.3 321h0M142.9 329.2h0M182.5 330.7h0M155.7 298.1h0M158.6 290.7h0M144.3 296h0M137.9 291.5h0M190.1 338.2h0M148.8 340.8h0M173.3 326.1h0M150.4 319.9h0M172.9 283.1h0M147.4 349h0M145.5 361.5h0M163.1 309.8h0M145.2 307.5h0M147.2 320.9h0M158 303.1h0M188.4 315h0M148.1 332.6h0M165.9 322.6h0M186.3 291h0M151.2 343.7h0M147.8 338.2h0M184.4 326.5h0M189.6 311.7h0M153.5 313.6h0M180.5 315.7h0M192.5 339.5h0M182.6 292.2h0M138.4 311h0M160.1 323.6h0M144.5 340h0M162.9 317.1h0M173.3 289.9h0M157.2 322.6h0M184.8 320.6h0M144.5 291.2h0M188.3 330h0M147.8 334.3h0M191.3 333.9h0M166.3 273.9h0M172.9 337.4h0M162.1 352.3h0M161.3 318.3h0M191.8 340.2h0M160 342.5h0M157.3 352.5h0M167.3 331.3h0M141.6 304.5h0M145.1 322.8h0M160.3 278.6h0M181.4 315.4h0M169.8 332.7h0M167.6 346.8h0M184.6 297.3h0M141.8 347.2h0M173.3 293.4h0M161.6 294.4h0M178.9 356h0M154.9 335.8h0M151.5 279.4h0M157.9 333.4h0M153.4 317.6h0M177.1 301.2h0M177.4 310.4h0M156.8 277h0M192.6 340.5h0M153.5 311.1h0M155.6 277.7h0M158.9 316.1h0M149.2 327.7h0M150 300.4h0M139.7 299.3h0M166.5 315.8h0M151.9 344.6h0M172.1 306.5h0M165.3 379.2h0M161.4 302.7h0M147.7 337.3h0M160.2 280.6h0M162.3 344.5h0M172.9 332h0M147.4 280.4h0M166.4 291.9h0M147.7 369.9h0M152.6 336.3h0M144.3 286.7h0M177 290.2h0M170.6 353.6h0M191.8 339.8h0M153.8 316.9h0M171.2 347.9h0M146.5 279.2h0M173 317h0M168.7 298.1h0M164.6 382.8h0M176.5 291.2h0M171.7 277.4h0M167.3 336.5h0M182.7 291.5h0M142.3 304.7h0M169.7 325.5h0M172.1 333.6h0M143.8 325.7h0M186.7 304.6h0M159.5 311.2h0M147.6 336.8h0M157.3 279.3h0M170.6 329.5h0M172.6 326.7h0M171.4 291.1h0M167.7 286.3h0M146.9 282.1h0M157.7 315.7h0M156.5 302.8h0M178.3 298.5h0M184.6 296.5h0M164 279.2h0M149.9 292.2h0M172.9 296.4h0M180 365.3h0M172.1 320.5h0M179.4 319.1h0M146.6 310.3h0M150.1 303.6h0M155 339.5h0M172.8 280.5h0M150.1 301.8h0M180.8 340h0M156.4 328.1h0M150.1 373.3h0M163 344.4h0M146.1 312h0M146.9 303h0M158 341.1h0M158 285.7h0M163.7 333.8h0M169.5 293.8h0M163.1 351h0M155 325.7h0M167.3 301.3h0M163.4 287.7h0M169.8 295.5h0M170 310.2h0M148.1 338.3h0M143.3 289.1h0M160 287.5h0M153.1 293.4h0M159.6 299.9h0M163.4 365.7h0M147 276.6h0M165.7 305.3h0M157.4 374.7h0M145.5 319.3h0M174.3 350.9h0M148.5 308.7h0M171.4 285.3h0M171.4 320h0M164 281.1h0M192.2 318.6h0M156.4 336.5h0M154.4 289.5h0M168.9 293.3h0M144.9 308.8h0M159.5 348.8h0M172 304.7h0M175.4 353.8h0M158.2 364h0M135.8 314.5h0M157.4 336.1h0M173.1 319.6h0M155.4 343.5h0M179.6 323.2h0M158.1 320.9h0M151.5 354.6h0M185.9 293.7h0M163.4 307.5h0M158.7 302.7h0M173.4 357.7h0M165.2 273.6h0M152.8 305.8h0M184.1 314.1h0M163.9 298.5h0M137.4 307.1h0M148.7 327.7h0M159.5 312.7h0M150 312.2h0M177.6 288.3h0M142 296.7h0M165.8 291.4h0M159.1 326.8h0M147.6 326.6h0M160.4 340.9h0M145.9 288.9h0M174.7 330.7h0M170.1 289.6h0M194.5 319.5h0M155.5 352h0M144.6 319.3h0M168.7 373.2h0M173.2 292.3h0M176.4 323.1h0M157.1 285.4h0M190 317.6h0M174.8 305h0M149.7 290.2h0M147.6 300.3h0M143.4 333.7h0M136.3 295.6h0M149.6 343h0M160.8 277.3h0M162 307.9h0M166.1 298.9h0M174.9 347.1h0M157.2 291.9h0M152.2 326.5h0M154.4 309.6h0M168.3 281h0M183.4 302.6h0M140.9 303.4h0M144.3 353.8h0M145.3 302.1h0M156.4 370.6h0M175.6 284.3h0M154 282.2h0M168.7 331.4h0M178.6 329.4h0M142.4 327h0M181.3 315.3h0M186.1 313.4h0M141 318h0M190.7 331.9h0M152.3 370.2h0M191.7 304.9h0M152 319.7h0M148.4 281.8h0M173 333.3h0M153.5 344.1h0M159.2 358.7h0M168 332.5h0M173.1 326.6h0M140.6 312.3h0M140 319.4h0M165.3 330.5h0M163 279.4h0M166.2 349h0M165.5 324h0M171.6 304.8h0M150.2 305.7h0M189.8 327.7h0M167.2 309.7h0M175.3 347h0M163.1 343.8h0M146.1 323.9h0M161.1 326.6h0M157.4 287.7h0M192.3 320.5h0M173.9 316.9h0M165.5 315.9h0M153 340.1h0M158.5 280.9h0M179.2 285.9h0M150.6 336.7h0M147.4 319.2h0M157.5 307h0M149.1 334.7h0M147.1 309.5h0M136.9 306.7h0M178.8 309.5h0M147.2 337h0M145.5 313.1h0M168.2 327.3h0M135.6 300.1h0M182.4 302.9h0M167 302.9h0M157.8 315.5h0M138.4 291.1h0M160.5 292.2h0M147.8 289.9h0M144.4 318.8h0M153.2 289.5h0M179.9 345.2h0M168.9 341.3h0M173.3 327.1h0M140 313.6h0M148.1 330.5h0M151.2 276.3h0M165.8 309.5h0M159.2 296.2h0M183.1 297.7h0M167.1 373.9h0M155.2 317.4h0M145.7 320.1h0M156.3 351.2h0M170 299.6h0M141 324.3h0M175.3 320.9h0M163 330h0M150.1 318.2h0M153.4 281.9h0M187.1 349.9h0M157.8 308.9h0M185.4 314.1h0M186.9 293.5h0M173.7 362.5h0M143.4 342.9h0M142.5 298.2h0M166.3 328.9h0M182.6 334h0M150.3 347.5h0M161.3 317.7h0M141.7 288.1h0M148.9 358.7h0M170.7 340.2h0M161.9 377.7h0M154.9 301.1h0M162.7 303.5h0M169.9 324.7h0M155 309.4h0M166.5 361.8h0M161.9 329.9h0M181.7 307.1h0M167.6 293.2h0M155.5 281.9h0M178.5 343.1h0M183.3 323.1h0M144.7 329.2h0M141.3 290.6h0M149.2 289.8h0M148.9 314.2h0M163.5 360.7h0M168.1 307.1h0M144.1 347.5h0M172.1 281.6h0M190.2 303.4h0M170.6 300.3h0M163.1 296.6h0M168.6 317.8h0M162 319.6h0M141.1 315.2h0M153.3 317.7h0M149.6 296.1h0M161.9 348.6h0M149.7 308h0M165.8 282.4h0M149.5 378.5h0M145.4 326.7h0M174.8 278.8h0M180.4 312.2h0M142 313.7h0M146.6 337.6h0M136.2 310.1h0M152.7 323.8h0M153.3 332.7h0M162.5 343.8h0M179.5 297.2h0M147.8 316.9h0M149.6 291.5h0M149 309.3h0M163.8 315.3h0M174 296.6h0M163.5 277.5h0M160.4 362.4h0M142.4 296.2h0M175.8 326.6h0M167.8 302.1h0M194.4 330.4h0M164.8 313.8h0M166.6 359.9h0M166.4 334h0M169.5 289.4h0M158.2 328.6h0M145.1 308.1h0M151.1 315.5h0M136.1 299.8h0M145.8 298.9h0M149.8 301.5h0M163.8 342.7h0M163.6 315.7h0M188.6 334.1h0M157.5 315.5h0M157.7 287.9h0M171.7 321.9h0M146.3 290.8h0M172.1 326.1h0M183.7 306h0M157.9 294.6h0M158 330.7h0M155.7 341.2h0M181.4 292.7h0M138.2 297.9h0M182.1 296.7h0M140.5 335.5h0M170 285h0M147.2 304.6h0M160.8 318h0M146.7 283.6h0M143.7 317.8h0M145.8 306h0M175 342.3h0M152.3 342.9h0M150.3 341.6h0M159.7 293.9h0M154.3 346.9h0M170.9 281.1h0M157.9 316.1h0M166.6 352.9h0M159.3 297.1h0M150.2 325.2h0M165.5 286.4h0M156.3 313.6h0M158.1 334.2h0M180.4 347.7h0M165.1 323.5h0M165.3 282.6h0M193.3 328.1h0M167.3 352.4h0M159.8 325.3h0M156.6 368.4h0M145.8 291.7h0M142.9 283h0M159.7 344.4h0M166 301.3h0M148.6 307.8h0M160.9 342.3h0M142.2 287h0M175.3 341.9h0M162.8 305.7h0M169 284.7h0M185.1 307.6h0M149.7 280.9h0M144.2 338.2h0M184.5 288.1h0M152.2 278.5h0M158.9 328.4h0M149 328.2h0M155.5 323.8h0M169 338.9h0M155.9 284h0M148.9 336.8h0M135 308.4h0M149.5 325.1h0M142.2 307.2h0M142.1 308.1h0M165.2 287.1h0M164.3 323.6h0M154.4 289.4h0M161.7 300.8h0M162.7 366.8h0M178.8 320.1h0M169.5 301.9h0M156.2 332.5h0M151.4 282.9h0M154.2 318.2h0M162.2 372h0M156.9 312.2h0M176.9 330.5h0M162.3 327.1h0M146.6 349.2h0M153 351.8h0M150.5 304.9h0M143 312h0M154.3 354.2h0M154.3 333.3h0M170.6 284.8h0M144.4 321.2h0M162.1 306h0M184.1 283.5h0M185.5 334.5h0M179.2 293.3h0M147.2 354.1h0M189.5 332.7h0M181.4 320.5h0M161.3 291.6h0M165.7 330.6h0M181 315.3h0M177.9 335.1h0M143.7 308.7h0M159.7 305.6h0M174.1 316.7h0M144.1 335.3h0M167.1 281.8h0M151.4 281.2h0M159.6 321.2h0M176.4 281.3h0M155.4 317.2h0M184.2 323.8h0M159.2 302.6h0M164.6 352.4h0M179.6 338.5h0M170.2 291.6h0" stroke="#0a7f76" stroke-width="1.78" stroke-linecap="round" fill="none"/>
<path d="M102.3 277.8h0M114.9 275.9h0M92.1 286.5h0M113.8 270.5h0M105.9 277.8h0M135.5 268.3h0M101 283.2h0M128.2 278.7h0M94.4 297.2h0M125.6 286.6h0M101.7 277.8h0M88.9 302.8h0M91.1 302.7h0M106.7 275.5h0M121.5 290.7h0M118.3 283.7h0M63.6 291.5h0M112.8 281.4h0M126.8 273.3h0M89.9 298.7h0M87.9 294.4h0M129.5 272h0M92.1 289h0M137.6 279.6h0M130.1 274.3h0M104.4 269.8h0M133.3 278.1h0M86.7 303.8h0M136.6 286.5h0M95.9 293.9h0M133.8 279.8h0M126.2 281h0M108.3 295.2h0M100.2 294.1h0M86.8 280.3h0M94.1 291.3h0M90.2 294.1h0M76.3 299.6h0M100.9 296.5h0M102.8 279.7h0M59.3 284.2h0M97.6 299.2h0M98.7 289.8h0M119.7 288.9h0M106.3 285.8h0M109.9 277.8h0M105.2 293.6h0M82.3 282.7h0M133.4 271.1h0M114.5 276.5h0M118.1 286.9h0M105.2 283.5h0M79.7 286.3h0M136 274.1h0M120.7 277.8h0M75.8 282.5h0M137 276.6h0M90.8 298.2h0M83.4 290.2h0M97.3 281.1h0M138.2 284.1h0M135.1 285.1h0M102.3 282.1h0M139.5 272.1h0M88.4 302.7h0M63.9 282h0M129.6 266.9h0M118.4 277.6h0M99.3 277.9h0M60.5 288h0M122.4 297.1h0M93.9 283h0M116.9 297.5h0M105.7 290.2h0M107.4 298h0M135.6 287.2h0M141 272.3h0M126.1 285.7h0M99.8 298.3h0M66.1 285.7h0M77.7 280h0M127 281.3h0M124.8 266h0M115.2 274.1h0M115.4 274.6h0M71 298.1h0M76.9 299.7h0M140.4 274.9h0M106.3 278.1h0M109.1 269.4h0M128.6 293.3h0M100.2 294h0M109.2 274h0M106.6 276.5h0M84.4 290.5h0M107.8 269.3h0M117 288.6h0M101.5 295.3h0M145.3 279h0M81.8 287h0M136.8 284.4h0M102.7 280.9h0M121 295.6h0M134.2 283.7h0M134.9 273.3h0M74 292.4h0M94.8 287.2h0M125.3 288h0M103.8 275.8h0M112.8 290.3h0M143.5 275.5h0M85.9 285.8h0M137.8 270.6h0M84.7 286.3h0M92.2 275h0M102 272.1h0M130.4 282.5h0M125.7 280.6h0M107.7 287.9h0M134.4 279.3h0M96.2 272.9h0M82.4 294.4h0M87.8 279.3h0M75.5 287.7h0M109.9 289h0M120.4 285.5h0M94 299.6h0M129.9 286.2h0M113.7 270.2h0M134.7 272.3h0M131.5 277.5h0M102.2 296.3h0M132.3 281.6h0M126.4 282.1h0M138.9 282.1h0M128.9 271.8h0M92 281.5h0M77.6 283h0M118.8 288.8h0M118.3 283.5h0M98.4 273.4h0M132 280.9h0M110.7 283.7h0M139.8 285.4h0M97.6 283.7h0M77.4 298.8h0M135.5 272.8h0M122.1 281h0M99.5 294.2h0M96.8 284.8h0M99.6 283.2h0M86.6 292.9h0M97.8 299.7h0M105.1 295.6h0M116.9 270.6h0M109.4 276.9h0M85.5 283.8h0M61 296.9h0M112 276.6h0M128.1 288.1h0M130.4 269.4h0M126.6 275.6h0M107.6 290.2h0M98.7 290.6h0M114.8 274.7h0M129.3 283.8h0M100.2 272.4h0M118.4 283.2h0M107.9 294.2h0M115.1 286.2h0M64 289.4h0M86.3 300.4h0M101.5 297h0M68.8 301.1h0M67.1 295.3h0M82.1 288.9h0M72.9 283.8h0M137.4 290.8h0M98.7 295.2h0M142.2 279.2h0M122.1 293.7h0M87.7 298.7h0M99 287h0M111.1 279.9h0M110.6 296.7h0M85.7 282.2h0M62.3 301.4h0M121.5 288.8h0M129.4 273.8h0M88.4 287.4h0M132.7 287.5h0M136.9 275.5h0M127.4 268.3h0M130.3 293.5h0M97.8 285.4h0M74.3 302.4h0M124.4 290.5h0M101.1 289.7h0M111.2 288.6h0M97.1 276.8h0M141.6 277.7h0M96 284.9h0M95.7 283.8h0M133.3 281.1h0M88.9 281.9h0M93.6 283.5h0M124.5 283.8h0M120.8 269.4h0M120.9 297.6h0M112.7 272.6h0M126.6 291.6h0M143 279.5h0M115.4 271h0M82.2 289.3h0M73.3 283.1h0M101.6 298.2h0M113.8 294.1h0M137.8 273.2h0M62.2 289h0M82.2 283h0M97.3 297.7h0M97 286.6h0M137.1 283.1h0M71.8 288.8h0M93.6 295.2h0M136.6 287.4h0M69.1 290.5h0M70.8 291.7h0M102.6 288.5h0M140.3 272.7h0M103.2 282.9h0M119.8 277.2h0M114.8 273.3h0M134 282.1h0M97.6 273.2h0M96.9 277.9h0M125.5 273.8h0M103.2 284h0M107.4 273h0M63.6 290.6h0M139.5 268h0M92.8 283.9h0M56.9 290.1h0M96 284.8h0M129.4 289.4h0M66.3 291.2h0M92.8 286.1h0M127.4 287.8h0M113.2 284.7h0M121 275h0M126.9 280h0M144.1 275.2h0M132.3 275.9h0M106.3 290.5h0M109.5 297.1h0M125.9 276.9h0M130.8 287h0M82.4 282.4h0M107.5 296.9h0M116.5 292.7h0M121.3 289.5h0M137.4 269.9h0M131.5 283.3h0M74.6 287.2h0M104 288.9h0M103.8 292.8h0M95.4 300h0M60.3 288.3h0M126.1 275.4h0M127.4 278.6h0M128.3 285h0M71.9 292.9h0M104.8 294.7h0M115.5 298.8h0M134.5 269.9h0M62.4 292.2h0M105.9 292.2h0M143.6 278.2h0M130.4 291.2h0M122.6 276.3h0M136.9 278.5h0M122.9 295h0M88.6 292.1h0M136.7 275.2h0M80.6 282.5h0M115.7 288.1h0M136.8 273.7h0M116.2 282.6h0M139.1 276.1h0M96 291.7h0M126.8 278.7h0M109.2 292.2h0M102.5 299.3h0M124.5 270.7h0M131.8 284.1h0M92.6 298.5h0M125.7 286.6h0M124.6 292.7h0M124.9 277.6h0M96.6 298.2h0M112.8 285h0M132.2 283.6h0M87.9 303.1h0M102.4 278.2h0M104.5 273.6h0M114.4 290.8h0M79.4 281.4h0M134.7 278.4h0M141.7 270.9h0M129.2 271.8h0M98.4 296.1h0M84.5 287.7h0M122 280.6h0M99.6 287.9h0M87.2 279.2h0M136.9 274.2h0M97.1 285.6h0M120.4 268.8h0M100.3 275.5h0M136.2 281h0M124.8 274.7h0M136.8 288h0M137 284.7h0M86.5 297.9h0M130.4 280.5h0M113.3 273.8h0M90.8 289.9h0M87.7 286.8h0M91.3 285.2h0M132.2 282.3h0M63.6 292.4h0M124.9 290.7h0M80.5 293.9h0M75.2 297h0M138.3 278.5h0M108.1 282.8h0M123.5 271h0M128.4 282h0M92 281.6h0M123.8 277.7h0M96.5 287.9h0M108.2 292.5h0M87.1 292h0M130.3 278.8h0M136.4 283.9h0M110.8 285.5h0M130.2 274h0M96.9 292.1h0M93.6 288.3h0M105.8 270.6h0M59.9 287.1h0M110.8 288.4h0M135.1 281.8h0M105.7 292h0M105.8 284.2h0M93.7 295.9h0M80.1 290.7h0M93.2 275.1h0M67.4 295.5h0M95.1 282h0M86.4 288.9h0M112 296.1h0M133 290.4h0M100.8 289.1h0M101.4 282.1h0M101.3 298h0M88.8 295.8h0M123.1 293.5h0M93.4 298.7h0M118.9 281.1h0M119.8 275.4h0M87.9 296.6h0M92.4 286h0M69.6 294.3h0M119.4 283.7h0M93.6 287.8h0M101 270.8h0M113.6 276.2h0M138.6 287.2h0M100.9 285.4h0M87.9 292.6h0M96.8 289.2h0M120.6 291.9h0M71.1 301.6h0M86.5 289h0M113.2 275.8h0M126.9 287.6h0M105.1 291.1h0M92.9 302h0M141.3 277.5h0M74.9 294.9h0M101.1 284.2h0M101.9 278.3h0M122 277.6h0M90.2 284h0M100.7 297.6h0M125.2 284h0M120.8 281.7h0M115 290.8h0M105.1 278.1h0M136.7 287.7h0M123 273h0M140.2 271.9h0M65 295.5h0M108.2 289h0M129.1 279.8h0M140.4 284h0M114.9 298.3h0M57.6 286.9h0M117.3 280.6h0M109.5 296.1h0M123.9 295.3h0M126.5 282.8h0M122.6 285.1h0M111.9 288.1h0M114.3 283.9h0M119.1 270.6h0M127.4 293.3h0M114.2 285.6h0M136.1 271.9h0M71.3 285.7h0M135.7 268.3h0M123.4 290.3h0M63.8 287.8h0M64.1 288.4h0M77 281.1h0M143.9 280.6h0M96.9 294.2h0M124.1 293.8h0M72.5 286.1h0M82.5 284.6h0M73.5 290.6h0M115.9 297.8h0M101.9 286.5h0M135.1 274.4h0M106.9 274.6h0M92 284.1h0M62 300.7h0M111 281.1h0M91.4 299.1h0M108.5 279.6h0M104.2 293.9h0M93 280.3h0M75 286h0M131.7 269.4h0M103.9 288.3h0M103.3 282.9h0M121.2 289.7h0M89.5 290.4h0M109.4 277.7h0M103.2 279h0M132.7 280.3h0M79.5 295.5h0M79 303.3h0M131.1 278.8h0M116.1 269.9h0M145.5 279.2h0M125.4 277.2h0M104.9 279.7h0M59.3 290.7h0M59.1 287.3h0M126.1 273h0M118.3 289h0M89 287.3h0M101 285.1h0M119.6 285.2h0M110.5 289.5h0M72.5 289.8h0M130.6 285.4h0M135.9 279.2h0M97.8 287.1h0M117 280.5h0M74.4 291.4h0M121.3 283.6h0M113.1 295.8h0M57.8 296.8h0M99.5 292.6h0M120.9 279.4h0M111.8 279.6h0M67.4 298.7h0M127.5 289.4h0M126 291h0M97.4 278.1h0M97.3 284.1h0M75.1 298.6h0M134.9 277.6h0M88 287h0M109.3 279.7h0M125.2 295.2h0M97.6 297.3h0M82.8 300.2h0M117.3 286.2h0M133.5 271.7h0M138.5 282.6h0M102 292.7h0M120.9 292.9h0M95.5 287.5h0M131.1 272.6h0M74 295.1h0M108.8 286.1h0M120.2 292.9h0M105.9 276.1h0M116.8 268.7h0M111.8 281.7h0M122.8 288.2h0M102 286.3h0M125 274.7h0M115 282.9h0M138.3 269.2h0M80.8 296.9h0M77.7 297.2h0M99 293.4h0M120.3 278.5h0M116.5 286.9h0M101.6 281.7h0M95 282h0M113.8 286.2h0M107.3 274.9h0M116.5 285.6h0M75.3 293.5h0M94.8 289.1h0M72.7 300.2h0M107.9 271.4h0M105.9 289.3h0M90.7 301h0M87.7 280.9h0M94 294.8h0M126 277.5h0M98.5 270.3h0M102.9 286.2h0M122.2 271.4h0M107.2 279.8h0M105.2 279.1h0M79.3 292.9h0M94.5 289.3h0M125.9 271.3h0M129.4 274.1h0M97.6 283.9h0M102.3 272.3h0M83.7 293.8h0M118.8 276.1h0M104.7 290.6h0M121.7 277.3h0M117.1 291.8h0M108 275.4h0M122.2 276.6h0M97.1 294.9h0M104.6 298.2h0M61.8 289.9h0M129.6 277.2h0M80.2 288.8h0M113 294.4h0M89.4 281.4h0M138.9 284.3h0M82.1 278.7h0M127.7 292.9h0M132.9 270.1h0M92 287.8h0M100.7 271.7h0M86.8 295.5h0M121.4 296.3h0M95.1 276.8h0M119.7 285h0M70.5 285.6h0M126.8 289.1h0M98.9 278.9h0M124.5 290h0M121.1 285.9h0M103.1 296.7h0M122 274h0M114.5 290.2h0M71.3 293.5h0M135.6 282.9h0M133.6 279.5h0M123.6 293.5h0M85.4 278.1h0M119.9 288.9h0M103.3 293.7h0M84.5 287.3h0M103.4 276.9h0M138.3 283.1h0M111.2 280.6h0M105.3 277.7h0M107.6 270h0M109.9 284.4h0M111.1 288h0M110.3 283.9h0M133.6 290.4h0M88.4 276.1h0M131.4 276h0M117.7 272.4h0M125.9 267.1h0M136.3 274.6h0M73.3 301.4h0M140.2 272.2h0M95.4 285.1h0M108 300h0M96.3 284.4h0M110.7 269.8h0M70.8 283.8h0M66.4 296.3h0M123.4 293.9h0M107.9 272h0M119.4 273.1h0M85.9 288.1h0M101.2 292.9h0M107.6 276.9h0M101.1 289.6h0M100.6 295.3h0M75.9 299.1h0M143.9 280.6h0M130.7 276.5h0M119.7 278.8h0M141.7 272.3h0M76.1 295.8h0M120.7 274.9h0M108.3 286.7h0M121.3 276.7h0M57.4 292.6h0M98 275.4h0M89 303.2h0M116 299.1h0M69.8 287.8h0M125.6 285.2h0M120.4 293.5h0M78.9 287.2h0M109.9 269h0M109 276.5h0M112.5 283.6h0M104.5 297.2h0M122.2 288.5h0M77.7 301.4h0M121.5 283.7h0M118.4 268.1h0M60 284.9h0M97 284.4h0M139.5 272.8h0M121.2 291.3h0M110.7 275.6h0M131 290.7h0M97.5 290.7h0M136.9 281.1h0M121.5 285.1h0M129 273.3h0M115.9 296.1h0M103.2 271.7h0M72.9 288.8h0M96.3 293.9h0M70.6 284h0M103.3 288.8h0M113.4 294.1h0M102.4 279.4h0M114.6 278.9h0M80.4 290.2h0M105.7 282.8h0M89.4 297.9h0M110.5 282.4h0M98 282.1h0M113.6 290.4h0M98.3 301.4h0M89.5 295.2h0M68 298.3h0M111.9 270h0M107.6 292.9h0M105.3 289.5h0M88.5 283.2h0M110.9 290.4h0M85.1 293.4h0M68.2 294.2h0M70.6 299.5h0M97.1 281.5h0M129.2 292.6h0M110.8 269.9h0M111.4 275.1h0M76 299.8h0M133 289.8h0M66.9 293.2h0M115.6 277h0M122.7 280.3h0M113 278.5h0M125.2 290.3h0M105.9 274.2h0M121.8 286.8h0M128.2 289.9h0M91.3 289.4h0M97.1 278.2h0M120.5 291h0M108.1 295.3h0M114.9 289.1h0M137.4 276.4h0M143.5 281.4h0M61.6 288.4h0M118.3 298.9h0M75.4 299.8h0M88.8 279.8h0M76.6 280.9h0M95.1 291.5h0M65.5 295h0M107.7 291.6h0M128.9 281.2h0M107.4 276.4h0M132.8 267.7h0M137.9 273.1h0M114.7 275.2h0M97.9 291.3h0M134.6 287.1h0M69 302.4h0M138 283h0M97.7 280h0M136.5 286.6h0M129 279.1h0M103.9 289.5h0M126.1 279.6h0M95.7 284.6h0M113.3 271h0M101.5 283.2h0M141.6 282.1h0M105 285h0M139.7 273h0M95 287.2h0M81.8 281.7h0M79.3 303.2h0M93.8 272.6h0M103 299.1h0M127 278.1h0M108.8 282.8h0M101.3 301.3h0M64.6 293.4h0M132.2 286.9h0M132.9 286.1h0M119.6 266.3h0M106 282.7h0M103.9 293.4h0M93.6 284.2h0M98.9 273.3h0M92 302.4h0M138.7 275.8h0M113.6 275.2h0M100.9 295h0M135.7 286.1h0M141.9 273.5h0M101.4 290.4h0M89.4 288.3h0M119.1 295.9h0M85.4 282.7h0M96.9 290.2h0M99.9 274.4h0M108.2 290.5h0M100.1 301.3h0M86.6 283.8h0M109.5 289h0M77.1 280h0M122.1 268.4h0M117.3 296.7h0M95.5 274.4h0M105.7 282.2h0M128.3 270.9h0M131.3 266.9h0M89.1 275.7h0M128.7 268.7h0M124 295.3h0M117.4 286.8h0M138.2 287.3h0M124.3 284.2h0M64.6 302.3h0M110.1 288.8h0M125.4 280.2h0M123.5 293.8h0M123.9 284.2h0M103.7 296.3h0M77.6 279.5h0M99.9 283.7h0M93.8 274.6h0M67 289h0M141.2 277.9h0M110.2 296.9h0M111.7 270.9h0M60.3 291.9h0M83.4 286.7h0M101.6 291.7h0M101.9 278.9h0M102.2 297.3h0M59.1 287.6h0M103.4 271.6h0M112.8 286.8h0M110 288h0M83.9 285.4h0M115.7 293.2h0M137.8 287.6h0M130.7 282h0M113.9 277.5h0M114 280h0M139 279.7h0M100.6 277.5h0M123.7 271.6h0M133.3 284.8h0M103.3 301.3h0M77 285.2h0M83.4 295.3h0M107.2 295.4h0M61.6 301.9h0M61.8 288.4h0M107.3 271h0M119.1 275.7h0M102.1 293h0M130.7 279.3h0M87.9 278.9h0M104.9 278.7h0M112 284.3h0M124 286.2h0M124.3 267.8h0M86.6 295.9h0M101.6 278.1h0M102.5 277.3h0M102.5 276.6h0M136.3 276.1h0M110.3 281.4h0M74.6 288.3h0M83.1 304.2h0M107.6 275h0M104 283h0M111.7 274.6h0M124.6 282.3h0M98.8 273.5h0M97.2 275.2h0M117.6 282.3h0M132.8 272.3h0M117.4 269.2h0M109.8 278.5h0M61.4 289.2h0M111.6 282.8h0M64.3 287.8h0M90 283.6h0M137.2 275.9h0M70.8 286.7h0M119.3 282.9h0M100.5 287.8h0M130.8 281.4h0M104.8 287.6h0M138.7 280.1h0M97.5 286h0M97.6 281.1h0M92.1 291.9h0M57.7 290.1h0M106.1 293.3h0M87.7 275.6h0M118.2 269.9h0M83.9 299.8h0M125.2 271.4h0M119.4 269.6h0M101.9 272.6h0M106.1 268.8h0M84.6 288.8h0M124.4 289.5h0M116.9 289.8h0M99.9 275.6h0M122.7 281.7h0M119 270.9h0M98.9 300.7h0M85.2 303.2h0M130.7 285.9h0M104.5 283.7h0M93.3 273.3h0M105.9 299.8h0M117.3 277.4h0M105.3 298.5h0M126.4 288.1h0M95.3 276h0M134.4 282.6h0M128.6 276.8h0M121.7 295.2h0M133.6 281.4h0M124 272.8h0M102.6 300.1h0M102.7 293.5h0M104.5 291.9h0M81.2 280.3h0M140.4 274.6h0M106.6 269h0M107.9 284.8h0M125.4 277.5h0M58.1 288.3h0M132 271.5h0M125.7 279.7h0M71.9 296.2h0M62 285.6h0M115.3 299.4h0M98.8 299.6h0M119.6 266.6h0M104.6 276.5h0M138.3 285.9h0M75.9 286.7h0M97.6 280.7h0M93.9 272h0M120.1 295.3h0M135.1 282.5h0M118.6 294.7h0M89 300.6h0M113.1 283.5h0M86.6 292.7h0M135.8 283h0M97 295h0M130.5 294h0M63.2 290.3h0M122.6 277.4h0M104.5 277.4h0M101.6 280h0M139.2 271.1h0M130.9 271.2h0M136.1 274h0M101.8 299.6h0M91.1 291.7h0M114 286.1h0M84.8 279.7h0M114.7 295h0M115.7 283.4h0M76.7 291.9h0M107.3 297.2h0M99.7 275.2h0M112.5 276.9h0M125.5 270.4h0M127.7 271.3h0M139.4 284.4h0M131.5 288.1h0M100.5 294.3h0M112.1 285.9h0M113.5 293.9h0M88.5 274.3h0M120 272.4h0M83.4 293.3h0M99.5 286.3h0M107.7 268.1h0M135 269.7h0" stroke="#ce4a0c" stroke-width="1.78" stroke-linecap="round" fill="none"/>
<path d="M119.3 246.9L119.4 368.3" stroke="#6e6e6e" stroke-width="1" opacity="0.75" fill="none"/>
<path d="M27.4 403.5L136.6 444.3L223.4 397.6M27.4 403.5L21.3 262.8M30 404.5L29.3 407M41 408.6L40.3 411.1M52.3 412.8L51.6 415.3M64 417.2L63.4 419.7M76.1 421.7L75.5 424.2M88.7 426.4L88 428.9M101.7 431.2L101 433.8M115.1 436.3L114.4 438.8M129 441.5L128.4 444M35.4 406.5L35.1 407.9M46.6 410.7L46.2 412M58.1 415L57.8 416.3M70 419.4L69.7 420.8M82.4 424L82 425.4M95.1 428.8L94.7 430.2M108.3 433.7L108 435.1M122 438.9L121.6 440.2M136.2 444.2L135.8 445.5M137.8 443.6L140.3 444.5M148.4 438L150.8 438.9M158.5 432.5L161 433.4M168.3 427.2L170.7 428.2M177.7 422.2L180.1 423.1M186.8 417.3L189.2 418.2M195.5 412.6L197.9 413.5M203.9 408.1L206.3 409M212 403.7L214.5 404.6M219.9 399.5L222.3 400.4M143.2 440.8L144.5 441.3M153.5 435.2L154.8 435.7M163.5 429.8L164.8 430.3M173 424.7L174.4 425.2M182.3 419.7L183.6 420.2M191.2 415L192.5 415.4M199.7 410.3L201 410.8M208 405.9L209.3 406.4M216 401.6L217.3 402.1M27.4 403.5L24.8 403.5M26.7 388L24.1 388M26 372.3L23.4 372.3M25.3 356.4L22.7 356.4M24.7 340.2L22.1 340.2M24 323.8L21.4 323.8M23.2 307.2L20.6 307.2M22.5 290.3L19.9 290.3M21.8 273.2L19.2 273.2M27 395.8L25.6 395.8M26.4 380.2L25 380.2M25.7 364.4L24.3 364.4M25 348.3L23.6 348.3M24.3 332.1L22.9 332.1M23.6 315.6L22.2 315.6M22.9 298.8L21.5 298.8M22.2 281.8L20.8 281.8" stroke="#222" stroke-width="1.2" fill="none"/>
<g fill="#111"><text font-size="5.6" text-anchor="middle" transform="matrix(0.881 -0.474 0.937 0.350 28.7 409.2)">60</text><text font-size="5.6" text-anchor="middle" transform="matrix(0.881 -0.474 0.937 0.350 39.7 413.3)">59</text><text font-size="5.6" text-anchor="middle" transform="matrix(0.881 -0.474 0.937 0.350 51 417.5)">58</text><text font-size="5.6" text-anchor="middle" transform="matrix(0.881 -0.474 0.937 0.350 62.7 421.9)">57</text><text font-size="5.6" text-anchor="middle" transform="matrix(0.881 -0.474 0.937 0.350 74.8 426.4)">56</text><text font-size="5.6" text-anchor="middle" transform="matrix(0.881 -0.474 0.937 0.350 87.4 431.1)">55</text><text font-size="5.6" text-anchor="middle" transform="matrix(0.881 -0.474 0.937 0.350 100.4 435.9)">54</text><text font-size="5.6" text-anchor="middle" transform="matrix(0.881 -0.474 0.937 0.350 113.8 441)">53</text><text font-size="5.6" text-anchor="middle" transform="matrix(0.881 -0.474 0.937 0.350 127.7 446.2)">52</text><text font-size="5.6" text-anchor="middle" transform="matrix(1.049 0.392 -0.389 0.606 142.7 446.7)">-80</text><text font-size="5.6" text-anchor="middle" transform="matrix(1.049 0.392 -0.389 0.606 153.3 441.1)">-81</text><text font-size="5.6" text-anchor="middle" transform="matrix(1.049 0.392 -0.389 0.606 163.4 435.6)">-82</text><text font-size="5.6" text-anchor="middle" transform="matrix(1.049 0.392 -0.389 0.606 173.2 430.3)">-83</text><text font-size="5.6" text-anchor="middle" transform="matrix(1.049 0.392 -0.389 0.606 182.6 425.3)">-84</text><text font-size="5.6" text-anchor="middle" transform="matrix(1.049 0.392 -0.389 0.606 191.7 420.4)">-85</text><text font-size="5.6" text-anchor="middle" transform="matrix(1.049 0.392 -0.389 0.606 200.4 415.7)">-86</text><text font-size="5.6" text-anchor="middle" transform="matrix(1.049 0.392 -0.389 0.606 208.8 411.2)">-87</text><text font-size="5.6" text-anchor="middle" transform="matrix(1.049 0.392 -0.389 0.606 216.9 406.8)">-88</text><text font-size="5.6" text-anchor="middle" transform="matrix(1.049 0.392 -0.389 0.606 224.8 402.6)">-89</text><text font-size="7" text-anchor="middle" transform="matrix(0.951 -0.309 -0.000 1.000 21 406.1)">-5</text><text font-size="7" text-anchor="middle" transform="matrix(0.951 -0.309 -0.000 1.000 20.3 390.6)">0</text><text font-size="7" text-anchor="middle" transform="matrix(0.951 -0.309 -0.000 1.000 19.6 374.9)">5</text><text font-size="7" text-anchor="middle" transform="matrix(0.951 -0.309 -0.000 1.000 18.9 359)">10</text><text font-size="7" text-anchor="middle" transform="matrix(0.951 -0.309 -0.000 1.000 18.3 342.8)">15</text><text font-size="7" text-anchor="middle" transform="matrix(0.951 -0.309 -0.000 1.000 17.6 326.4)">20</text><text font-size="7" text-anchor="middle" transform="matrix(0.951 -0.309 -0.000 1.000 16.8 309.8)">25</text><text font-size="7" text-anchor="middle" transform="matrix(0.951 -0.309 -0.000 1.000 16.1 292.9)">30</text><text font-size="7" text-anchor="middle" transform="matrix(0.951 -0.309 -0.000 1.000 15.4 275.8)">35</text><text font-size="6.6" text-anchor="middle" transform="matrix(0.937 0.350 -0.881 0.474 64.5 430.5)">X(m)</text><text font-size="6.072" text-anchor="middle" transform="matrix(0.881 -0.474 0.937 0.350 201 424.8)">Y(m)</text><text x="13.5" y="339.5" font-size="8" text-anchor="middle" transform="rotate(-90 13.5 339.5)">Z(m)</text></g>
</g>
<g fill="#111" font-size="15.5">
<text x="128" y="225.7" font-size="15.5" text-anchor="middle">(a)</text>
<text x="432" y="225.7" font-size="15.5" text-anchor="middle">(b)</text>
<text x="128.3" y="479.9" font-size="15.5" text-anchor="middle">(c)</text>
<text x="439.8" y="478.6" font-size="16" text-anchor="middle">(d)</text>
</g>
</svg>
</body></html>
